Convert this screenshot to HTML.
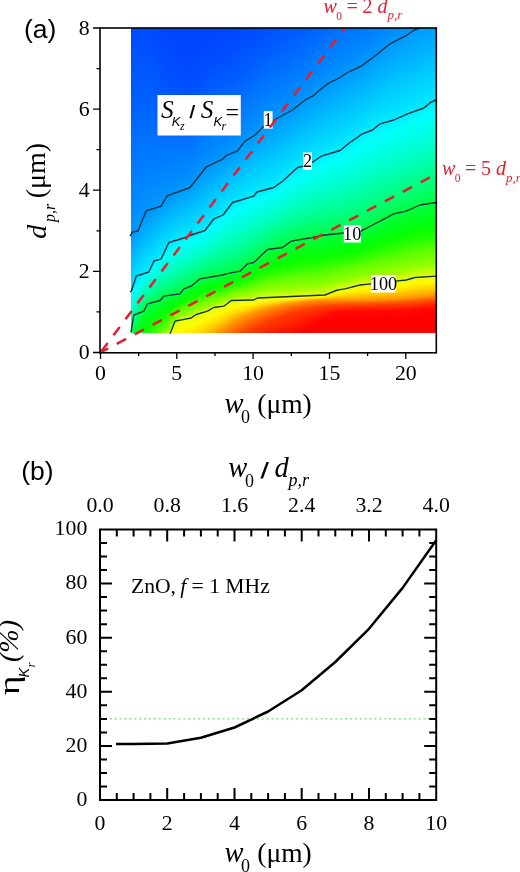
<!DOCTYPE html>
<html lang="en"><head><meta charset="utf-8"><title>Figure</title>
<style>html,body{margin:0;padding:0;background:#fff}svg{display:block}text{font-family:"Liberation Serif","Times New Roman",serif;fill:#000}.ss{font-family:"Liberation Sans",Arial,sans-serif}.it{font-style:italic}.red{fill:#e3202e}</style></head><body>
<svg width="520" height="872" viewBox="0 0 520 872">
<defs><linearGradient id="g0" x1="0" y1="0" x2="0" y2="1"><stop offset="0.000" stop-color="#004aff"/><stop offset="0.016" stop-color="#004bff"/><stop offset="0.251" stop-color="#005fff"/><stop offset="0.407" stop-color="#0073ff"/><stop offset="0.568" stop-color="#0087ff"/><stop offset="0.680" stop-color="#0098ff"/><stop offset="0.861" stop-color="#00ebff"/><stop offset="0.876" stop-color="#00fffa"/><stop offset="0.896" stop-color="#00ffeb"/><stop offset="0.927" stop-color="#00ffc8"/><stop offset="0.963" stop-color="#00ff96"/><stop offset="0.999" stop-color="#00ff5a"/><stop offset="1.000" stop-color="#00ff57"/></linearGradient>
<linearGradient id="g1" x1="0" y1="0" x2="0" y2="1"><stop offset="0.000" stop-color="#004bff"/><stop offset="0.010" stop-color="#004bff"/><stop offset="0.244" stop-color="#005fff"/><stop offset="0.399" stop-color="#0073ff"/><stop offset="0.559" stop-color="#0087ff"/><stop offset="0.669" stop-color="#0098ff"/><stop offset="0.850" stop-color="#00ebff"/><stop offset="0.864" stop-color="#00fffa"/><stop offset="0.882" stop-color="#00ffeb"/><stop offset="0.912" stop-color="#00ffc8"/><stop offset="0.945" stop-color="#00ff96"/><stop offset="0.979" stop-color="#00ff5a"/><stop offset="0.990" stop-color="#00ff41"/><stop offset="1.000" stop-color="#00ff35"/></linearGradient>
<linearGradient id="g2" x1="0" y1="0" x2="0" y2="1"><stop offset="0.000" stop-color="#004bff"/><stop offset="0.005" stop-color="#004bff"/><stop offset="0.237" stop-color="#005fff"/><stop offset="0.391" stop-color="#0073ff"/><stop offset="0.549" stop-color="#0087ff"/><stop offset="0.659" stop-color="#0098ff"/><stop offset="0.840" stop-color="#00ebff"/><stop offset="0.853" stop-color="#00fffa"/><stop offset="0.870" stop-color="#00ffeb"/><stop offset="0.898" stop-color="#00ffc8"/><stop offset="0.929" stop-color="#00ff96"/><stop offset="0.961" stop-color="#00ff5a"/><stop offset="0.972" stop-color="#00ff41"/><stop offset="1.000" stop-color="#00ff21"/></linearGradient>
<linearGradient id="g3" x1="0" y1="0" x2="0" y2="1"><stop offset="0.000" stop-color="#004bff"/><stop offset="0.001" stop-color="#004bff"/><stop offset="0.231" stop-color="#005fff"/><stop offset="0.383" stop-color="#0073ff"/><stop offset="0.541" stop-color="#0087ff"/><stop offset="0.650" stop-color="#0098ff"/><stop offset="0.830" stop-color="#00ebff"/><stop offset="0.843" stop-color="#00fffa"/><stop offset="0.859" stop-color="#00ffeb"/><stop offset="0.885" stop-color="#00ffc8"/><stop offset="0.915" stop-color="#00ff96"/><stop offset="0.945" stop-color="#00ff5a"/><stop offset="0.955" stop-color="#00ff41"/><stop offset="0.993" stop-color="#00ff19"/><stop offset="1.000" stop-color="#02ff13"/></linearGradient>
<linearGradient id="g4" x1="0" y1="0" x2="0" y2="1"><stop offset="0.000" stop-color="#004bff"/><stop offset="0.226" stop-color="#005fff"/><stop offset="0.377" stop-color="#0073ff"/><stop offset="0.533" stop-color="#0087ff"/><stop offset="0.641" stop-color="#0098ff"/><stop offset="0.821" stop-color="#00ebff"/><stop offset="0.833" stop-color="#00fffa"/><stop offset="0.849" stop-color="#00ffeb"/><stop offset="0.874" stop-color="#00ffc8"/><stop offset="0.903" stop-color="#00ff96"/><stop offset="0.932" stop-color="#00ff5a"/><stop offset="0.942" stop-color="#00ff41"/><stop offset="0.981" stop-color="#00ff19"/><stop offset="1.000" stop-color="#06ff0a"/></linearGradient>
<linearGradient id="g5" x1="0" y1="0" x2="0" y2="1"><stop offset="0.000" stop-color="#004cff"/><stop offset="0.221" stop-color="#005fff"/><stop offset="0.371" stop-color="#0073ff"/><stop offset="0.526" stop-color="#0087ff"/><stop offset="0.633" stop-color="#0098ff"/><stop offset="0.811" stop-color="#00ebff"/><stop offset="0.823" stop-color="#00fffa"/><stop offset="0.839" stop-color="#00ffeb"/><stop offset="0.864" stop-color="#00ffc8"/><stop offset="0.893" stop-color="#00ff96"/><stop offset="0.921" stop-color="#00ff5a"/><stop offset="0.931" stop-color="#00ff41"/><stop offset="0.970" stop-color="#00ff19"/><stop offset="1.000" stop-color="#09ff02"/></linearGradient>
<linearGradient id="g6" x1="0" y1="0" x2="0" y2="1"><stop offset="0.000" stop-color="#004cff"/><stop offset="0.217" stop-color="#005fff"/><stop offset="0.366" stop-color="#0073ff"/><stop offset="0.520" stop-color="#0087ff"/><stop offset="0.626" stop-color="#0098ff"/><stop offset="0.803" stop-color="#00ebff"/><stop offset="0.815" stop-color="#00fffa"/><stop offset="0.830" stop-color="#00ffeb"/><stop offset="0.855" stop-color="#00ffc8"/><stop offset="0.884" stop-color="#00ff96"/><stop offset="0.913" stop-color="#00ff5a"/><stop offset="0.922" stop-color="#00ff41"/><stop offset="0.962" stop-color="#00ff19"/><stop offset="0.994" stop-color="#0aff00"/><stop offset="1.000" stop-color="#12ff00"/></linearGradient>
<linearGradient id="g7" x1="0" y1="0" x2="0" y2="1"><stop offset="0.000" stop-color="#004bff"/><stop offset="0.218" stop-color="#005fff"/><stop offset="0.364" stop-color="#0073ff"/><stop offset="0.515" stop-color="#0087ff"/><stop offset="0.619" stop-color="#0098ff"/><stop offset="0.796" stop-color="#00ebff"/><stop offset="0.808" stop-color="#00fffa"/><stop offset="0.824" stop-color="#00ffeb"/><stop offset="0.849" stop-color="#00ffc8"/><stop offset="0.878" stop-color="#00ff96"/><stop offset="0.907" stop-color="#00ff5a"/><stop offset="0.917" stop-color="#00ff41"/><stop offset="0.956" stop-color="#00ff19"/><stop offset="0.987" stop-color="#0aff00"/><stop offset="1.000" stop-color="#1aff00"/></linearGradient>
<linearGradient id="g8" x1="0" y1="0" x2="0" y2="1"><stop offset="0.000" stop-color="#004bff"/><stop offset="0.008" stop-color="#004bff"/><stop offset="0.222" stop-color="#005fff"/><stop offset="0.364" stop-color="#0073ff"/><stop offset="0.511" stop-color="#0087ff"/><stop offset="0.613" stop-color="#0098ff"/><stop offset="0.790" stop-color="#00ebff"/><stop offset="0.802" stop-color="#00fffa"/><stop offset="0.818" stop-color="#00ffeb"/><stop offset="0.844" stop-color="#00ffc8"/><stop offset="0.874" stop-color="#00ff96"/><stop offset="0.903" stop-color="#00ff5a"/><stop offset="0.913" stop-color="#00ff41"/><stop offset="0.951" stop-color="#00ff19"/><stop offset="0.982" stop-color="#0aff00"/><stop offset="1.000" stop-color="#21ff00"/></linearGradient>
<linearGradient id="g9" x1="0" y1="0" x2="0" y2="1"><stop offset="0.000" stop-color="#004aff"/><stop offset="0.019" stop-color="#004bff"/><stop offset="0.227" stop-color="#005fff"/><stop offset="0.365" stop-color="#0073ff"/><stop offset="0.508" stop-color="#0087ff"/><stop offset="0.606" stop-color="#0098ff"/><stop offset="0.785" stop-color="#00ebff"/><stop offset="0.797" stop-color="#00fffa"/><stop offset="0.814" stop-color="#00ffeb"/><stop offset="0.840" stop-color="#00ffc8"/><stop offset="0.869" stop-color="#00ff96"/><stop offset="0.899" stop-color="#00ff5a"/><stop offset="0.909" stop-color="#00ff41"/><stop offset="0.947" stop-color="#00ff19"/><stop offset="0.977" stop-color="#0aff00"/><stop offset="1.000" stop-color="#29ff00"/></linearGradient>
<linearGradient id="g10" x1="0" y1="0" x2="0" y2="1"><stop offset="0.000" stop-color="#004aff"/><stop offset="0.029" stop-color="#004bff"/><stop offset="0.231" stop-color="#005fff"/><stop offset="0.365" stop-color="#0073ff"/><stop offset="0.503" stop-color="#0087ff"/><stop offset="0.599" stop-color="#0098ff"/><stop offset="0.779" stop-color="#00ebff"/><stop offset="0.792" stop-color="#00fffa"/><stop offset="0.808" stop-color="#00ffeb"/><stop offset="0.834" stop-color="#00ffc8"/><stop offset="0.865" stop-color="#00ff96"/><stop offset="0.895" stop-color="#00ff5a"/><stop offset="0.905" stop-color="#00ff41"/><stop offset="0.941" stop-color="#00ff19"/><stop offset="0.971" stop-color="#0aff00"/><stop offset="1.000" stop-color="#31ff00"/></linearGradient>
<linearGradient id="g11" x1="0" y1="0" x2="0" y2="1"><stop offset="0.000" stop-color="#0049ff"/><stop offset="0.039" stop-color="#004bff"/><stop offset="0.236" stop-color="#005fff"/><stop offset="0.365" stop-color="#0073ff"/><stop offset="0.499" stop-color="#0087ff"/><stop offset="0.592" stop-color="#0098ff"/><stop offset="0.773" stop-color="#00ebff"/><stop offset="0.786" stop-color="#00fffa"/><stop offset="0.802" stop-color="#00ffeb"/><stop offset="0.829" stop-color="#00ffc8"/><stop offset="0.859" stop-color="#00ff96"/><stop offset="0.890" stop-color="#00ff5a"/><stop offset="0.900" stop-color="#00ff41"/><stop offset="0.936" stop-color="#00ff19"/><stop offset="0.965" stop-color="#0aff00"/><stop offset="0.994" stop-color="#32ff00"/><stop offset="1.000" stop-color="#3eff00"/></linearGradient>
<linearGradient id="g12" x1="0" y1="0" x2="0" y2="1"><stop offset="0.000" stop-color="#0049ff"/><stop offset="0.051" stop-color="#004bff"/><stop offset="0.240" stop-color="#005fff"/><stop offset="0.366" stop-color="#0073ff"/><stop offset="0.496" stop-color="#0087ff"/><stop offset="0.586" stop-color="#0098ff"/><stop offset="0.765" stop-color="#00ebff"/><stop offset="0.778" stop-color="#00fffa"/><stop offset="0.795" stop-color="#00ffeb"/><stop offset="0.823" stop-color="#00ffc8"/><stop offset="0.854" stop-color="#00ff96"/><stop offset="0.886" stop-color="#00ff5a"/><stop offset="0.896" stop-color="#00ff41"/><stop offset="0.931" stop-color="#00ff19"/><stop offset="0.959" stop-color="#0aff00"/><stop offset="0.988" stop-color="#32ff00"/><stop offset="1.000" stop-color="#4cff00"/></linearGradient>
<linearGradient id="g13" x1="0" y1="0" x2="0" y2="1"><stop offset="0.000" stop-color="#0048ff"/><stop offset="0.063" stop-color="#004bff"/><stop offset="0.246" stop-color="#005fff"/><stop offset="0.368" stop-color="#0073ff"/><stop offset="0.494" stop-color="#0087ff"/><stop offset="0.580" stop-color="#0098ff"/><stop offset="0.757" stop-color="#00ebff"/><stop offset="0.771" stop-color="#00fffa"/><stop offset="0.788" stop-color="#00ffeb"/><stop offset="0.817" stop-color="#00ffc8"/><stop offset="0.849" stop-color="#00ff96"/><stop offset="0.881" stop-color="#00ff5a"/><stop offset="0.892" stop-color="#00ff41"/><stop offset="0.926" stop-color="#00ff19"/><stop offset="0.954" stop-color="#0aff00"/><stop offset="0.981" stop-color="#32ff00"/><stop offset="1.000" stop-color="#5aff00"/></linearGradient>
<linearGradient id="g14" x1="0" y1="0" x2="0" y2="1"><stop offset="0.000" stop-color="#0047ff"/><stop offset="0.076" stop-color="#004bff"/><stop offset="0.253" stop-color="#005fff"/><stop offset="0.371" stop-color="#0073ff"/><stop offset="0.492" stop-color="#0087ff"/><stop offset="0.576" stop-color="#0098ff"/><stop offset="0.749" stop-color="#00ebff"/><stop offset="0.763" stop-color="#00fffa"/><stop offset="0.781" stop-color="#00ffeb"/><stop offset="0.811" stop-color="#00ffc8"/><stop offset="0.844" stop-color="#00ff96"/><stop offset="0.878" stop-color="#00ff5a"/><stop offset="0.889" stop-color="#00ff41"/><stop offset="0.922" stop-color="#00ff19"/><stop offset="0.949" stop-color="#0aff00"/><stop offset="0.975" stop-color="#32ff00"/><stop offset="0.993" stop-color="#5aff00"/><stop offset="1.000" stop-color="#65ff00"/></linearGradient>
<linearGradient id="g15" x1="0" y1="0" x2="0" y2="1"><stop offset="0.000" stop-color="#0047ff"/><stop offset="0.089" stop-color="#004bff"/><stop offset="0.260" stop-color="#005fff"/><stop offset="0.373" stop-color="#0073ff"/><stop offset="0.491" stop-color="#0087ff"/><stop offset="0.572" stop-color="#0098ff"/><stop offset="0.741" stop-color="#00ebff"/><stop offset="0.755" stop-color="#00fffa"/><stop offset="0.774" stop-color="#00ffeb"/><stop offset="0.805" stop-color="#00ffc8"/><stop offset="0.840" stop-color="#00ff96"/><stop offset="0.875" stop-color="#00ff5a"/><stop offset="0.887" stop-color="#00ff41"/><stop offset="0.919" stop-color="#00ff19"/><stop offset="0.944" stop-color="#0aff00"/><stop offset="0.969" stop-color="#32ff00"/><stop offset="0.986" stop-color="#5aff00"/><stop offset="1.000" stop-color="#71ff00"/></linearGradient>
<linearGradient id="g16" x1="0" y1="0" x2="0" y2="1"><stop offset="0.002" stop-color="#0046ff"/><stop offset="0.102" stop-color="#004bff"/><stop offset="0.267" stop-color="#005fff"/><stop offset="0.376" stop-color="#0073ff"/><stop offset="0.489" stop-color="#0087ff"/><stop offset="0.567" stop-color="#0098ff"/><stop offset="0.734" stop-color="#00ebff"/><stop offset="0.749" stop-color="#00fffa"/><stop offset="0.768" stop-color="#00ffeb"/><stop offset="0.800" stop-color="#00ffc8"/><stop offset="0.836" stop-color="#00ff96"/><stop offset="0.873" stop-color="#00ff5a"/><stop offset="0.885" stop-color="#00ff41"/><stop offset="0.915" stop-color="#00ff19"/><stop offset="0.939" stop-color="#0aff00"/><stop offset="0.963" stop-color="#32ff00"/><stop offset="0.979" stop-color="#5aff00"/><stop offset="1.000" stop-color="#80ff00"/></linearGradient>
<linearGradient id="g17" x1="0" y1="0" x2="0" y2="1"><stop offset="0.014" stop-color="#0046ff"/><stop offset="0.111" stop-color="#004bff"/><stop offset="0.271" stop-color="#005fff"/><stop offset="0.377" stop-color="#0073ff"/><stop offset="0.487" stop-color="#0087ff"/><stop offset="0.563" stop-color="#0098ff"/><stop offset="0.727" stop-color="#00ebff"/><stop offset="0.743" stop-color="#00fffa"/><stop offset="0.763" stop-color="#00ffeb"/><stop offset="0.796" stop-color="#00ffc8"/><stop offset="0.833" stop-color="#00ff96"/><stop offset="0.870" stop-color="#00ff5a"/><stop offset="0.883" stop-color="#00ff41"/><stop offset="0.911" stop-color="#00ff19"/><stop offset="0.933" stop-color="#0aff00"/><stop offset="0.956" stop-color="#32ff00"/><stop offset="0.971" stop-color="#5aff00"/><stop offset="1.000" stop-color="#91ff00"/></linearGradient>
<linearGradient id="g18" x1="0" y1="0" x2="0" y2="1"><stop offset="0.021" stop-color="#0046ff"/><stop offset="0.116" stop-color="#004bff"/><stop offset="0.273" stop-color="#005fff"/><stop offset="0.377" stop-color="#0073ff"/><stop offset="0.484" stop-color="#0087ff"/><stop offset="0.558" stop-color="#0098ff"/><stop offset="0.722" stop-color="#00ebff"/><stop offset="0.737" stop-color="#00fffa"/><stop offset="0.758" stop-color="#00ffeb"/><stop offset="0.792" stop-color="#00ffc8"/><stop offset="0.830" stop-color="#00ff96"/><stop offset="0.868" stop-color="#00ff5a"/><stop offset="0.881" stop-color="#00ff41"/><stop offset="0.907" stop-color="#00ff19"/><stop offset="0.928" stop-color="#0aff00"/><stop offset="0.949" stop-color="#32ff00"/><stop offset="0.963" stop-color="#5aff00"/><stop offset="0.992" stop-color="#96ff00"/><stop offset="1.000" stop-color="#b8ff06"/></linearGradient>
<linearGradient id="g19" x1="0" y1="0" x2="0" y2="1"><stop offset="0.027" stop-color="#0046ff"/><stop offset="0.121" stop-color="#004bff"/><stop offset="0.274" stop-color="#005fff"/><stop offset="0.376" stop-color="#0073ff"/><stop offset="0.481" stop-color="#0087ff"/><stop offset="0.554" stop-color="#0098ff"/><stop offset="0.716" stop-color="#00ebff"/><stop offset="0.732" stop-color="#00fffa"/><stop offset="0.753" stop-color="#00ffeb"/><stop offset="0.787" stop-color="#00ffc8"/><stop offset="0.826" stop-color="#00ff96"/><stop offset="0.865" stop-color="#00ff5a"/><stop offset="0.878" stop-color="#00ff41"/><stop offset="0.902" stop-color="#00ff19"/><stop offset="0.922" stop-color="#0aff00"/><stop offset="0.941" stop-color="#32ff00"/><stop offset="0.955" stop-color="#5aff00"/><stop offset="0.981" stop-color="#96ff00"/><stop offset="1.000" stop-color="#e6ff0f"/><stop offset="1.000" stop-color="#e6ff0f"/></linearGradient>
<linearGradient id="g20" x1="0" y1="0" x2="0" y2="1"><stop offset="0.034" stop-color="#0046ff"/><stop offset="0.125" stop-color="#004bff"/><stop offset="0.276" stop-color="#005fff"/><stop offset="0.375" stop-color="#0073ff"/><stop offset="0.478" stop-color="#0087ff"/><stop offset="0.549" stop-color="#0098ff"/><stop offset="0.710" stop-color="#00ebff"/><stop offset="0.727" stop-color="#00fffa"/><stop offset="0.748" stop-color="#00ffeb"/><stop offset="0.783" stop-color="#00ffc8"/><stop offset="0.822" stop-color="#00ff96"/><stop offset="0.862" stop-color="#00ff5a"/><stop offset="0.875" stop-color="#00ff41"/><stop offset="0.898" stop-color="#00ff19"/><stop offset="0.916" stop-color="#0aff00"/><stop offset="0.934" stop-color="#32ff00"/><stop offset="0.947" stop-color="#5aff00"/><stop offset="0.972" stop-color="#96ff00"/><stop offset="0.989" stop-color="#e6ff0f"/><stop offset="1.000" stop-color="#effd0a"/></linearGradient>
<linearGradient id="g21" x1="0" y1="0" x2="0" y2="1"><stop offset="0.041" stop-color="#0046ff"/><stop offset="0.130" stop-color="#004bff"/><stop offset="0.277" stop-color="#005fff"/><stop offset="0.374" stop-color="#0073ff"/><stop offset="0.475" stop-color="#0087ff"/><stop offset="0.545" stop-color="#0098ff"/><stop offset="0.704" stop-color="#00ebff"/><stop offset="0.721" stop-color="#00fffa"/><stop offset="0.743" stop-color="#00ffeb"/><stop offset="0.778" stop-color="#00ffc8"/><stop offset="0.818" stop-color="#00ff96"/><stop offset="0.859" stop-color="#00ff5a"/><stop offset="0.872" stop-color="#00ff41"/><stop offset="0.893" stop-color="#00ff19"/><stop offset="0.911" stop-color="#0aff00"/><stop offset="0.928" stop-color="#32ff00"/><stop offset="0.940" stop-color="#5aff00"/><stop offset="0.963" stop-color="#96ff00"/><stop offset="0.979" stop-color="#e6ff0f"/><stop offset="1.000" stop-color="#f6fc06"/></linearGradient>
<linearGradient id="g22" x1="0" y1="0" x2="0" y2="1"><stop offset="0.048" stop-color="#0046ff"/><stop offset="0.135" stop-color="#004bff"/><stop offset="0.279" stop-color="#005fff"/><stop offset="0.374" stop-color="#0073ff"/><stop offset="0.473" stop-color="#0087ff"/><stop offset="0.541" stop-color="#0098ff"/><stop offset="0.699" stop-color="#00ebff"/><stop offset="0.716" stop-color="#00fffa"/><stop offset="0.738" stop-color="#00ffeb"/><stop offset="0.774" stop-color="#00ffc8"/><stop offset="0.815" stop-color="#00ff96"/><stop offset="0.856" stop-color="#00ff5a"/><stop offset="0.869" stop-color="#00ff41"/><stop offset="0.890" stop-color="#00ff19"/><stop offset="0.906" stop-color="#0aff00"/><stop offset="0.922" stop-color="#32ff00"/><stop offset="0.933" stop-color="#5aff00"/><stop offset="0.956" stop-color="#96ff00"/><stop offset="0.971" stop-color="#e6ff0f"/><stop offset="1.000" stop-color="#fbfb02"/></linearGradient>
<linearGradient id="g23" x1="0" y1="0" x2="0" y2="1"><stop offset="0.055" stop-color="#0046ff"/><stop offset="0.141" stop-color="#004bff"/><stop offset="0.281" stop-color="#005fff"/><stop offset="0.374" stop-color="#0073ff"/><stop offset="0.471" stop-color="#0087ff"/><stop offset="0.537" stop-color="#0098ff"/><stop offset="0.695" stop-color="#00ebff"/><stop offset="0.712" stop-color="#00fffa"/><stop offset="0.735" stop-color="#00ffeb"/><stop offset="0.771" stop-color="#00ffc8"/><stop offset="0.812" stop-color="#00ff96"/><stop offset="0.853" stop-color="#00ff5a"/><stop offset="0.867" stop-color="#00ff41"/><stop offset="0.886" stop-color="#00ff19"/><stop offset="0.902" stop-color="#0aff00"/><stop offset="0.918" stop-color="#32ff00"/><stop offset="0.928" stop-color="#5aff00"/><stop offset="0.950" stop-color="#96ff00"/><stop offset="0.965" stop-color="#e6ff0f"/><stop offset="0.999" stop-color="#fffa00"/><stop offset="1.000" stop-color="#fff900"/></linearGradient>
<linearGradient id="g24" x1="0" y1="0" x2="0" y2="1"><stop offset="0.064" stop-color="#0046ff"/><stop offset="0.147" stop-color="#004bff"/><stop offset="0.284" stop-color="#005fff"/><stop offset="0.375" stop-color="#0073ff"/><stop offset="0.469" stop-color="#0087ff"/><stop offset="0.534" stop-color="#0098ff"/><stop offset="0.692" stop-color="#00ebff"/><stop offset="0.709" stop-color="#00fffa"/><stop offset="0.732" stop-color="#00ffeb"/><stop offset="0.768" stop-color="#00ffc8"/><stop offset="0.809" stop-color="#00ff96"/><stop offset="0.850" stop-color="#00ff5a"/><stop offset="0.864" stop-color="#00ff41"/><stop offset="0.883" stop-color="#00ff19"/><stop offset="0.899" stop-color="#0aff00"/><stop offset="0.914" stop-color="#32ff00"/><stop offset="0.924" stop-color="#5aff00"/><stop offset="0.945" stop-color="#96ff00"/><stop offset="0.960" stop-color="#e6ff0f"/><stop offset="0.994" stop-color="#fffa00"/><stop offset="1.000" stop-color="#fff500"/></linearGradient>
<linearGradient id="g25" x1="0" y1="0" x2="0" y2="1"><stop offset="0.072" stop-color="#0046ff"/><stop offset="0.153" stop-color="#004bff"/><stop offset="0.287" stop-color="#005fff"/><stop offset="0.376" stop-color="#0073ff"/><stop offset="0.468" stop-color="#0087ff"/><stop offset="0.531" stop-color="#0098ff"/><stop offset="0.690" stop-color="#00ebff"/><stop offset="0.707" stop-color="#00fffa"/><stop offset="0.729" stop-color="#00ffeb"/><stop offset="0.765" stop-color="#00ffc8"/><stop offset="0.806" stop-color="#00ff96"/><stop offset="0.848" stop-color="#00ff5a"/><stop offset="0.861" stop-color="#00ff41"/><stop offset="0.880" stop-color="#00ff19"/><stop offset="0.896" stop-color="#0aff00"/><stop offset="0.911" stop-color="#32ff00"/><stop offset="0.922" stop-color="#5aff00"/><stop offset="0.943" stop-color="#96ff00"/><stop offset="0.957" stop-color="#e6ff0f"/><stop offset="0.991" stop-color="#fffa00"/><stop offset="1.000" stop-color="#fff200"/></linearGradient>
<linearGradient id="g26" x1="0" y1="0" x2="0" y2="1"><stop offset="0.079" stop-color="#0046ff"/><stop offset="0.158" stop-color="#004bff"/><stop offset="0.289" stop-color="#005fff"/><stop offset="0.376" stop-color="#0073ff"/><stop offset="0.466" stop-color="#0087ff"/><stop offset="0.528" stop-color="#0098ff"/><stop offset="0.687" stop-color="#00ebff"/><stop offset="0.704" stop-color="#00fffa"/><stop offset="0.727" stop-color="#00ffeb"/><stop offset="0.762" stop-color="#00ffc8"/><stop offset="0.803" stop-color="#00ff96"/><stop offset="0.844" stop-color="#00ff5a"/><stop offset="0.858" stop-color="#00ff41"/><stop offset="0.877" stop-color="#00ff19"/><stop offset="0.893" stop-color="#0aff00"/><stop offset="0.909" stop-color="#32ff00"/><stop offset="0.919" stop-color="#5aff00"/><stop offset="0.941" stop-color="#96ff00"/><stop offset="0.956" stop-color="#e6ff0f"/><stop offset="0.989" stop-color="#fffa00"/><stop offset="1.000" stop-color="#fff000"/></linearGradient>
<linearGradient id="g27" x1="0" y1="0" x2="0" y2="1"><stop offset="0.086" stop-color="#0046ff"/><stop offset="0.163" stop-color="#004bff"/><stop offset="0.291" stop-color="#005fff"/><stop offset="0.376" stop-color="#0073ff"/><stop offset="0.463" stop-color="#0087ff"/><stop offset="0.523" stop-color="#0098ff"/><stop offset="0.685" stop-color="#00ebff"/><stop offset="0.702" stop-color="#00fffa"/><stop offset="0.724" stop-color="#00ffeb"/><stop offset="0.760" stop-color="#00ffc8"/><stop offset="0.800" stop-color="#00ff96"/><stop offset="0.841" stop-color="#00ff5a"/><stop offset="0.854" stop-color="#00ff41"/><stop offset="0.874" stop-color="#00ff19"/><stop offset="0.890" stop-color="#0aff00"/><stop offset="0.906" stop-color="#32ff00"/><stop offset="0.917" stop-color="#5aff00"/><stop offset="0.939" stop-color="#96ff00"/><stop offset="0.954" stop-color="#e6ff0f"/><stop offset="0.986" stop-color="#fffa00"/><stop offset="1.000" stop-color="#ffed00"/></linearGradient>
<linearGradient id="g28" x1="0" y1="0" x2="0" y2="1"><stop offset="0.093" stop-color="#0046ff"/><stop offset="0.168" stop-color="#004bff"/><stop offset="0.292" stop-color="#005fff"/><stop offset="0.375" stop-color="#0073ff"/><stop offset="0.460" stop-color="#0087ff"/><stop offset="0.519" stop-color="#0098ff"/><stop offset="0.683" stop-color="#00ebff"/><stop offset="0.700" stop-color="#00fffa"/><stop offset="0.721" stop-color="#00ffeb"/><stop offset="0.757" stop-color="#00ffc8"/><stop offset="0.797" stop-color="#00ff96"/><stop offset="0.837" stop-color="#00ff5a"/><stop offset="0.850" stop-color="#00ff41"/><stop offset="0.871" stop-color="#00ff19"/><stop offset="0.887" stop-color="#0aff00"/><stop offset="0.903" stop-color="#32ff00"/><stop offset="0.914" stop-color="#5aff00"/><stop offset="0.937" stop-color="#96ff00"/><stop offset="0.952" stop-color="#e6ff0f"/><stop offset="0.984" stop-color="#fffa00"/><stop offset="1.000" stop-color="#ffea00"/></linearGradient>
<linearGradient id="g29" x1="0" y1="0" x2="0" y2="1"><stop offset="0.087" stop-color="#0046ff"/><stop offset="0.163" stop-color="#004bff"/><stop offset="0.287" stop-color="#005fff"/><stop offset="0.370" stop-color="#0073ff"/><stop offset="0.455" stop-color="#0087ff"/><stop offset="0.514" stop-color="#0098ff"/><stop offset="0.681" stop-color="#00ebff"/><stop offset="0.697" stop-color="#00fffa"/><stop offset="0.719" stop-color="#00ffeb"/><stop offset="0.753" stop-color="#00ffc8"/><stop offset="0.793" stop-color="#00ff96"/><stop offset="0.833" stop-color="#00ff5a"/><stop offset="0.846" stop-color="#00ff41"/><stop offset="0.867" stop-color="#00ff19"/><stop offset="0.883" stop-color="#0aff00"/><stop offset="0.900" stop-color="#32ff00"/><stop offset="0.911" stop-color="#5aff00"/><stop offset="0.934" stop-color="#96ff00"/><stop offset="0.950" stop-color="#e6ff0f"/><stop offset="0.981" stop-color="#fffa00"/><stop offset="1.000" stop-color="#ffe700"/></linearGradient>
<linearGradient id="g30" x1="0" y1="0" x2="0" y2="1"><stop offset="0.082" stop-color="#0046ff"/><stop offset="0.157" stop-color="#004bff"/><stop offset="0.282" stop-color="#005fff"/><stop offset="0.364" stop-color="#0073ff"/><stop offset="0.449" stop-color="#0087ff"/><stop offset="0.508" stop-color="#0098ff"/><stop offset="0.678" stop-color="#00ebff"/><stop offset="0.695" stop-color="#00fffa"/><stop offset="0.716" stop-color="#00ffeb"/><stop offset="0.750" stop-color="#00ffc8"/><stop offset="0.790" stop-color="#00ff96"/><stop offset="0.829" stop-color="#00ff5a"/><stop offset="0.842" stop-color="#00ff41"/><stop offset="0.863" stop-color="#00ff19"/><stop offset="0.880" stop-color="#0aff00"/><stop offset="0.897" stop-color="#32ff00"/><stop offset="0.908" stop-color="#5aff00"/><stop offset="0.931" stop-color="#96ff00"/><stop offset="0.947" stop-color="#e6ff0f"/><stop offset="0.978" stop-color="#fffa00"/><stop offset="1.000" stop-color="#ffe400"/></linearGradient>
<linearGradient id="g31" x1="0" y1="0" x2="0" y2="1"><stop offset="0.076" stop-color="#0046ff"/><stop offset="0.151" stop-color="#004bff"/><stop offset="0.276" stop-color="#005fff"/><stop offset="0.358" stop-color="#0073ff"/><stop offset="0.443" stop-color="#0087ff"/><stop offset="0.502" stop-color="#0098ff"/><stop offset="0.676" stop-color="#00ebff"/><stop offset="0.692" stop-color="#00fffa"/><stop offset="0.713" stop-color="#00ffeb"/><stop offset="0.747" stop-color="#00ffc8"/><stop offset="0.786" stop-color="#00ff96"/><stop offset="0.825" stop-color="#00ff5a"/><stop offset="0.838" stop-color="#00ff41"/><stop offset="0.859" stop-color="#00ff19"/><stop offset="0.876" stop-color="#0aff00"/><stop offset="0.893" stop-color="#32ff00"/><stop offset="0.905" stop-color="#5aff00"/><stop offset="0.929" stop-color="#96ff00"/><stop offset="0.945" stop-color="#e6ff0f"/><stop offset="0.975" stop-color="#fffa00"/><stop offset="1.000" stop-color="#ffe000"/></linearGradient>
<linearGradient id="g32" x1="0" y1="0" x2="0" y2="1"><stop offset="0.070" stop-color="#0046ff"/><stop offset="0.145" stop-color="#004bff"/><stop offset="0.270" stop-color="#005fff"/><stop offset="0.352" stop-color="#0073ff"/><stop offset="0.437" stop-color="#0087ff"/><stop offset="0.496" stop-color="#0098ff"/><stop offset="0.673" stop-color="#00ebff"/><stop offset="0.689" stop-color="#00fffa"/><stop offset="0.710" stop-color="#00ffeb"/><stop offset="0.744" stop-color="#00ffc8"/><stop offset="0.783" stop-color="#00ff96"/><stop offset="0.822" stop-color="#00ff5a"/><stop offset="0.835" stop-color="#00ff41"/><stop offset="0.856" stop-color="#00ff19"/><stop offset="0.873" stop-color="#0aff00"/><stop offset="0.890" stop-color="#32ff00"/><stop offset="0.902" stop-color="#5aff00"/><stop offset="0.926" stop-color="#96ff00"/><stop offset="0.942" stop-color="#e6ff0f"/><stop offset="0.972" stop-color="#fffa00"/><stop offset="1.000" stop-color="#ffdc00"/></linearGradient>
<linearGradient id="g33" x1="0" y1="0" x2="0" y2="1"><stop offset="0.063" stop-color="#0046ff"/><stop offset="0.139" stop-color="#004bff"/><stop offset="0.263" stop-color="#005fff"/><stop offset="0.346" stop-color="#0073ff"/><stop offset="0.431" stop-color="#0087ff"/><stop offset="0.490" stop-color="#0098ff"/><stop offset="0.670" stop-color="#00ebff"/><stop offset="0.686" stop-color="#00fffa"/><stop offset="0.707" stop-color="#00ffeb"/><stop offset="0.741" stop-color="#00ffc8"/><stop offset="0.780" stop-color="#00ff96"/><stop offset="0.819" stop-color="#00ff5a"/><stop offset="0.832" stop-color="#00ff41"/><stop offset="0.853" stop-color="#00ff19"/><stop offset="0.870" stop-color="#0aff00"/><stop offset="0.888" stop-color="#32ff00"/><stop offset="0.899" stop-color="#5aff00"/><stop offset="0.923" stop-color="#96ff00"/><stop offset="0.939" stop-color="#e6ff0f"/><stop offset="0.968" stop-color="#fffa00"/><stop offset="0.997" stop-color="#ffdc00"/><stop offset="1.000" stop-color="#ffd700"/></linearGradient>
<linearGradient id="g34" x1="0" y1="0" x2="0" y2="1"><stop offset="0.057" stop-color="#0046ff"/><stop offset="0.132" stop-color="#004bff"/><stop offset="0.257" stop-color="#005fff"/><stop offset="0.339" stop-color="#0073ff"/><stop offset="0.424" stop-color="#0087ff"/><stop offset="0.483" stop-color="#0098ff"/><stop offset="0.666" stop-color="#00ebff"/><stop offset="0.682" stop-color="#00fffa"/><stop offset="0.703" stop-color="#00ffeb"/><stop offset="0.737" stop-color="#00ffc8"/><stop offset="0.777" stop-color="#00ff96"/><stop offset="0.816" stop-color="#00ff5a"/><stop offset="0.829" stop-color="#00ff41"/><stop offset="0.850" stop-color="#00ff19"/><stop offset="0.867" stop-color="#0aff00"/><stop offset="0.885" stop-color="#32ff00"/><stop offset="0.897" stop-color="#5aff00"/><stop offset="0.920" stop-color="#96ff00"/><stop offset="0.936" stop-color="#e6ff0f"/><stop offset="0.965" stop-color="#fffa00"/><stop offset="0.993" stop-color="#ffdc00"/><stop offset="1.000" stop-color="#ffd100"/></linearGradient>
<linearGradient id="g35" x1="0" y1="0" x2="0" y2="1"><stop offset="0.051" stop-color="#0046ff"/><stop offset="0.126" stop-color="#004bff"/><stop offset="0.250" stop-color="#005fff"/><stop offset="0.333" stop-color="#0073ff"/><stop offset="0.418" stop-color="#0087ff"/><stop offset="0.477" stop-color="#0098ff"/><stop offset="0.661" stop-color="#00ebff"/><stop offset="0.678" stop-color="#00fffa"/><stop offset="0.699" stop-color="#00ffeb"/><stop offset="0.734" stop-color="#00ffc8"/><stop offset="0.773" stop-color="#00ff96"/><stop offset="0.813" stop-color="#00ff5a"/><stop offset="0.826" stop-color="#00ff41"/><stop offset="0.848" stop-color="#00ff19"/><stop offset="0.865" stop-color="#0aff00"/><stop offset="0.882" stop-color="#32ff00"/><stop offset="0.894" stop-color="#5aff00"/><stop offset="0.918" stop-color="#96ff00"/><stop offset="0.934" stop-color="#e6ff0f"/><stop offset="0.962" stop-color="#fffa00"/><stop offset="0.989" stop-color="#ffdc00"/><stop offset="1.000" stop-color="#ffcb00"/></linearGradient>
<linearGradient id="g36" x1="0" y1="0" x2="0" y2="1"><stop offset="0.044" stop-color="#0046ff"/><stop offset="0.120" stop-color="#004bff"/><stop offset="0.244" stop-color="#005fff"/><stop offset="0.326" stop-color="#0073ff"/><stop offset="0.412" stop-color="#0087ff"/><stop offset="0.470" stop-color="#0098ff"/><stop offset="0.657" stop-color="#00ebff"/><stop offset="0.673" stop-color="#00fffa"/><stop offset="0.695" stop-color="#00ffeb"/><stop offset="0.730" stop-color="#00ffc8"/><stop offset="0.770" stop-color="#00ff96"/><stop offset="0.810" stop-color="#00ff5a"/><stop offset="0.823" stop-color="#00ff41"/><stop offset="0.845" stop-color="#00ff19"/><stop offset="0.862" stop-color="#0aff00"/><stop offset="0.879" stop-color="#32ff00"/><stop offset="0.891" stop-color="#5aff00"/><stop offset="0.915" stop-color="#96ff00"/><stop offset="0.931" stop-color="#e6ff0f"/><stop offset="0.959" stop-color="#fffa00"/><stop offset="0.986" stop-color="#ffdc00"/><stop offset="1.000" stop-color="#ffc500"/></linearGradient>
<linearGradient id="g37" x1="0" y1="0" x2="0" y2="1"><stop offset="0.038" stop-color="#0046ff"/><stop offset="0.114" stop-color="#004bff"/><stop offset="0.238" stop-color="#005fff"/><stop offset="0.320" stop-color="#0073ff"/><stop offset="0.406" stop-color="#0087ff"/><stop offset="0.464" stop-color="#0098ff"/><stop offset="0.652" stop-color="#00ebff"/><stop offset="0.669" stop-color="#00fffa"/><stop offset="0.691" stop-color="#00ffeb"/><stop offset="0.726" stop-color="#00ffc8"/><stop offset="0.767" stop-color="#00ff96"/><stop offset="0.807" stop-color="#00ff5a"/><stop offset="0.821" stop-color="#00ff41"/><stop offset="0.842" stop-color="#00ff19"/><stop offset="0.860" stop-color="#0aff00"/><stop offset="0.877" stop-color="#32ff00"/><stop offset="0.889" stop-color="#5aff00"/><stop offset="0.913" stop-color="#96ff00"/><stop offset="0.929" stop-color="#e6ff0f"/><stop offset="0.956" stop-color="#fffa00"/><stop offset="0.982" stop-color="#ffdc00"/><stop offset="1.000" stop-color="#ffbf00"/></linearGradient>
<linearGradient id="g38" x1="0" y1="0" x2="0" y2="1"><stop offset="0.033" stop-color="#0046ff"/><stop offset="0.108" stop-color="#004bff"/><stop offset="0.232" stop-color="#005fff"/><stop offset="0.315" stop-color="#0073ff"/><stop offset="0.400" stop-color="#0087ff"/><stop offset="0.459" stop-color="#0098ff"/><stop offset="0.648" stop-color="#00ebff"/><stop offset="0.665" stop-color="#00fffa"/><stop offset="0.687" stop-color="#00ffeb"/><stop offset="0.723" stop-color="#00ffc8"/><stop offset="0.764" stop-color="#00ff96"/><stop offset="0.805" stop-color="#00ff5a"/><stop offset="0.819" stop-color="#00ff41"/><stop offset="0.840" stop-color="#00ff19"/><stop offset="0.857" stop-color="#0aff00"/><stop offset="0.875" stop-color="#32ff00"/><stop offset="0.886" stop-color="#5aff00"/><stop offset="0.910" stop-color="#96ff00"/><stop offset="0.926" stop-color="#e6ff0f"/><stop offset="0.953" stop-color="#fffa00"/><stop offset="0.978" stop-color="#ffdc00"/><stop offset="1.000" stop-color="#ffb800"/></linearGradient>
<linearGradient id="g39" x1="0" y1="0" x2="0" y2="1"><stop offset="0.027" stop-color="#0046ff"/><stop offset="0.103" stop-color="#004bff"/><stop offset="0.227" stop-color="#005fff"/><stop offset="0.309" stop-color="#0073ff"/><stop offset="0.395" stop-color="#0087ff"/><stop offset="0.454" stop-color="#0098ff"/><stop offset="0.643" stop-color="#00ebff"/><stop offset="0.660" stop-color="#00fffa"/><stop offset="0.683" stop-color="#00ffeb"/><stop offset="0.719" stop-color="#00ffc8"/><stop offset="0.761" stop-color="#00ff96"/><stop offset="0.803" stop-color="#00ff5a"/><stop offset="0.817" stop-color="#00ff41"/><stop offset="0.838" stop-color="#00ff19"/><stop offset="0.855" stop-color="#0aff00"/><stop offset="0.872" stop-color="#32ff00"/><stop offset="0.884" stop-color="#5aff00"/><stop offset="0.908" stop-color="#96ff00"/><stop offset="0.924" stop-color="#e6ff0f"/><stop offset="0.950" stop-color="#fffa00"/><stop offset="0.975" stop-color="#ffdc00"/><stop offset="1.000" stop-color="#ffb100"/></linearGradient>
<linearGradient id="g40" x1="0" y1="0" x2="0" y2="1"><stop offset="0.022" stop-color="#0046ff"/><stop offset="0.098" stop-color="#004bff"/><stop offset="0.222" stop-color="#005fff"/><stop offset="0.305" stop-color="#0073ff"/><stop offset="0.390" stop-color="#0087ff"/><stop offset="0.449" stop-color="#0098ff"/><stop offset="0.638" stop-color="#00ebff"/><stop offset="0.656" stop-color="#00fffa"/><stop offset="0.679" stop-color="#00ffeb"/><stop offset="0.716" stop-color="#00ffc8"/><stop offset="0.759" stop-color="#00ff96"/><stop offset="0.801" stop-color="#00ff5a"/><stop offset="0.816" stop-color="#00ff41"/><stop offset="0.837" stop-color="#00ff19"/><stop offset="0.854" stop-color="#0aff00"/><stop offset="0.871" stop-color="#32ff00"/><stop offset="0.882" stop-color="#5aff00"/><stop offset="0.905" stop-color="#96ff00"/><stop offset="0.921" stop-color="#e6ff0f"/><stop offset="0.947" stop-color="#fffa00"/><stop offset="0.971" stop-color="#ffdc00"/><stop offset="1.000" stop-color="#ffaa00"/></linearGradient>
<linearGradient id="g41" x1="0" y1="0" x2="0" y2="1"><stop offset="0.018" stop-color="#0046ff"/><stop offset="0.093" stop-color="#004bff"/><stop offset="0.218" stop-color="#005fff"/><stop offset="0.300" stop-color="#0073ff"/><stop offset="0.385" stop-color="#0087ff"/><stop offset="0.444" stop-color="#0098ff"/><stop offset="0.633" stop-color="#00ebff"/><stop offset="0.651" stop-color="#00fffa"/><stop offset="0.675" stop-color="#00ffeb"/><stop offset="0.713" stop-color="#00ffc8"/><stop offset="0.756" stop-color="#00ff96"/><stop offset="0.800" stop-color="#00ff5a"/><stop offset="0.814" stop-color="#00ff41"/><stop offset="0.835" stop-color="#00ff19"/><stop offset="0.852" stop-color="#0aff00"/><stop offset="0.869" stop-color="#32ff00"/><stop offset="0.880" stop-color="#5aff00"/><stop offset="0.903" stop-color="#96ff00"/><stop offset="0.919" stop-color="#e6ff0f"/><stop offset="0.944" stop-color="#fffa00"/><stop offset="0.968" stop-color="#ffdc00"/><stop offset="1.000" stop-color="#ffa300"/></linearGradient>
<linearGradient id="g42" x1="0" y1="0" x2="0" y2="1"><stop offset="0.013" stop-color="#0046ff"/><stop offset="0.089" stop-color="#004bff"/><stop offset="0.213" stop-color="#005fff"/><stop offset="0.295" stop-color="#0073ff"/><stop offset="0.381" stop-color="#0087ff"/><stop offset="0.440" stop-color="#0098ff"/><stop offset="0.627" stop-color="#00ebff"/><stop offset="0.646" stop-color="#00fffa"/><stop offset="0.670" stop-color="#00ffeb"/><stop offset="0.709" stop-color="#00ffc8"/><stop offset="0.753" stop-color="#00ff96"/><stop offset="0.798" stop-color="#00ff5a"/><stop offset="0.813" stop-color="#00ff41"/><stop offset="0.834" stop-color="#00ff19"/><stop offset="0.850" stop-color="#0aff00"/><stop offset="0.867" stop-color="#32ff00"/><stop offset="0.878" stop-color="#5aff00"/><stop offset="0.901" stop-color="#96ff00"/><stop offset="0.917" stop-color="#e6ff0f"/><stop offset="0.941" stop-color="#fffa00"/><stop offset="0.964" stop-color="#ffdc00"/><stop offset="1.000" stop-color="#ff9b00"/></linearGradient>
<linearGradient id="g43" x1="0" y1="0" x2="0" y2="1"><stop offset="0.009" stop-color="#0046ff"/><stop offset="0.085" stop-color="#004bff"/><stop offset="0.209" stop-color="#005fff"/><stop offset="0.292" stop-color="#0073ff"/><stop offset="0.377" stop-color="#0087ff"/><stop offset="0.436" stop-color="#0098ff"/><stop offset="0.621" stop-color="#00ebff"/><stop offset="0.640" stop-color="#00fffa"/><stop offset="0.665" stop-color="#00ffeb"/><stop offset="0.705" stop-color="#00ffc8"/><stop offset="0.751" stop-color="#00ff96"/><stop offset="0.796" stop-color="#00ff5a"/><stop offset="0.812" stop-color="#00ff41"/><stop offset="0.832" stop-color="#00ff19"/><stop offset="0.849" stop-color="#0aff00"/><stop offset="0.865" stop-color="#32ff00"/><stop offset="0.877" stop-color="#5aff00"/><stop offset="0.900" stop-color="#96ff00"/><stop offset="0.915" stop-color="#e6ff0f"/><stop offset="0.938" stop-color="#fffa00"/><stop offset="0.961" stop-color="#ffdc00"/><stop offset="0.998" stop-color="#ff9600"/><stop offset="1.000" stop-color="#ff9400"/></linearGradient>
<linearGradient id="g44" x1="0" y1="0" x2="0" y2="1"><stop offset="0.006" stop-color="#0046ff"/><stop offset="0.081" stop-color="#004bff"/><stop offset="0.206" stop-color="#005fff"/><stop offset="0.288" stop-color="#0073ff"/><stop offset="0.373" stop-color="#0087ff"/><stop offset="0.432" stop-color="#0098ff"/><stop offset="0.614" stop-color="#00ebff"/><stop offset="0.634" stop-color="#00fffa"/><stop offset="0.659" stop-color="#00ffeb"/><stop offset="0.701" stop-color="#00ffc8"/><stop offset="0.748" stop-color="#00ff96"/><stop offset="0.795" stop-color="#00ff5a"/><stop offset="0.810" stop-color="#00ff41"/><stop offset="0.831" stop-color="#00ff19"/><stop offset="0.847" stop-color="#0aff00"/><stop offset="0.864" stop-color="#32ff00"/><stop offset="0.875" stop-color="#5aff00"/><stop offset="0.898" stop-color="#96ff00"/><stop offset="0.913" stop-color="#e6ff0f"/><stop offset="0.936" stop-color="#fffa00"/><stop offset="0.957" stop-color="#ffdc00"/><stop offset="0.994" stop-color="#ff9600"/><stop offset="1.000" stop-color="#ff8e00"/></linearGradient>
<linearGradient id="g45" x1="0" y1="0" x2="0" y2="1"><stop offset="0.002" stop-color="#0046ff"/><stop offset="0.078" stop-color="#004bff"/><stop offset="0.202" stop-color="#005fff"/><stop offset="0.284" stop-color="#0073ff"/><stop offset="0.370" stop-color="#0087ff"/><stop offset="0.428" stop-color="#0098ff"/><stop offset="0.608" stop-color="#00ebff"/><stop offset="0.628" stop-color="#00fffa"/><stop offset="0.654" stop-color="#00ffeb"/><stop offset="0.696" stop-color="#00ffc8"/><stop offset="0.745" stop-color="#00ff96"/><stop offset="0.793" stop-color="#00ff5a"/><stop offset="0.809" stop-color="#00ff41"/><stop offset="0.830" stop-color="#00ff19"/><stop offset="0.846" stop-color="#0aff00"/><stop offset="0.862" stop-color="#32ff00"/><stop offset="0.873" stop-color="#5aff00"/><stop offset="0.895" stop-color="#96ff00"/><stop offset="0.911" stop-color="#e6ff0f"/><stop offset="0.933" stop-color="#fffa00"/><stop offset="0.954" stop-color="#ffdc00"/><stop offset="0.989" stop-color="#ff9600"/><stop offset="1.000" stop-color="#ff8800"/></linearGradient>
<linearGradient id="g46" x1="0" y1="0" x2="0" y2="1"><stop offset="0.000" stop-color="#0046ff"/><stop offset="0.074" stop-color="#004bff"/><stop offset="0.199" stop-color="#005fff"/><stop offset="0.281" stop-color="#0073ff"/><stop offset="0.366" stop-color="#0087ff"/><stop offset="0.425" stop-color="#0098ff"/><stop offset="0.602" stop-color="#00ebff"/><stop offset="0.623" stop-color="#00fffa"/><stop offset="0.650" stop-color="#00ffeb"/><stop offset="0.693" stop-color="#00ffc8"/><stop offset="0.742" stop-color="#00ff96"/><stop offset="0.791" stop-color="#00ff5a"/><stop offset="0.808" stop-color="#00ff41"/><stop offset="0.828" stop-color="#00ff19"/><stop offset="0.844" stop-color="#0aff00"/><stop offset="0.860" stop-color="#32ff00"/><stop offset="0.871" stop-color="#5aff00"/><stop offset="0.893" stop-color="#96ff00"/><stop offset="0.908" stop-color="#e6ff0f"/><stop offset="0.930" stop-color="#fffa00"/><stop offset="0.950" stop-color="#ffdc00"/><stop offset="0.985" stop-color="#ff9600"/><stop offset="1.000" stop-color="#ff8100"/></linearGradient>
<linearGradient id="g47" x1="0" y1="0" x2="0" y2="1"><stop offset="0.000" stop-color="#0046ff"/><stop offset="0.071" stop-color="#004bff"/><stop offset="0.195" stop-color="#005fff"/><stop offset="0.277" stop-color="#0073ff"/><stop offset="0.363" stop-color="#0087ff"/><stop offset="0.421" stop-color="#0098ff"/><stop offset="0.597" stop-color="#00ebff"/><stop offset="0.618" stop-color="#00fffa"/><stop offset="0.645" stop-color="#00ffeb"/><stop offset="0.689" stop-color="#00ffc8"/><stop offset="0.740" stop-color="#00ff96"/><stop offset="0.790" stop-color="#00ff5a"/><stop offset="0.807" stop-color="#00ff41"/><stop offset="0.826" stop-color="#00ff19"/><stop offset="0.842" stop-color="#0aff00"/><stop offset="0.858" stop-color="#32ff00"/><stop offset="0.869" stop-color="#5aff00"/><stop offset="0.890" stop-color="#96ff00"/><stop offset="0.905" stop-color="#e6ff0f"/><stop offset="0.926" stop-color="#fffa00"/><stop offset="0.947" stop-color="#ffdc00"/><stop offset="0.981" stop-color="#ff9600"/><stop offset="1.000" stop-color="#ff7b00"/></linearGradient>
<linearGradient id="g48" x1="0" y1="0" x2="0" y2="1"><stop offset="0.000" stop-color="#0047ff"/><stop offset="0.067" stop-color="#004bff"/><stop offset="0.191" stop-color="#005fff"/><stop offset="0.274" stop-color="#0073ff"/><stop offset="0.359" stop-color="#0087ff"/><stop offset="0.418" stop-color="#0098ff"/><stop offset="0.592" stop-color="#00ebff"/><stop offset="0.614" stop-color="#00fffa"/><stop offset="0.641" stop-color="#00ffeb"/><stop offset="0.686" stop-color="#00ffc8"/><stop offset="0.737" stop-color="#00ff96"/><stop offset="0.788" stop-color="#00ff5a"/><stop offset="0.805" stop-color="#00ff41"/><stop offset="0.825" stop-color="#00ff19"/><stop offset="0.840" stop-color="#0aff00"/><stop offset="0.856" stop-color="#32ff00"/><stop offset="0.866" stop-color="#5aff00"/><stop offset="0.888" stop-color="#96ff00"/><stop offset="0.902" stop-color="#e6ff0f"/><stop offset="0.923" stop-color="#fffa00"/><stop offset="0.943" stop-color="#ffdc00"/><stop offset="0.976" stop-color="#ff9600"/><stop offset="1.000" stop-color="#ff7400"/></linearGradient>
<linearGradient id="g49" x1="0" y1="0" x2="0" y2="1"><stop offset="0.000" stop-color="#0047ff"/><stop offset="0.063" stop-color="#004bff"/><stop offset="0.187" stop-color="#005fff"/><stop offset="0.269" stop-color="#0073ff"/><stop offset="0.355" stop-color="#0087ff"/><stop offset="0.413" stop-color="#0098ff"/><stop offset="0.588" stop-color="#00ebff"/><stop offset="0.609" stop-color="#00fffa"/><stop offset="0.637" stop-color="#00ffeb"/><stop offset="0.683" stop-color="#00ffc8"/><stop offset="0.735" stop-color="#00ff96"/><stop offset="0.786" stop-color="#00ff5a"/><stop offset="0.804" stop-color="#00ff41"/><stop offset="0.823" stop-color="#00ff19"/><stop offset="0.838" stop-color="#0aff00"/><stop offset="0.854" stop-color="#32ff00"/><stop offset="0.864" stop-color="#5aff00"/><stop offset="0.885" stop-color="#96ff00"/><stop offset="0.900" stop-color="#e6ff0f"/><stop offset="0.920" stop-color="#fffa00"/><stop offset="0.940" stop-color="#ffdc00"/><stop offset="0.972" stop-color="#ff9600"/><stop offset="1.000" stop-color="#ff6d00"/></linearGradient>
<linearGradient id="g50" x1="0" y1="0" x2="0" y2="1"><stop offset="0.000" stop-color="#0047ff"/><stop offset="0.058" stop-color="#004bff"/><stop offset="0.182" stop-color="#005fff"/><stop offset="0.265" stop-color="#0073ff"/><stop offset="0.350" stop-color="#0087ff"/><stop offset="0.409" stop-color="#0098ff"/><stop offset="0.583" stop-color="#00ebff"/><stop offset="0.605" stop-color="#00fffa"/><stop offset="0.633" stop-color="#00ffeb"/><stop offset="0.679" stop-color="#00ffc8"/><stop offset="0.732" stop-color="#00ff96"/><stop offset="0.784" stop-color="#00ff5a"/><stop offset="0.802" stop-color="#00ff41"/><stop offset="0.821" stop-color="#00ff19"/><stop offset="0.836" stop-color="#0aff00"/><stop offset="0.851" stop-color="#32ff00"/><stop offset="0.862" stop-color="#5aff00"/><stop offset="0.883" stop-color="#96ff00"/><stop offset="0.897" stop-color="#e6ff0f"/><stop offset="0.917" stop-color="#fffa00"/><stop offset="0.936" stop-color="#ffdc00"/><stop offset="0.968" stop-color="#ff9600"/><stop offset="1.000" stop-color="#ff6600"/></linearGradient>
<linearGradient id="g51" x1="0" y1="0" x2="0" y2="1"><stop offset="0.000" stop-color="#0047ff"/><stop offset="0.053" stop-color="#004bff"/><stop offset="0.177" stop-color="#005fff"/><stop offset="0.260" stop-color="#0073ff"/><stop offset="0.345" stop-color="#0087ff"/><stop offset="0.404" stop-color="#0098ff"/><stop offset="0.579" stop-color="#00ebff"/><stop offset="0.601" stop-color="#00fffa"/><stop offset="0.629" stop-color="#00ffeb"/><stop offset="0.676" stop-color="#00ffc8"/><stop offset="0.729" stop-color="#00ff96"/><stop offset="0.781" stop-color="#00ff5a"/><stop offset="0.799" stop-color="#00ff41"/><stop offset="0.818" stop-color="#00ff19"/><stop offset="0.834" stop-color="#0aff00"/><stop offset="0.849" stop-color="#32ff00"/><stop offset="0.860" stop-color="#5aff00"/><stop offset="0.881" stop-color="#96ff00"/><stop offset="0.895" stop-color="#e6ff0f"/><stop offset="0.914" stop-color="#fffa00"/><stop offset="0.933" stop-color="#ffdc00"/><stop offset="0.964" stop-color="#ff9600"/><stop offset="1.000" stop-color="#ff5f00"/></linearGradient>
<linearGradient id="g52" x1="0" y1="0" x2="0" y2="1"><stop offset="0.000" stop-color="#0048ff"/><stop offset="0.048" stop-color="#004bff"/><stop offset="0.172" stop-color="#005fff"/><stop offset="0.255" stop-color="#0073ff"/><stop offset="0.340" stop-color="#0087ff"/><stop offset="0.399" stop-color="#0098ff"/><stop offset="0.574" stop-color="#00ebff"/><stop offset="0.596" stop-color="#00fffa"/><stop offset="0.625" stop-color="#00ffeb"/><stop offset="0.672" stop-color="#00ffc8"/><stop offset="0.725" stop-color="#00ff96"/><stop offset="0.778" stop-color="#00ff5a"/><stop offset="0.796" stop-color="#00ff41"/><stop offset="0.816" stop-color="#00ff19"/><stop offset="0.831" stop-color="#0aff00"/><stop offset="0.847" stop-color="#32ff00"/><stop offset="0.858" stop-color="#5aff00"/><stop offset="0.879" stop-color="#96ff00"/><stop offset="0.894" stop-color="#e6ff0f"/><stop offset="0.912" stop-color="#fffa00"/><stop offset="0.930" stop-color="#ffdc00"/><stop offset="0.960" stop-color="#ff9600"/><stop offset="0.998" stop-color="#ff5c00"/><stop offset="1.000" stop-color="#ff5900"/></linearGradient>
<linearGradient id="g53" x1="0" y1="0" x2="0" y2="1"><stop offset="0.000" stop-color="#0048ff"/><stop offset="0.043" stop-color="#004bff"/><stop offset="0.167" stop-color="#005fff"/><stop offset="0.250" stop-color="#0073ff"/><stop offset="0.335" stop-color="#0087ff"/><stop offset="0.394" stop-color="#0098ff"/><stop offset="0.570" stop-color="#00ebff"/><stop offset="0.592" stop-color="#00fffa"/><stop offset="0.621" stop-color="#00ffeb"/><stop offset="0.668" stop-color="#00ffc8"/><stop offset="0.722" stop-color="#00ff96"/><stop offset="0.775" stop-color="#00ff5a"/><stop offset="0.793" stop-color="#00ff41"/><stop offset="0.813" stop-color="#00ff19"/><stop offset="0.829" stop-color="#0aff00"/><stop offset="0.845" stop-color="#32ff00"/><stop offset="0.856" stop-color="#5aff00"/><stop offset="0.878" stop-color="#96ff00"/><stop offset="0.893" stop-color="#e6ff0f"/><stop offset="0.911" stop-color="#fffa00"/><stop offset="0.928" stop-color="#ffdc00"/><stop offset="0.957" stop-color="#ff9600"/><stop offset="0.993" stop-color="#ff5c00"/><stop offset="1.000" stop-color="#ff5500"/></linearGradient>
<linearGradient id="g54" x1="0" y1="0" x2="0" y2="1"><stop offset="0.000" stop-color="#0048ff"/><stop offset="0.038" stop-color="#004bff"/><stop offset="0.163" stop-color="#005fff"/><stop offset="0.245" stop-color="#0073ff"/><stop offset="0.330" stop-color="#0087ff"/><stop offset="0.389" stop-color="#0098ff"/><stop offset="0.567" stop-color="#00ebff"/><stop offset="0.589" stop-color="#00fffa"/><stop offset="0.618" stop-color="#00ffeb"/><stop offset="0.665" stop-color="#00ffc8"/><stop offset="0.719" stop-color="#00ff96"/><stop offset="0.773" stop-color="#00ff5a"/><stop offset="0.790" stop-color="#00ff41"/><stop offset="0.811" stop-color="#00ff19"/><stop offset="0.827" stop-color="#0aff00"/><stop offset="0.844" stop-color="#32ff00"/><stop offset="0.855" stop-color="#5aff00"/><stop offset="0.877" stop-color="#96ff00"/><stop offset="0.893" stop-color="#e6ff0f"/><stop offset="0.910" stop-color="#fffa00"/><stop offset="0.926" stop-color="#ffdc00"/><stop offset="0.953" stop-color="#ff9600"/><stop offset="0.989" stop-color="#ff5c00"/><stop offset="1.000" stop-color="#ff5000"/></linearGradient>
<linearGradient id="g55" x1="0" y1="0" x2="0" y2="1"><stop offset="0.000" stop-color="#0049ff"/><stop offset="0.033" stop-color="#004bff"/><stop offset="0.158" stop-color="#005fff"/><stop offset="0.240" stop-color="#0073ff"/><stop offset="0.325" stop-color="#0087ff"/><stop offset="0.384" stop-color="#0098ff"/><stop offset="0.564" stop-color="#00ebff"/><stop offset="0.586" stop-color="#00fffa"/><stop offset="0.615" stop-color="#00ffeb"/><stop offset="0.662" stop-color="#00ffc8"/><stop offset="0.716" stop-color="#00ff96"/><stop offset="0.770" stop-color="#00ff5a"/><stop offset="0.788" stop-color="#00ff41"/><stop offset="0.809" stop-color="#00ff19"/><stop offset="0.825" stop-color="#0aff00"/><stop offset="0.842" stop-color="#32ff00"/><stop offset="0.854" stop-color="#5aff00"/><stop offset="0.877" stop-color="#96ff00"/><stop offset="0.893" stop-color="#e6ff0f"/><stop offset="0.909" stop-color="#fffa00"/><stop offset="0.924" stop-color="#ffdc00"/><stop offset="0.950" stop-color="#ff9600"/><stop offset="0.985" stop-color="#ff5c00"/><stop offset="1.000" stop-color="#ff4b00"/></linearGradient>
<linearGradient id="g56" x1="0" y1="0" x2="0" y2="1"><stop offset="0.000" stop-color="#0049ff"/><stop offset="0.028" stop-color="#004bff"/><stop offset="0.153" stop-color="#005fff"/><stop offset="0.235" stop-color="#0073ff"/><stop offset="0.320" stop-color="#0087ff"/><stop offset="0.379" stop-color="#0098ff"/><stop offset="0.561" stop-color="#00ebff"/><stop offset="0.583" stop-color="#00fffa"/><stop offset="0.612" stop-color="#00ffeb"/><stop offset="0.659" stop-color="#00ffc8"/><stop offset="0.713" stop-color="#00ff96"/><stop offset="0.767" stop-color="#00ff5a"/><stop offset="0.784" stop-color="#00ff41"/><stop offset="0.806" stop-color="#00ff19"/><stop offset="0.823" stop-color="#0aff00"/><stop offset="0.841" stop-color="#32ff00"/><stop offset="0.853" stop-color="#5aff00"/><stop offset="0.876" stop-color="#96ff00"/><stop offset="0.893" stop-color="#e6ff0f"/><stop offset="0.908" stop-color="#fffa00"/><stop offset="0.922" stop-color="#ffdc00"/><stop offset="0.947" stop-color="#ff9600"/><stop offset="0.981" stop-color="#ff5c00"/><stop offset="1.000" stop-color="#ff4600"/></linearGradient>
<linearGradient id="g57" x1="0" y1="0" x2="0" y2="1"><stop offset="0.000" stop-color="#0049ff"/><stop offset="0.023" stop-color="#004bff"/><stop offset="0.147" stop-color="#005fff"/><stop offset="0.230" stop-color="#0073ff"/><stop offset="0.315" stop-color="#0087ff"/><stop offset="0.374" stop-color="#0098ff"/><stop offset="0.558" stop-color="#00ebff"/><stop offset="0.580" stop-color="#00fffa"/><stop offset="0.609" stop-color="#00ffeb"/><stop offset="0.656" stop-color="#00ffc8"/><stop offset="0.709" stop-color="#00ff96"/><stop offset="0.763" stop-color="#00ff5a"/><stop offset="0.781" stop-color="#00ff41"/><stop offset="0.803" stop-color="#00ff19"/><stop offset="0.821" stop-color="#0aff00"/><stop offset="0.839" stop-color="#32ff00"/><stop offset="0.851" stop-color="#5aff00"/><stop offset="0.876" stop-color="#96ff00"/><stop offset="0.892" stop-color="#e6ff0f"/><stop offset="0.907" stop-color="#fffa00"/><stop offset="0.921" stop-color="#ffdc00"/><stop offset="0.944" stop-color="#ff9600"/><stop offset="0.978" stop-color="#ff5c00"/><stop offset="1.000" stop-color="#ff4100"/></linearGradient>
<linearGradient id="g58" x1="0" y1="0" x2="0" y2="1"><stop offset="0.000" stop-color="#004aff"/><stop offset="0.017" stop-color="#004bff"/><stop offset="0.142" stop-color="#005fff"/><stop offset="0.224" stop-color="#0073ff"/><stop offset="0.309" stop-color="#0087ff"/><stop offset="0.368" stop-color="#0098ff"/><stop offset="0.555" stop-color="#00ebff"/><stop offset="0.577" stop-color="#00fffa"/><stop offset="0.606" stop-color="#00ffeb"/><stop offset="0.653" stop-color="#00ffc8"/><stop offset="0.706" stop-color="#00ff96"/><stop offset="0.759" stop-color="#00ff5a"/><stop offset="0.777" stop-color="#00ff41"/><stop offset="0.800" stop-color="#00ff19"/><stop offset="0.818" stop-color="#0aff00"/><stop offset="0.837" stop-color="#32ff00"/><stop offset="0.849" stop-color="#5aff00"/><stop offset="0.875" stop-color="#96ff00"/><stop offset="0.892" stop-color="#e6ff0f"/><stop offset="0.906" stop-color="#fffa00"/><stop offset="0.919" stop-color="#ffdc00"/><stop offset="0.941" stop-color="#ff9600"/><stop offset="0.974" stop-color="#ff5c00"/><stop offset="1.000" stop-color="#ff3c00"/></linearGradient>
<linearGradient id="g59" x1="0" y1="0" x2="0" y2="1"><stop offset="0.000" stop-color="#004aff"/><stop offset="0.011" stop-color="#004bff"/><stop offset="0.136" stop-color="#005fff"/><stop offset="0.218" stop-color="#0073ff"/><stop offset="0.303" stop-color="#0087ff"/><stop offset="0.362" stop-color="#0098ff"/><stop offset="0.552" stop-color="#00ebff"/><stop offset="0.574" stop-color="#00fffa"/><stop offset="0.603" stop-color="#00ffeb"/><stop offset="0.649" stop-color="#00ffc8"/><stop offset="0.702" stop-color="#00ff96"/><stop offset="0.755" stop-color="#00ff5a"/><stop offset="0.772" stop-color="#00ff41"/><stop offset="0.796" stop-color="#00ff19"/><stop offset="0.815" stop-color="#0aff00"/><stop offset="0.834" stop-color="#32ff00"/><stop offset="0.847" stop-color="#5aff00"/><stop offset="0.873" stop-color="#96ff00"/><stop offset="0.891" stop-color="#e6ff0f"/><stop offset="0.905" stop-color="#fffa00"/><stop offset="0.917" stop-color="#ffdc00"/><stop offset="0.939" stop-color="#ff9600"/><stop offset="0.971" stop-color="#ff5c00"/><stop offset="0.997" stop-color="#ff3a00"/><stop offset="1.000" stop-color="#ff3800"/></linearGradient>
<linearGradient id="g60" x1="0" y1="0" x2="0" y2="1"><stop offset="0.000" stop-color="#004bff"/><stop offset="0.005" stop-color="#004bff"/><stop offset="0.130" stop-color="#005fff"/><stop offset="0.212" stop-color="#0073ff"/><stop offset="0.297" stop-color="#0087ff"/><stop offset="0.356" stop-color="#0098ff"/><stop offset="0.549" stop-color="#00ebff"/><stop offset="0.571" stop-color="#00fffa"/><stop offset="0.600" stop-color="#00ffeb"/><stop offset="0.645" stop-color="#00ffc8"/><stop offset="0.698" stop-color="#00ff96"/><stop offset="0.750" stop-color="#00ff5a"/><stop offset="0.768" stop-color="#00ff41"/><stop offset="0.792" stop-color="#00ff19"/><stop offset="0.812" stop-color="#0aff00"/><stop offset="0.831" stop-color="#32ff00"/><stop offset="0.845" stop-color="#5aff00"/><stop offset="0.872" stop-color="#96ff00"/><stop offset="0.890" stop-color="#e6ff0f"/><stop offset="0.903" stop-color="#fffa00"/><stop offset="0.915" stop-color="#ffdc00"/><stop offset="0.936" stop-color="#ff9600"/><stop offset="0.968" stop-color="#ff5c00"/><stop offset="0.993" stop-color="#ff3a00"/><stop offset="1.000" stop-color="#ff3500"/></linearGradient>
<linearGradient id="g61" x1="0" y1="0" x2="0" y2="1"><stop offset="0.000" stop-color="#004bff"/><stop offset="0.124" stop-color="#005fff"/><stop offset="0.206" stop-color="#0073ff"/><stop offset="0.291" stop-color="#0087ff"/><stop offset="0.350" stop-color="#0098ff"/><stop offset="0.547" stop-color="#00ebff"/><stop offset="0.568" stop-color="#00fffa"/><stop offset="0.596" stop-color="#00ffeb"/><stop offset="0.642" stop-color="#00ffc8"/><stop offset="0.694" stop-color="#00ff96"/><stop offset="0.745" stop-color="#00ff5a"/><stop offset="0.763" stop-color="#00ff41"/><stop offset="0.788" stop-color="#00ff19"/><stop offset="0.808" stop-color="#0aff00"/><stop offset="0.828" stop-color="#32ff00"/><stop offset="0.842" stop-color="#5aff00"/><stop offset="0.870" stop-color="#96ff00"/><stop offset="0.889" stop-color="#e6ff0f"/><stop offset="0.902" stop-color="#fffa00"/><stop offset="0.914" stop-color="#ffdc00"/><stop offset="0.934" stop-color="#ff9600"/><stop offset="0.964" stop-color="#ff5c00"/><stop offset="0.990" stop-color="#ff3a00"/><stop offset="1.000" stop-color="#ff3300"/></linearGradient>
<linearGradient id="g62" x1="0" y1="0" x2="0" y2="1"><stop offset="0.000" stop-color="#004cff"/><stop offset="0.119" stop-color="#005fff"/><stop offset="0.201" stop-color="#0073ff"/><stop offset="0.286" stop-color="#0087ff"/><stop offset="0.345" stop-color="#0098ff"/><stop offset="0.544" stop-color="#00ebff"/><stop offset="0.565" stop-color="#00fffa"/><stop offset="0.593" stop-color="#00ffeb"/><stop offset="0.638" stop-color="#00ffc8"/><stop offset="0.689" stop-color="#00ff96"/><stop offset="0.741" stop-color="#00ff5a"/><stop offset="0.758" stop-color="#00ff41"/><stop offset="0.784" stop-color="#00ff19"/><stop offset="0.805" stop-color="#0aff00"/><stop offset="0.826" stop-color="#32ff00"/><stop offset="0.840" stop-color="#5aff00"/><stop offset="0.869" stop-color="#96ff00"/><stop offset="0.888" stop-color="#e6ff0f"/><stop offset="0.900" stop-color="#fffa00"/><stop offset="0.912" stop-color="#ffdc00"/><stop offset="0.931" stop-color="#ff9600"/><stop offset="0.961" stop-color="#ff5c00"/><stop offset="0.986" stop-color="#ff3a00"/><stop offset="1.000" stop-color="#ff3000"/></linearGradient>
<linearGradient id="g63" x1="0" y1="0" x2="0" y2="1"><stop offset="0.000" stop-color="#004dff"/><stop offset="0.114" stop-color="#005fff"/><stop offset="0.196" stop-color="#0073ff"/><stop offset="0.281" stop-color="#0087ff"/><stop offset="0.340" stop-color="#0098ff"/><stop offset="0.541" stop-color="#00ebff"/><stop offset="0.562" stop-color="#00fffa"/><stop offset="0.590" stop-color="#00ffeb"/><stop offset="0.634" stop-color="#00ffc8"/><stop offset="0.685" stop-color="#00ff96"/><stop offset="0.736" stop-color="#00ff5a"/><stop offset="0.753" stop-color="#00ff41"/><stop offset="0.780" stop-color="#00ff19"/><stop offset="0.801" stop-color="#0aff00"/><stop offset="0.823" stop-color="#32ff00"/><stop offset="0.838" stop-color="#5aff00"/><stop offset="0.867" stop-color="#96ff00"/><stop offset="0.887" stop-color="#e6ff0f"/><stop offset="0.899" stop-color="#fffa00"/><stop offset="0.910" stop-color="#ffdc00"/><stop offset="0.929" stop-color="#ff9600"/><stop offset="0.958" stop-color="#ff5c00"/><stop offset="0.982" stop-color="#ff3a00"/><stop offset="1.000" stop-color="#ff2d00"/></linearGradient>
<linearGradient id="g64" x1="0" y1="0" x2="0" y2="1"><stop offset="0.000" stop-color="#004eff"/><stop offset="0.109" stop-color="#005fff"/><stop offset="0.191" stop-color="#0073ff"/><stop offset="0.276" stop-color="#0087ff"/><stop offset="0.335" stop-color="#0098ff"/><stop offset="0.538" stop-color="#00ebff"/><stop offset="0.560" stop-color="#00fffa"/><stop offset="0.587" stop-color="#00ffeb"/><stop offset="0.631" stop-color="#00ffc8"/><stop offset="0.682" stop-color="#00ff96"/><stop offset="0.732" stop-color="#00ff5a"/><stop offset="0.749" stop-color="#00ff41"/><stop offset="0.776" stop-color="#00ff19"/><stop offset="0.798" stop-color="#0aff00"/><stop offset="0.820" stop-color="#32ff00"/><stop offset="0.835" stop-color="#5aff00"/><stop offset="0.866" stop-color="#96ff00"/><stop offset="0.886" stop-color="#e6ff0f"/><stop offset="0.897" stop-color="#fffa00"/><stop offset="0.908" stop-color="#ffdc00"/><stop offset="0.927" stop-color="#ff9600"/><stop offset="0.955" stop-color="#ff5c00"/><stop offset="0.979" stop-color="#ff3a00"/><stop offset="1.000" stop-color="#ff2a00"/></linearGradient>
<linearGradient id="g65" x1="0" y1="0" x2="0" y2="1"><stop offset="0.000" stop-color="#004eff"/><stop offset="0.104" stop-color="#005fff"/><stop offset="0.186" stop-color="#0073ff"/><stop offset="0.271" stop-color="#0087ff"/><stop offset="0.330" stop-color="#0098ff"/><stop offset="0.536" stop-color="#00ebff"/><stop offset="0.557" stop-color="#00fffa"/><stop offset="0.584" stop-color="#00ffeb"/><stop offset="0.628" stop-color="#00ffc8"/><stop offset="0.678" stop-color="#00ff96"/><stop offset="0.728" stop-color="#00ff5a"/><stop offset="0.745" stop-color="#00ff41"/><stop offset="0.773" stop-color="#00ff19"/><stop offset="0.795" stop-color="#0aff00"/><stop offset="0.818" stop-color="#32ff00"/><stop offset="0.833" stop-color="#5aff00"/><stop offset="0.864" stop-color="#96ff00"/><stop offset="0.885" stop-color="#e6ff0f"/><stop offset="0.896" stop-color="#fffa00"/><stop offset="0.907" stop-color="#ffdc00"/><stop offset="0.925" stop-color="#ff9600"/><stop offset="0.952" stop-color="#ff5c00"/><stop offset="0.975" stop-color="#ff3a00"/><stop offset="1.000" stop-color="#ff2800"/></linearGradient>
<linearGradient id="g66" x1="0" y1="0" x2="0" y2="1"><stop offset="0.000" stop-color="#004fff"/><stop offset="0.099" stop-color="#005fff"/><stop offset="0.181" stop-color="#0073ff"/><stop offset="0.266" stop-color="#0087ff"/><stop offset="0.325" stop-color="#0098ff"/><stop offset="0.533" stop-color="#00ebff"/><stop offset="0.554" stop-color="#00fffa"/><stop offset="0.581" stop-color="#00ffeb"/><stop offset="0.625" stop-color="#00ffc8"/><stop offset="0.675" stop-color="#00ff96"/><stop offset="0.724" stop-color="#00ff5a"/><stop offset="0.741" stop-color="#00ff41"/><stop offset="0.770" stop-color="#00ff19"/><stop offset="0.793" stop-color="#0aff00"/><stop offset="0.816" stop-color="#32ff00"/><stop offset="0.831" stop-color="#5aff00"/><stop offset="0.863" stop-color="#96ff00"/><stop offset="0.884" stop-color="#e6ff0f"/><stop offset="0.895" stop-color="#fffa00"/><stop offset="0.905" stop-color="#ffdc00"/><stop offset="0.923" stop-color="#ff9600"/><stop offset="0.950" stop-color="#ff5c00"/><stop offset="0.972" stop-color="#ff3a00"/><stop offset="1.000" stop-color="#ff2500"/></linearGradient>
<linearGradient id="g67" x1="0" y1="0" x2="0" y2="1"><stop offset="0.000" stop-color="#0050ff"/><stop offset="0.094" stop-color="#005fff"/><stop offset="0.176" stop-color="#0073ff"/><stop offset="0.262" stop-color="#0087ff"/><stop offset="0.320" stop-color="#0098ff"/><stop offset="0.530" stop-color="#00ebff"/><stop offset="0.551" stop-color="#00fffa"/><stop offset="0.578" stop-color="#00ffeb"/><stop offset="0.621" stop-color="#00ffc8"/><stop offset="0.671" stop-color="#00ff96"/><stop offset="0.721" stop-color="#00ff5a"/><stop offset="0.737" stop-color="#00ff41"/><stop offset="0.767" stop-color="#00ff19"/><stop offset="0.790" stop-color="#0aff00"/><stop offset="0.814" stop-color="#32ff00"/><stop offset="0.830" stop-color="#5aff00"/><stop offset="0.862" stop-color="#96ff00"/><stop offset="0.884" stop-color="#e6ff0f"/><stop offset="0.894" stop-color="#fffa00"/><stop offset="0.904" stop-color="#ffdc00"/><stop offset="0.921" stop-color="#ff9600"/><stop offset="0.947" stop-color="#ff5c00"/><stop offset="0.969" stop-color="#ff3a00"/><stop offset="1.000" stop-color="#ff2200"/></linearGradient>
<linearGradient id="g68" x1="0" y1="0" x2="0" y2="1"><stop offset="0.000" stop-color="#0051ff"/><stop offset="0.089" stop-color="#005fff"/><stop offset="0.172" stop-color="#0073ff"/><stop offset="0.257" stop-color="#0087ff"/><stop offset="0.316" stop-color="#0098ff"/><stop offset="0.527" stop-color="#00ebff"/><stop offset="0.547" stop-color="#00fffa"/><stop offset="0.574" stop-color="#00ffeb"/><stop offset="0.618" stop-color="#00ffc8"/><stop offset="0.667" stop-color="#00ff96"/><stop offset="0.717" stop-color="#00ff5a"/><stop offset="0.734" stop-color="#00ff41"/><stop offset="0.764" stop-color="#00ff19"/><stop offset="0.788" stop-color="#0aff00"/><stop offset="0.812" stop-color="#32ff00"/><stop offset="0.828" stop-color="#5aff00"/><stop offset="0.861" stop-color="#96ff00"/><stop offset="0.884" stop-color="#e6ff0f"/><stop offset="0.894" stop-color="#fffa00"/><stop offset="0.903" stop-color="#ffdc00"/><stop offset="0.919" stop-color="#ff9600"/><stop offset="0.944" stop-color="#ff5c00"/><stop offset="0.965" stop-color="#ff3a00"/><stop offset="1.000" stop-color="#ff2000"/></linearGradient>
<linearGradient id="g69" x1="0" y1="0" x2="0" y2="1"><stop offset="0.000" stop-color="#0051ff"/><stop offset="0.085" stop-color="#005fff"/><stop offset="0.167" stop-color="#0073ff"/><stop offset="0.252" stop-color="#0087ff"/><stop offset="0.311" stop-color="#0098ff"/><stop offset="0.524" stop-color="#00ebff"/><stop offset="0.545" stop-color="#00fffa"/><stop offset="0.571" stop-color="#00ffeb"/><stop offset="0.615" stop-color="#00ffc8"/><stop offset="0.664" stop-color="#00ff96"/><stop offset="0.714" stop-color="#00ff5a"/><stop offset="0.730" stop-color="#00ff41"/><stop offset="0.761" stop-color="#00ff19"/><stop offset="0.786" stop-color="#0aff00"/><stop offset="0.810" stop-color="#32ff00"/><stop offset="0.827" stop-color="#5aff00"/><stop offset="0.860" stop-color="#96ff00"/><stop offset="0.883" stop-color="#e6ff0f"/><stop offset="0.893" stop-color="#fffa00"/><stop offset="0.902" stop-color="#ffdc00"/><stop offset="0.917" stop-color="#ff9600"/><stop offset="0.942" stop-color="#ff5c00"/><stop offset="0.962" stop-color="#ff3a00"/><stop offset="1.000" stop-color="#ff1d00"/></linearGradient>
<linearGradient id="g70" x1="0" y1="0" x2="0" y2="1"><stop offset="0.000" stop-color="#0052ff"/><stop offset="0.080" stop-color="#005fff"/><stop offset="0.163" stop-color="#0073ff"/><stop offset="0.248" stop-color="#0087ff"/><stop offset="0.307" stop-color="#0098ff"/><stop offset="0.521" stop-color="#00ebff"/><stop offset="0.542" stop-color="#00fffa"/><stop offset="0.569" stop-color="#00ffeb"/><stop offset="0.612" stop-color="#00ffc8"/><stop offset="0.661" stop-color="#00ff96"/><stop offset="0.711" stop-color="#00ff5a"/><stop offset="0.728" stop-color="#00ff41"/><stop offset="0.759" stop-color="#00ff19"/><stop offset="0.784" stop-color="#0aff00"/><stop offset="0.808" stop-color="#32ff00"/><stop offset="0.826" stop-color="#5aff00"/><stop offset="0.860" stop-color="#96ff00"/><stop offset="0.883" stop-color="#e6ff0f"/><stop offset="0.892" stop-color="#fffa00"/><stop offset="0.901" stop-color="#ffdc00"/><stop offset="0.915" stop-color="#ff9600"/><stop offset="0.940" stop-color="#ff5c00"/><stop offset="0.959" stop-color="#ff3a00"/><stop offset="0.999" stop-color="#ff1c00"/><stop offset="1.000" stop-color="#ff1b00"/></linearGradient>
<linearGradient id="g71" x1="0" y1="0" x2="0" y2="1"><stop offset="0.000" stop-color="#0053ff"/><stop offset="0.076" stop-color="#005fff"/><stop offset="0.159" stop-color="#0073ff"/><stop offset="0.244" stop-color="#0087ff"/><stop offset="0.303" stop-color="#0098ff"/><stop offset="0.518" stop-color="#00ebff"/><stop offset="0.538" stop-color="#00fffa"/><stop offset="0.565" stop-color="#00ffeb"/><stop offset="0.609" stop-color="#00ffc8"/><stop offset="0.658" stop-color="#00ff96"/><stop offset="0.708" stop-color="#00ff5a"/><stop offset="0.725" stop-color="#00ff41"/><stop offset="0.756" stop-color="#00ff19"/><stop offset="0.782" stop-color="#0aff00"/><stop offset="0.807" stop-color="#32ff00"/><stop offset="0.824" stop-color="#5aff00"/><stop offset="0.859" stop-color="#96ff00"/><stop offset="0.883" stop-color="#e6ff0f"/><stop offset="0.891" stop-color="#fffa00"/><stop offset="0.900" stop-color="#ffdc00"/><stop offset="0.914" stop-color="#ff9600"/><stop offset="0.937" stop-color="#ff5c00"/><stop offset="0.957" stop-color="#ff3a00"/><stop offset="0.996" stop-color="#ff1c00"/><stop offset="1.000" stop-color="#ff1900"/></linearGradient>
<linearGradient id="g72" x1="0" y1="0" x2="0" y2="1"><stop offset="0.000" stop-color="#0053ff"/><stop offset="0.072" stop-color="#005fff"/><stop offset="0.155" stop-color="#0073ff"/><stop offset="0.240" stop-color="#0087ff"/><stop offset="0.299" stop-color="#0098ff"/><stop offset="0.514" stop-color="#00ebff"/><stop offset="0.535" stop-color="#00fffa"/><stop offset="0.562" stop-color="#00ffeb"/><stop offset="0.606" stop-color="#00ffc8"/><stop offset="0.655" stop-color="#00ff96"/><stop offset="0.705" stop-color="#00ff5a"/><stop offset="0.722" stop-color="#00ff41"/><stop offset="0.754" stop-color="#00ff19"/><stop offset="0.780" stop-color="#0aff00"/><stop offset="0.805" stop-color="#32ff00"/><stop offset="0.823" stop-color="#5aff00"/><stop offset="0.858" stop-color="#96ff00"/><stop offset="0.883" stop-color="#e6ff0f"/><stop offset="0.891" stop-color="#fffa00"/><stop offset="0.899" stop-color="#ffdc00"/><stop offset="0.912" stop-color="#ff9600"/><stop offset="0.935" stop-color="#ff5c00"/><stop offset="0.954" stop-color="#ff3a00"/><stop offset="0.993" stop-color="#ff1c00"/><stop offset="1.000" stop-color="#ff1800"/></linearGradient>
<linearGradient id="g73" x1="0" y1="0" x2="0" y2="1"><stop offset="0.000" stop-color="#0054ff"/><stop offset="0.069" stop-color="#005fff"/><stop offset="0.151" stop-color="#0073ff"/><stop offset="0.236" stop-color="#0087ff"/><stop offset="0.295" stop-color="#0098ff"/><stop offset="0.510" stop-color="#00ebff"/><stop offset="0.531" stop-color="#00fffa"/><stop offset="0.558" stop-color="#00ffeb"/><stop offset="0.602" stop-color="#00ffc8"/><stop offset="0.652" stop-color="#00ff96"/><stop offset="0.703" stop-color="#00ff5a"/><stop offset="0.719" stop-color="#00ff41"/><stop offset="0.752" stop-color="#00ff19"/><stop offset="0.778" stop-color="#0aff00"/><stop offset="0.804" stop-color="#32ff00"/><stop offset="0.822" stop-color="#5aff00"/><stop offset="0.858" stop-color="#96ff00"/><stop offset="0.882" stop-color="#e6ff0f"/><stop offset="0.890" stop-color="#fffa00"/><stop offset="0.898" stop-color="#ffdc00"/><stop offset="0.911" stop-color="#ff9600"/><stop offset="0.933" stop-color="#ff5c00"/><stop offset="0.951" stop-color="#ff3a00"/><stop offset="0.990" stop-color="#ff1c00"/><stop offset="1.000" stop-color="#ff1600"/></linearGradient>
<linearGradient id="g74" x1="0" y1="0" x2="0" y2="1"><stop offset="0.000" stop-color="#0055ff"/><stop offset="0.065" stop-color="#005fff"/><stop offset="0.147" stop-color="#0073ff"/><stop offset="0.232" stop-color="#0087ff"/><stop offset="0.291" stop-color="#0098ff"/><stop offset="0.506" stop-color="#00ebff"/><stop offset="0.527" stop-color="#00fffa"/><stop offset="0.554" stop-color="#00ffeb"/><stop offset="0.599" stop-color="#00ffc8"/><stop offset="0.649" stop-color="#00ff96"/><stop offset="0.700" stop-color="#00ff5a"/><stop offset="0.717" stop-color="#00ff41"/><stop offset="0.750" stop-color="#00ff19"/><stop offset="0.776" stop-color="#0aff00"/><stop offset="0.803" stop-color="#32ff00"/><stop offset="0.821" stop-color="#5aff00"/><stop offset="0.857" stop-color="#96ff00"/><stop offset="0.882" stop-color="#e6ff0f"/><stop offset="0.890" stop-color="#fffa00"/><stop offset="0.897" stop-color="#ffdc00"/><stop offset="0.909" stop-color="#ff9600"/><stop offset="0.931" stop-color="#ff5c00"/><stop offset="0.948" stop-color="#ff3a00"/><stop offset="0.987" stop-color="#ff1c00"/><stop offset="1.000" stop-color="#ff1400"/></linearGradient>
<linearGradient id="g75" x1="0" y1="0" x2="0" y2="1"><stop offset="0.000" stop-color="#0055ff"/><stop offset="0.061" stop-color="#005fff"/><stop offset="0.144" stop-color="#0073ff"/><stop offset="0.229" stop-color="#0087ff"/><stop offset="0.288" stop-color="#0098ff"/><stop offset="0.501" stop-color="#00ebff"/><stop offset="0.523" stop-color="#00fffa"/><stop offset="0.550" stop-color="#00ffeb"/><stop offset="0.595" stop-color="#00ffc8"/><stop offset="0.646" stop-color="#00ff96"/><stop offset="0.698" stop-color="#00ff5a"/><stop offset="0.715" stop-color="#00ff41"/><stop offset="0.748" stop-color="#00ff19"/><stop offset="0.775" stop-color="#0aff00"/><stop offset="0.802" stop-color="#32ff00"/><stop offset="0.820" stop-color="#5aff00"/><stop offset="0.857" stop-color="#96ff00"/><stop offset="0.882" stop-color="#e6ff0f"/><stop offset="0.889" stop-color="#fffa00"/><stop offset="0.896" stop-color="#ffdc00"/><stop offset="0.908" stop-color="#ff9600"/><stop offset="0.929" stop-color="#ff5c00"/><stop offset="0.946" stop-color="#ff3a00"/><stop offset="0.985" stop-color="#ff1c00"/><stop offset="1.000" stop-color="#ff1200"/></linearGradient>
<linearGradient id="g76" x1="0" y1="0" x2="0" y2="1"><stop offset="0.000" stop-color="#0056ff"/><stop offset="0.057" stop-color="#005fff"/><stop offset="0.140" stop-color="#0073ff"/><stop offset="0.225" stop-color="#0087ff"/><stop offset="0.284" stop-color="#0098ff"/><stop offset="0.496" stop-color="#00ebff"/><stop offset="0.518" stop-color="#00fffa"/><stop offset="0.546" stop-color="#00ffeb"/><stop offset="0.591" stop-color="#00ffc8"/><stop offset="0.643" stop-color="#00ff96"/><stop offset="0.695" stop-color="#00ff5a"/><stop offset="0.713" stop-color="#00ff41"/><stop offset="0.746" stop-color="#00ff19"/><stop offset="0.773" stop-color="#0aff00"/><stop offset="0.800" stop-color="#32ff00"/><stop offset="0.819" stop-color="#5aff00"/><stop offset="0.856" stop-color="#96ff00"/><stop offset="0.881" stop-color="#e6ff0f"/><stop offset="0.888" stop-color="#fffa00"/><stop offset="0.895" stop-color="#ffdc00"/><stop offset="0.906" stop-color="#ff9600"/><stop offset="0.927" stop-color="#ff5c00"/><stop offset="0.943" stop-color="#ff3a00"/><stop offset="0.982" stop-color="#ff1c00"/><stop offset="1.000" stop-color="#ff1100"/></linearGradient>
<linearGradient id="g77" x1="0" y1="0" x2="0" y2="1"><stop offset="0.000" stop-color="#0056ff"/><stop offset="0.053" stop-color="#005fff"/><stop offset="0.136" stop-color="#0073ff"/><stop offset="0.221" stop-color="#0087ff"/><stop offset="0.280" stop-color="#0098ff"/><stop offset="0.491" stop-color="#00ebff"/><stop offset="0.513" stop-color="#00fffa"/><stop offset="0.541" stop-color="#00ffeb"/><stop offset="0.587" stop-color="#00ffc8"/><stop offset="0.640" stop-color="#00ff96"/><stop offset="0.693" stop-color="#00ff5a"/><stop offset="0.710" stop-color="#00ff41"/><stop offset="0.744" stop-color="#00ff19"/><stop offset="0.772" stop-color="#0aff00"/><stop offset="0.799" stop-color="#32ff00"/><stop offset="0.818" stop-color="#5aff00"/><stop offset="0.855" stop-color="#96ff00"/><stop offset="0.881" stop-color="#e6ff0f"/><stop offset="0.888" stop-color="#fffa00"/><stop offset="0.894" stop-color="#ffdc00"/><stop offset="0.905" stop-color="#ff9600"/><stop offset="0.925" stop-color="#ff5c00"/><stop offset="0.941" stop-color="#ff3a00"/><stop offset="0.979" stop-color="#ff1c00"/><stop offset="1.000" stop-color="#ff0f00"/></linearGradient>
<linearGradient id="g78" x1="0" y1="0" x2="0" y2="1"><stop offset="0.000" stop-color="#0057ff"/><stop offset="0.049" stop-color="#005fff"/><stop offset="0.132" stop-color="#0073ff"/><stop offset="0.217" stop-color="#0087ff"/><stop offset="0.276" stop-color="#0098ff"/><stop offset="0.486" stop-color="#00ebff"/><stop offset="0.508" stop-color="#00fffa"/><stop offset="0.537" stop-color="#00ffeb"/><stop offset="0.583" stop-color="#00ffc8"/><stop offset="0.637" stop-color="#00ff96"/><stop offset="0.690" stop-color="#00ff5a"/><stop offset="0.708" stop-color="#00ff41"/><stop offset="0.743" stop-color="#00ff19"/><stop offset="0.770" stop-color="#0aff00"/><stop offset="0.798" stop-color="#32ff00"/><stop offset="0.817" stop-color="#5aff00"/><stop offset="0.855" stop-color="#96ff00"/><stop offset="0.881" stop-color="#e6ff0f"/><stop offset="0.887" stop-color="#fffa00"/><stop offset="0.893" stop-color="#ffdc00"/><stop offset="0.904" stop-color="#ff9600"/><stop offset="0.923" stop-color="#ff5c00"/><stop offset="0.938" stop-color="#ff3a00"/><stop offset="0.977" stop-color="#ff1c00"/><stop offset="1.000" stop-color="#ff0d00"/></linearGradient>
<linearGradient id="g79" x1="0" y1="0" x2="0" y2="1"><stop offset="0.000" stop-color="#0058ff"/><stop offset="0.045" stop-color="#005fff"/><stop offset="0.128" stop-color="#0073ff"/><stop offset="0.213" stop-color="#0087ff"/><stop offset="0.272" stop-color="#0098ff"/><stop offset="0.481" stop-color="#00ebff"/><stop offset="0.503" stop-color="#00fffa"/><stop offset="0.532" stop-color="#00ffeb"/><stop offset="0.580" stop-color="#00ffc8"/><stop offset="0.634" stop-color="#00ff96"/><stop offset="0.688" stop-color="#00ff5a"/><stop offset="0.706" stop-color="#00ff41"/><stop offset="0.741" stop-color="#00ff19"/><stop offset="0.769" stop-color="#0aff00"/><stop offset="0.797" stop-color="#32ff00"/><stop offset="0.816" stop-color="#5aff00"/><stop offset="0.854" stop-color="#96ff00"/><stop offset="0.881" stop-color="#e6ff0f"/><stop offset="0.887" stop-color="#fffa00"/><stop offset="0.893" stop-color="#ffdc00"/><stop offset="0.903" stop-color="#ff9600"/><stop offset="0.921" stop-color="#ff5c00"/><stop offset="0.936" stop-color="#ff3a00"/><stop offset="0.974" stop-color="#ff1c00"/><stop offset="1.000" stop-color="#ff0b00"/></linearGradient>
<linearGradient id="g80" x1="0" y1="0" x2="0" y2="1"><stop offset="0.000" stop-color="#0058ff"/><stop offset="0.041" stop-color="#005fff"/><stop offset="0.123" stop-color="#0073ff"/><stop offset="0.208" stop-color="#0087ff"/><stop offset="0.267" stop-color="#0098ff"/><stop offset="0.476" stop-color="#00ebff"/><stop offset="0.499" stop-color="#00fffa"/><stop offset="0.528" stop-color="#00ffeb"/><stop offset="0.576" stop-color="#00ffc8"/><stop offset="0.631" stop-color="#00ff96"/><stop offset="0.685" stop-color="#00ff5a"/><stop offset="0.703" stop-color="#00ff41"/><stop offset="0.739" stop-color="#00ff19"/><stop offset="0.767" stop-color="#0aff00"/><stop offset="0.795" stop-color="#32ff00"/><stop offset="0.815" stop-color="#5aff00"/><stop offset="0.854" stop-color="#96ff00"/><stop offset="0.880" stop-color="#e6ff0f"/><stop offset="0.886" stop-color="#fffa00"/><stop offset="0.892" stop-color="#ffdc00"/><stop offset="0.902" stop-color="#ff9600"/><stop offset="0.920" stop-color="#ff5c00"/><stop offset="0.934" stop-color="#ff3a00"/><stop offset="0.972" stop-color="#ff1c00"/><stop offset="1.000" stop-color="#ff0900"/></linearGradient>
<linearGradient id="g81" x1="0" y1="0" x2="0" y2="1"><stop offset="0.000" stop-color="#0059ff"/><stop offset="0.037" stop-color="#005fff"/><stop offset="0.119" stop-color="#0073ff"/><stop offset="0.204" stop-color="#0087ff"/><stop offset="0.263" stop-color="#0098ff"/><stop offset="0.472" stop-color="#00ebff"/><stop offset="0.494" stop-color="#00fffa"/><stop offset="0.524" stop-color="#00ffeb"/><stop offset="0.572" stop-color="#00ffc8"/><stop offset="0.628" stop-color="#00ff96"/><stop offset="0.683" stop-color="#00ff5a"/><stop offset="0.701" stop-color="#00ff41"/><stop offset="0.737" stop-color="#00ff19"/><stop offset="0.765" stop-color="#0aff00"/><stop offset="0.794" stop-color="#32ff00"/><stop offset="0.814" stop-color="#5aff00"/><stop offset="0.853" stop-color="#96ff00"/><stop offset="0.880" stop-color="#e6ff0f"/><stop offset="0.886" stop-color="#fffa00"/><stop offset="0.891" stop-color="#ffdc00"/><stop offset="0.901" stop-color="#ff9600"/><stop offset="0.918" stop-color="#ff5c00"/><stop offset="0.933" stop-color="#ff3a00"/><stop offset="0.969" stop-color="#ff1c00"/><stop offset="0.999" stop-color="#ff0800"/><stop offset="1.000" stop-color="#ff0800"/></linearGradient>
<linearGradient id="g82" x1="0" y1="0" x2="0" y2="1"><stop offset="0.000" stop-color="#005aff"/><stop offset="0.032" stop-color="#005fff"/><stop offset="0.114" stop-color="#0073ff"/><stop offset="0.200" stop-color="#0087ff"/><stop offset="0.259" stop-color="#0098ff"/><stop offset="0.467" stop-color="#00ebff"/><stop offset="0.490" stop-color="#00fffa"/><stop offset="0.520" stop-color="#00ffeb"/><stop offset="0.569" stop-color="#00ffc8"/><stop offset="0.625" stop-color="#00ff96"/><stop offset="0.680" stop-color="#00ff5a"/><stop offset="0.699" stop-color="#00ff41"/><stop offset="0.735" stop-color="#00ff19"/><stop offset="0.764" stop-color="#0aff00"/><stop offset="0.793" stop-color="#32ff00"/><stop offset="0.813" stop-color="#5aff00"/><stop offset="0.852" stop-color="#96ff00"/><stop offset="0.880" stop-color="#e6ff0f"/><stop offset="0.885" stop-color="#fffa00"/><stop offset="0.891" stop-color="#ffdc00"/><stop offset="0.900" stop-color="#ff9600"/><stop offset="0.917" stop-color="#ff5c00"/><stop offset="0.931" stop-color="#ff3a00"/><stop offset="0.967" stop-color="#ff1c00"/><stop offset="0.996" stop-color="#ff0800"/><stop offset="1.000" stop-color="#ff0600"/></linearGradient>
<linearGradient id="g83" x1="0" y1="0" x2="0" y2="1"><stop offset="0.000" stop-color="#005bff"/><stop offset="0.028" stop-color="#005fff"/><stop offset="0.110" stop-color="#0073ff"/><stop offset="0.195" stop-color="#0087ff"/><stop offset="0.254" stop-color="#0098ff"/><stop offset="0.463" stop-color="#00ebff"/><stop offset="0.486" stop-color="#00fffa"/><stop offset="0.517" stop-color="#00ffeb"/><stop offset="0.566" stop-color="#00ffc8"/><stop offset="0.622" stop-color="#00ff96"/><stop offset="0.678" stop-color="#00ff5a"/><stop offset="0.696" stop-color="#00ff41"/><stop offset="0.733" stop-color="#00ff19"/><stop offset="0.762" stop-color="#0aff00"/><stop offset="0.792" stop-color="#32ff00"/><stop offset="0.812" stop-color="#5aff00"/><stop offset="0.852" stop-color="#96ff00"/><stop offset="0.879" stop-color="#e6ff0f"/><stop offset="0.885" stop-color="#fffa00"/><stop offset="0.890" stop-color="#ffdc00"/><stop offset="0.899" stop-color="#ff9600"/><stop offset="0.916" stop-color="#ff5c00"/><stop offset="0.929" stop-color="#ff3a00"/><stop offset="0.964" stop-color="#ff1c00"/><stop offset="0.992" stop-color="#ff0800"/><stop offset="1.000" stop-color="#ff0500"/></linearGradient>
<linearGradient id="g84" x1="0" y1="0" x2="0" y2="1"><stop offset="0.000" stop-color="#005bff"/><stop offset="0.024" stop-color="#005fff"/><stop offset="0.106" stop-color="#0073ff"/><stop offset="0.191" stop-color="#0087ff"/><stop offset="0.250" stop-color="#0098ff"/><stop offset="0.459" stop-color="#00ebff"/><stop offset="0.483" stop-color="#00fffa"/><stop offset="0.513" stop-color="#00ffeb"/><stop offset="0.563" stop-color="#00ffc8"/><stop offset="0.619" stop-color="#00ff96"/><stop offset="0.676" stop-color="#00ff5a"/><stop offset="0.695" stop-color="#00ff41"/><stop offset="0.731" stop-color="#00ff19"/><stop offset="0.761" stop-color="#0aff00"/><stop offset="0.791" stop-color="#32ff00"/><stop offset="0.811" stop-color="#5aff00"/><stop offset="0.851" stop-color="#96ff00"/><stop offset="0.879" stop-color="#e6ff0f"/><stop offset="0.884" stop-color="#fffa00"/><stop offset="0.889" stop-color="#ffdc00"/><stop offset="0.898" stop-color="#ff9600"/><stop offset="0.915" stop-color="#ff5c00"/><stop offset="0.928" stop-color="#ff3a00"/><stop offset="0.962" stop-color="#ff1c00"/><stop offset="0.989" stop-color="#ff0800"/><stop offset="1.000" stop-color="#fe0400"/></linearGradient>
<linearGradient id="g85" x1="0" y1="0" x2="0" y2="1"><stop offset="0.000" stop-color="#005cff"/><stop offset="0.019" stop-color="#005fff"/><stop offset="0.101" stop-color="#0073ff"/><stop offset="0.187" stop-color="#0087ff"/><stop offset="0.245" stop-color="#0098ff"/><stop offset="0.455" stop-color="#00ebff"/><stop offset="0.479" stop-color="#00fffa"/><stop offset="0.510" stop-color="#00ffeb"/><stop offset="0.560" stop-color="#00ffc8"/><stop offset="0.617" stop-color="#00ff96"/><stop offset="0.674" stop-color="#00ff5a"/><stop offset="0.693" stop-color="#00ff41"/><stop offset="0.730" stop-color="#00ff19"/><stop offset="0.760" stop-color="#0aff00"/><stop offset="0.790" stop-color="#32ff00"/><stop offset="0.810" stop-color="#5aff00"/><stop offset="0.851" stop-color="#96ff00"/><stop offset="0.879" stop-color="#e6ff0f"/><stop offset="0.884" stop-color="#fffa00"/><stop offset="0.889" stop-color="#ffdc00"/><stop offset="0.897" stop-color="#ff9600"/><stop offset="0.913" stop-color="#ff5c00"/><stop offset="0.927" stop-color="#ff3a00"/><stop offset="0.959" stop-color="#ff1c00"/><stop offset="0.985" stop-color="#ff0800"/><stop offset="1.000" stop-color="#fe0200"/></linearGradient>
<linearGradient id="g86" x1="0" y1="0" x2="0" y2="1"><stop offset="0.000" stop-color="#005dff"/><stop offset="0.015" stop-color="#005fff"/><stop offset="0.097" stop-color="#0073ff"/><stop offset="0.182" stop-color="#0087ff"/><stop offset="0.241" stop-color="#0098ff"/><stop offset="0.452" stop-color="#00ebff"/><stop offset="0.476" stop-color="#00fffa"/><stop offset="0.507" stop-color="#00ffeb"/><stop offset="0.557" stop-color="#00ffc8"/><stop offset="0.615" stop-color="#00ff96"/><stop offset="0.673" stop-color="#00ff5a"/><stop offset="0.692" stop-color="#00ff41"/><stop offset="0.729" stop-color="#00ff19"/><stop offset="0.759" stop-color="#0aff00"/><stop offset="0.789" stop-color="#32ff00"/><stop offset="0.809" stop-color="#5aff00"/><stop offset="0.850" stop-color="#96ff00"/><stop offset="0.878" stop-color="#e6ff0f"/><stop offset="0.883" stop-color="#fffa00"/><stop offset="0.888" stop-color="#ffdc00"/><stop offset="0.896" stop-color="#ff9600"/><stop offset="0.912" stop-color="#ff5c00"/><stop offset="0.926" stop-color="#ff3a00"/><stop offset="0.956" stop-color="#ff1c00"/><stop offset="0.982" stop-color="#ff0800"/><stop offset="1.000" stop-color="#fe0100"/></linearGradient>
<linearGradient id="g87" x1="0" y1="0" x2="0" y2="1"><stop offset="0.000" stop-color="#005dff"/><stop offset="0.010" stop-color="#005fff"/><stop offset="0.092" stop-color="#0073ff"/><stop offset="0.177" stop-color="#0087ff"/><stop offset="0.236" stop-color="#0098ff"/><stop offset="0.448" stop-color="#00ebff"/><stop offset="0.473" stop-color="#00fffa"/><stop offset="0.504" stop-color="#00ffeb"/><stop offset="0.555" stop-color="#00ffc8"/><stop offset="0.613" stop-color="#00ff96"/><stop offset="0.671" stop-color="#00ff5a"/><stop offset="0.691" stop-color="#00ff41"/><stop offset="0.728" stop-color="#00ff19"/><stop offset="0.758" stop-color="#0aff00"/><stop offset="0.788" stop-color="#32ff00"/><stop offset="0.809" stop-color="#5aff00"/><stop offset="0.850" stop-color="#96ff00"/><stop offset="0.878" stop-color="#e6ff0f"/><stop offset="0.883" stop-color="#fffa00"/><stop offset="0.888" stop-color="#ffdc00"/><stop offset="0.896" stop-color="#ff9600"/><stop offset="0.911" stop-color="#ff5c00"/><stop offset="0.924" stop-color="#ff3a00"/><stop offset="0.954" stop-color="#ff1c00"/><stop offset="0.978" stop-color="#ff0800"/><stop offset="0.998" stop-color="#fe0000"/></linearGradient>
<linearGradient id="g88" x1="0" y1="0" x2="0" y2="1"><stop offset="0.000" stop-color="#005eff"/><stop offset="0.005" stop-color="#005fff"/><stop offset="0.087" stop-color="#0073ff"/><stop offset="0.173" stop-color="#0087ff"/><stop offset="0.232" stop-color="#0098ff"/><stop offset="0.445" stop-color="#00ebff"/><stop offset="0.469" stop-color="#00fffa"/><stop offset="0.501" stop-color="#00ffeb"/><stop offset="0.553" stop-color="#00ffc8"/><stop offset="0.611" stop-color="#00ff96"/><stop offset="0.670" stop-color="#00ff5a"/><stop offset="0.689" stop-color="#00ff41"/><stop offset="0.727" stop-color="#00ff19"/><stop offset="0.757" stop-color="#0aff00"/><stop offset="0.787" stop-color="#32ff00"/><stop offset="0.808" stop-color="#5aff00"/><stop offset="0.850" stop-color="#96ff00"/><stop offset="0.878" stop-color="#e6ff0f"/><stop offset="0.883" stop-color="#fffa00"/><stop offset="0.887" stop-color="#ffdc00"/><stop offset="0.895" stop-color="#ff9600"/><stop offset="0.910" stop-color="#ff5c00"/><stop offset="0.923" stop-color="#ff3a00"/><stop offset="0.951" stop-color="#ff1c00"/><stop offset="0.974" stop-color="#ff0800"/><stop offset="0.993" stop-color="#fe0000"/></linearGradient>
<linearGradient id="g89" x1="0" y1="0" x2="0" y2="1"><stop offset="0.000" stop-color="#005fff"/><stop offset="0.000" stop-color="#005fff"/><stop offset="0.083" stop-color="#0073ff"/><stop offset="0.168" stop-color="#0087ff"/><stop offset="0.227" stop-color="#0098ff"/><stop offset="0.442" stop-color="#00ebff"/><stop offset="0.466" stop-color="#00fffa"/><stop offset="0.498" stop-color="#00ffeb"/><stop offset="0.550" stop-color="#00ffc8"/><stop offset="0.609" stop-color="#00ff96"/><stop offset="0.668" stop-color="#00ff5a"/><stop offset="0.688" stop-color="#00ff41"/><stop offset="0.726" stop-color="#00ff19"/><stop offset="0.756" stop-color="#0aff00"/><stop offset="0.787" stop-color="#32ff00"/><stop offset="0.808" stop-color="#5aff00"/><stop offset="0.849" stop-color="#96ff00"/><stop offset="0.878" stop-color="#e6ff0f"/><stop offset="0.882" stop-color="#fffa00"/><stop offset="0.887" stop-color="#ffdc00"/><stop offset="0.894" stop-color="#ff9600"/><stop offset="0.910" stop-color="#ff5c00"/><stop offset="0.922" stop-color="#ff3a00"/><stop offset="0.948" stop-color="#ff1c00"/><stop offset="0.970" stop-color="#ff0800"/><stop offset="0.989" stop-color="#fe0000"/></linearGradient>
<linearGradient id="g90" x1="0" y1="0" x2="0" y2="1"><stop offset="0.000" stop-color="#0060ff"/><stop offset="0.078" stop-color="#0073ff"/><stop offset="0.163" stop-color="#0087ff"/><stop offset="0.222" stop-color="#0098ff"/><stop offset="0.439" stop-color="#00ebff"/><stop offset="0.464" stop-color="#00fffa"/><stop offset="0.496" stop-color="#00ffeb"/><stop offset="0.548" stop-color="#00ffc8"/><stop offset="0.608" stop-color="#00ff96"/><stop offset="0.667" stop-color="#00ff5a"/><stop offset="0.687" stop-color="#00ff41"/><stop offset="0.725" stop-color="#00ff19"/><stop offset="0.755" stop-color="#0aff00"/><stop offset="0.786" stop-color="#32ff00"/><stop offset="0.807" stop-color="#5aff00"/><stop offset="0.849" stop-color="#96ff00"/><stop offset="0.877" stop-color="#e6ff0f"/><stop offset="0.882" stop-color="#fffa00"/><stop offset="0.886" stop-color="#ffdc00"/><stop offset="0.894" stop-color="#ff9600"/><stop offset="0.909" stop-color="#ff5c00"/><stop offset="0.921" stop-color="#ff3a00"/><stop offset="0.946" stop-color="#ff1c00"/><stop offset="0.966" stop-color="#ff0800"/><stop offset="0.986" stop-color="#fe0000"/></linearGradient>
<linearGradient id="g91" x1="0" y1="0" x2="0" y2="1"><stop offset="0.000" stop-color="#0061ff"/><stop offset="0.073" stop-color="#0073ff"/><stop offset="0.158" stop-color="#0087ff"/><stop offset="0.217" stop-color="#0098ff"/><stop offset="0.436" stop-color="#00ebff"/><stop offset="0.461" stop-color="#00fffa"/><stop offset="0.493" stop-color="#00ffeb"/><stop offset="0.546" stop-color="#00ffc8"/><stop offset="0.606" stop-color="#00ff96"/><stop offset="0.666" stop-color="#00ff5a"/><stop offset="0.686" stop-color="#00ff41"/><stop offset="0.724" stop-color="#00ff19"/><stop offset="0.755" stop-color="#0aff00"/><stop offset="0.785" stop-color="#32ff00"/><stop offset="0.806" stop-color="#5aff00"/><stop offset="0.848" stop-color="#96ff00"/><stop offset="0.877" stop-color="#e6ff0f"/><stop offset="0.882" stop-color="#fffa00"/><stop offset="0.886" stop-color="#ffdc00"/><stop offset="0.893" stop-color="#ff9600"/><stop offset="0.908" stop-color="#ff5c00"/><stop offset="0.920" stop-color="#ff3a00"/><stop offset="0.943" stop-color="#ff1c00"/><stop offset="0.962" stop-color="#ff0800"/><stop offset="0.982" stop-color="#fe0000"/></linearGradient>
<linearGradient id="g92" x1="0" y1="0" x2="0" y2="1"><stop offset="0.000" stop-color="#0062ff"/><stop offset="0.068" stop-color="#0073ff"/><stop offset="0.154" stop-color="#0087ff"/><stop offset="0.212" stop-color="#0098ff"/><stop offset="0.432" stop-color="#00ebff"/><stop offset="0.458" stop-color="#00fffa"/><stop offset="0.490" stop-color="#00ffeb"/><stop offset="0.543" stop-color="#00ffc8"/><stop offset="0.604" stop-color="#00ff96"/><stop offset="0.664" stop-color="#00ff5a"/><stop offset="0.685" stop-color="#00ff41"/><stop offset="0.723" stop-color="#00ff19"/><stop offset="0.754" stop-color="#0aff00"/><stop offset="0.784" stop-color="#32ff00"/><stop offset="0.806" stop-color="#5aff00"/><stop offset="0.848" stop-color="#96ff00"/><stop offset="0.877" stop-color="#e6ff0f"/><stop offset="0.881" stop-color="#fffa00"/><stop offset="0.886" stop-color="#ffdc00"/><stop offset="0.893" stop-color="#ff9600"/><stop offset="0.907" stop-color="#ff5c00"/><stop offset="0.919" stop-color="#ff3a00"/><stop offset="0.941" stop-color="#ff1c00"/><stop offset="0.959" stop-color="#ff0800"/><stop offset="0.978" stop-color="#fe0000"/></linearGradient>
<linearGradient id="g93" x1="0" y1="0" x2="0" y2="1"><stop offset="0.000" stop-color="#0063ff"/><stop offset="0.064" stop-color="#0073ff"/><stop offset="0.149" stop-color="#0087ff"/><stop offset="0.208" stop-color="#0098ff"/><stop offset="0.429" stop-color="#00ebff"/><stop offset="0.455" stop-color="#00fffa"/><stop offset="0.488" stop-color="#00ffeb"/><stop offset="0.541" stop-color="#00ffc8"/><stop offset="0.602" stop-color="#00ff96"/><stop offset="0.663" stop-color="#00ff5a"/><stop offset="0.683" stop-color="#00ff41"/><stop offset="0.722" stop-color="#00ff19"/><stop offset="0.753" stop-color="#0aff00"/><stop offset="0.784" stop-color="#32ff00"/><stop offset="0.805" stop-color="#5aff00"/><stop offset="0.847" stop-color="#96ff00"/><stop offset="0.876" stop-color="#e6ff0f"/><stop offset="0.881" stop-color="#fffa00"/><stop offset="0.885" stop-color="#ffdc00"/><stop offset="0.892" stop-color="#ff9600"/><stop offset="0.907" stop-color="#ff5c00"/><stop offset="0.918" stop-color="#ff3a00"/><stop offset="0.939" stop-color="#ff1c00"/><stop offset="0.956" stop-color="#ff0800"/><stop offset="0.975" stop-color="#fe0000"/></linearGradient>
<linearGradient id="g94" x1="0" y1="0" x2="0" y2="1"><stop offset="0.000" stop-color="#0065ff"/><stop offset="0.059" stop-color="#0073ff"/><stop offset="0.144" stop-color="#0087ff"/><stop offset="0.203" stop-color="#0098ff"/><stop offset="0.426" stop-color="#00ebff"/><stop offset="0.452" stop-color="#00fffa"/><stop offset="0.485" stop-color="#00ffeb"/><stop offset="0.539" stop-color="#00ffc8"/><stop offset="0.600" stop-color="#00ff96"/><stop offset="0.662" stop-color="#00ff5a"/><stop offset="0.682" stop-color="#00ff41"/><stop offset="0.721" stop-color="#00ff19"/><stop offset="0.752" stop-color="#0aff00"/><stop offset="0.783" stop-color="#32ff00"/><stop offset="0.804" stop-color="#5aff00"/><stop offset="0.847" stop-color="#96ff00"/><stop offset="0.876" stop-color="#e6ff0f"/><stop offset="0.880" stop-color="#fffa00"/><stop offset="0.885" stop-color="#ffdc00"/><stop offset="0.892" stop-color="#ff9600"/><stop offset="0.906" stop-color="#ff5c00"/><stop offset="0.917" stop-color="#ff3a00"/><stop offset="0.937" stop-color="#ff1c00"/><stop offset="0.953" stop-color="#ff0800"/><stop offset="0.972" stop-color="#fe0000"/></linearGradient>
<linearGradient id="g95" x1="0" y1="0" x2="0" y2="1"><stop offset="0.000" stop-color="#0066ff"/><stop offset="0.055" stop-color="#0073ff"/><stop offset="0.140" stop-color="#0087ff"/><stop offset="0.199" stop-color="#0098ff"/><stop offset="0.423" stop-color="#00ebff"/><stop offset="0.449" stop-color="#00fffa"/><stop offset="0.482" stop-color="#00ffeb"/><stop offset="0.537" stop-color="#00ffc8"/><stop offset="0.599" stop-color="#00ff96"/><stop offset="0.661" stop-color="#00ff5a"/><stop offset="0.681" stop-color="#00ff41"/><stop offset="0.720" stop-color="#00ff19"/><stop offset="0.751" stop-color="#0aff00"/><stop offset="0.782" stop-color="#32ff00"/><stop offset="0.803" stop-color="#5aff00"/><stop offset="0.846" stop-color="#96ff00"/><stop offset="0.875" stop-color="#e6ff0f"/><stop offset="0.880" stop-color="#fffa00"/><stop offset="0.884" stop-color="#ffdc00"/><stop offset="0.892" stop-color="#ff9600"/><stop offset="0.906" stop-color="#ff5c00"/><stop offset="0.917" stop-color="#ff3a00"/><stop offset="0.935" stop-color="#ff1c00"/><stop offset="0.950" stop-color="#ff0800"/><stop offset="0.969" stop-color="#fe0000"/></linearGradient>
<linearGradient id="g96" x1="0" y1="0" x2="0" y2="1"><stop offset="0.000" stop-color="#0067ff"/><stop offset="0.050" stop-color="#0073ff"/><stop offset="0.135" stop-color="#0087ff"/><stop offset="0.194" stop-color="#0098ff"/><stop offset="0.420" stop-color="#00ebff"/><stop offset="0.446" stop-color="#00fffa"/><stop offset="0.480" stop-color="#00ffeb"/><stop offset="0.534" stop-color="#00ffc8"/><stop offset="0.597" stop-color="#00ff96"/><stop offset="0.659" stop-color="#00ff5a"/><stop offset="0.680" stop-color="#00ff41"/><stop offset="0.719" stop-color="#00ff19"/><stop offset="0.750" stop-color="#0aff00"/><stop offset="0.781" stop-color="#32ff00"/><stop offset="0.802" stop-color="#5aff00"/><stop offset="0.845" stop-color="#96ff00"/><stop offset="0.874" stop-color="#e6ff0f"/><stop offset="0.879" stop-color="#fffa00"/><stop offset="0.884" stop-color="#ffdc00"/><stop offset="0.892" stop-color="#ff9600"/><stop offset="0.905" stop-color="#ff5c00"/><stop offset="0.916" stop-color="#ff3a00"/><stop offset="0.933" stop-color="#ff1c00"/><stop offset="0.947" stop-color="#ff0800"/><stop offset="0.967" stop-color="#fe0000"/></linearGradient>
<linearGradient id="g97" x1="0" y1="0" x2="0" y2="1"><stop offset="0.000" stop-color="#0068ff"/><stop offset="0.045" stop-color="#0073ff"/><stop offset="0.131" stop-color="#0087ff"/><stop offset="0.190" stop-color="#0098ff"/><stop offset="0.417" stop-color="#00ebff"/><stop offset="0.443" stop-color="#00fffa"/><stop offset="0.477" stop-color="#00ffeb"/><stop offset="0.532" stop-color="#00ffc8"/><stop offset="0.595" stop-color="#00ff96"/><stop offset="0.658" stop-color="#00ff5a"/><stop offset="0.679" stop-color="#00ff41"/><stop offset="0.718" stop-color="#00ff19"/><stop offset="0.749" stop-color="#0aff00"/><stop offset="0.780" stop-color="#32ff00"/><stop offset="0.801" stop-color="#5aff00"/><stop offset="0.843" stop-color="#96ff00"/><stop offset="0.872" stop-color="#e6ff0f"/><stop offset="0.878" stop-color="#fffa00"/><stop offset="0.883" stop-color="#ffdc00"/><stop offset="0.892" stop-color="#ff9600"/><stop offset="0.905" stop-color="#ff5c00"/><stop offset="0.915" stop-color="#ff3a00"/><stop offset="0.931" stop-color="#ff1c00"/><stop offset="0.944" stop-color="#ff0800"/><stop offset="0.964" stop-color="#fe0000"/></linearGradient>
<linearGradient id="g98" x1="0" y1="0" x2="0" y2="1"><stop offset="0.000" stop-color="#0069ff"/><stop offset="0.041" stop-color="#0073ff"/><stop offset="0.126" stop-color="#0087ff"/><stop offset="0.185" stop-color="#0098ff"/><stop offset="0.415" stop-color="#00ebff"/><stop offset="0.441" stop-color="#00fffa"/><stop offset="0.475" stop-color="#00ffeb"/><stop offset="0.531" stop-color="#00ffc8"/><stop offset="0.594" stop-color="#00ff96"/><stop offset="0.657" stop-color="#00ff5a"/><stop offset="0.678" stop-color="#00ff41"/><stop offset="0.717" stop-color="#00ff19"/><stop offset="0.747" stop-color="#0aff00"/><stop offset="0.778" stop-color="#32ff00"/><stop offset="0.799" stop-color="#5aff00"/><stop offset="0.842" stop-color="#96ff00"/><stop offset="0.871" stop-color="#e6ff0f"/><stop offset="0.877" stop-color="#fffa00"/><stop offset="0.882" stop-color="#ffdc00"/><stop offset="0.892" stop-color="#ff9600"/><stop offset="0.904" stop-color="#ff5c00"/><stop offset="0.915" stop-color="#ff3a00"/><stop offset="0.930" stop-color="#ff1c00"/><stop offset="0.942" stop-color="#ff0800"/><stop offset="0.962" stop-color="#fe0000"/></linearGradient>
<linearGradient id="g99" x1="0" y1="0" x2="0" y2="1"><stop offset="0.000" stop-color="#006aff"/><stop offset="0.037" stop-color="#0073ff"/><stop offset="0.122" stop-color="#0087ff"/><stop offset="0.181" stop-color="#0098ff"/><stop offset="0.412" stop-color="#00ebff"/><stop offset="0.438" stop-color="#00fffa"/><stop offset="0.473" stop-color="#00ffeb"/><stop offset="0.529" stop-color="#00ffc8"/><stop offset="0.592" stop-color="#00ff96"/><stop offset="0.656" stop-color="#00ff5a"/><stop offset="0.677" stop-color="#00ff41"/><stop offset="0.716" stop-color="#00ff19"/><stop offset="0.746" stop-color="#0aff00"/><stop offset="0.777" stop-color="#32ff00"/><stop offset="0.798" stop-color="#5aff00"/><stop offset="0.840" stop-color="#96ff00"/><stop offset="0.869" stop-color="#e6ff0f"/><stop offset="0.875" stop-color="#fffa00"/><stop offset="0.881" stop-color="#ffdc00"/><stop offset="0.892" stop-color="#ff9600"/><stop offset="0.904" stop-color="#ff5c00"/><stop offset="0.914" stop-color="#ff3a00"/><stop offset="0.928" stop-color="#ff1c00"/><stop offset="0.939" stop-color="#ff0800"/><stop offset="0.959" stop-color="#fe0000"/></linearGradient>
<linearGradient id="g100" x1="0" y1="0" x2="0" y2="1"><stop offset="0.000" stop-color="#006bff"/><stop offset="0.033" stop-color="#0073ff"/><stop offset="0.118" stop-color="#0087ff"/><stop offset="0.177" stop-color="#0098ff"/><stop offset="0.409" stop-color="#00ebff"/><stop offset="0.436" stop-color="#00fffa"/><stop offset="0.471" stop-color="#00ffeb"/><stop offset="0.527" stop-color="#00ffc8"/><stop offset="0.591" stop-color="#00ff96"/><stop offset="0.655" stop-color="#00ff5a"/><stop offset="0.676" stop-color="#00ff41"/><stop offset="0.714" stop-color="#00ff19"/><stop offset="0.745" stop-color="#0aff00"/><stop offset="0.775" stop-color="#32ff00"/><stop offset="0.796" stop-color="#5aff00"/><stop offset="0.838" stop-color="#96ff00"/><stop offset="0.866" stop-color="#e6ff0f"/><stop offset="0.873" stop-color="#fffa00"/><stop offset="0.880" stop-color="#ffdc00"/><stop offset="0.892" stop-color="#ff9600"/><stop offset="0.904" stop-color="#ff5c00"/><stop offset="0.914" stop-color="#ff3a00"/><stop offset="0.927" stop-color="#ff1c00"/><stop offset="0.937" stop-color="#ff0800"/><stop offset="0.957" stop-color="#fe0000"/></linearGradient>
<linearGradient id="g101" x1="0" y1="0" x2="0" y2="1"><stop offset="0.000" stop-color="#006cff"/><stop offset="0.028" stop-color="#0073ff"/><stop offset="0.114" stop-color="#0087ff"/><stop offset="0.172" stop-color="#0098ff"/><stop offset="0.406" stop-color="#00ebff"/><stop offset="0.433" stop-color="#00fffa"/><stop offset="0.468" stop-color="#00ffeb"/><stop offset="0.525" stop-color="#00ffc8"/><stop offset="0.589" stop-color="#00ff96"/><stop offset="0.654" stop-color="#00ff5a"/><stop offset="0.676" stop-color="#00ff41"/><stop offset="0.713" stop-color="#00ff19"/><stop offset="0.743" stop-color="#0aff00"/><stop offset="0.774" stop-color="#32ff00"/><stop offset="0.794" stop-color="#5aff00"/><stop offset="0.836" stop-color="#96ff00"/><stop offset="0.864" stop-color="#e6ff0f"/><stop offset="0.872" stop-color="#fffa00"/><stop offset="0.879" stop-color="#ffdc00"/><stop offset="0.892" stop-color="#ff9600"/><stop offset="0.904" stop-color="#ff5c00"/><stop offset="0.913" stop-color="#ff3a00"/><stop offset="0.926" stop-color="#ff1c00"/><stop offset="0.936" stop-color="#ff0800"/><stop offset="0.955" stop-color="#fe0000"/></linearGradient>
<linearGradient id="g102" x1="0" y1="0" x2="0" y2="1"><stop offset="0.000" stop-color="#006dff"/><stop offset="0.024" stop-color="#0073ff"/><stop offset="0.110" stop-color="#0087ff"/><stop offset="0.168" stop-color="#0098ff"/><stop offset="0.403" stop-color="#00ebff"/><stop offset="0.430" stop-color="#00fffa"/><stop offset="0.466" stop-color="#00ffeb"/><stop offset="0.523" stop-color="#00ffc8"/><stop offset="0.588" stop-color="#00ff96"/><stop offset="0.653" stop-color="#00ff5a"/><stop offset="0.675" stop-color="#00ff41"/><stop offset="0.712" stop-color="#00ff19"/><stop offset="0.742" stop-color="#0aff00"/><stop offset="0.772" stop-color="#32ff00"/><stop offset="0.793" stop-color="#5aff00"/><stop offset="0.834" stop-color="#96ff00"/><stop offset="0.862" stop-color="#e6ff0f"/><stop offset="0.870" stop-color="#fffa00"/><stop offset="0.878" stop-color="#ffdc00"/><stop offset="0.892" stop-color="#ff9600"/><stop offset="0.903" stop-color="#ff5c00"/><stop offset="0.913" stop-color="#ff3a00"/><stop offset="0.925" stop-color="#ff1c00"/><stop offset="0.934" stop-color="#ff0800"/><stop offset="0.954" stop-color="#fe0000"/></linearGradient>
<linearGradient id="g103" x1="0" y1="0" x2="0" y2="1"><stop offset="0.000" stop-color="#006eff"/><stop offset="0.021" stop-color="#0073ff"/><stop offset="0.106" stop-color="#0087ff"/><stop offset="0.165" stop-color="#0098ff"/><stop offset="0.400" stop-color="#00ebff"/><stop offset="0.427" stop-color="#00fffa"/><stop offset="0.463" stop-color="#00ffeb"/><stop offset="0.521" stop-color="#00ffc8"/><stop offset="0.586" stop-color="#00ff96"/><stop offset="0.652" stop-color="#00ff5a"/><stop offset="0.674" stop-color="#00ff41"/><stop offset="0.711" stop-color="#00ff19"/><stop offset="0.741" stop-color="#0aff00"/><stop offset="0.771" stop-color="#32ff00"/><stop offset="0.791" stop-color="#5aff00"/><stop offset="0.832" stop-color="#96ff00"/><stop offset="0.860" stop-color="#e6ff0f"/><stop offset="0.869" stop-color="#fffa00"/><stop offset="0.877" stop-color="#ffdc00"/><stop offset="0.892" stop-color="#ff9600"/><stop offset="0.903" stop-color="#ff5c00"/><stop offset="0.912" stop-color="#ff3a00"/><stop offset="0.924" stop-color="#ff1c00"/><stop offset="0.933" stop-color="#ff0800"/><stop offset="0.953" stop-color="#fe0000"/></linearGradient>
<linearGradient id="g104" x1="0" y1="0" x2="0" y2="1"><stop offset="0.000" stop-color="#006fff"/><stop offset="0.017" stop-color="#0073ff"/><stop offset="0.102" stop-color="#0087ff"/><stop offset="0.161" stop-color="#0098ff"/><stop offset="0.397" stop-color="#00ebff"/><stop offset="0.424" stop-color="#00fffa"/><stop offset="0.460" stop-color="#00ffeb"/><stop offset="0.518" stop-color="#00ffc8"/><stop offset="0.585" stop-color="#00ff96"/><stop offset="0.651" stop-color="#00ff5a"/><stop offset="0.673" stop-color="#00ff41"/><stop offset="0.710" stop-color="#00ff19"/><stop offset="0.740" stop-color="#0aff00"/><stop offset="0.770" stop-color="#32ff00"/><stop offset="0.790" stop-color="#5aff00"/><stop offset="0.831" stop-color="#96ff00"/><stop offset="0.858" stop-color="#e6ff0f"/><stop offset="0.868" stop-color="#fffa00"/><stop offset="0.877" stop-color="#ffdc00"/><stop offset="0.892" stop-color="#ff9600"/><stop offset="0.903" stop-color="#ff5c00"/><stop offset="0.912" stop-color="#ff3a00"/><stop offset="0.923" stop-color="#ff1c00"/><stop offset="0.933" stop-color="#ff0800"/><stop offset="0.952" stop-color="#fe0000"/></linearGradient>
<linearGradient id="g105" x1="0" y1="0" x2="0" y2="1"><stop offset="0.000" stop-color="#0070ff"/><stop offset="0.013" stop-color="#0073ff"/><stop offset="0.099" stop-color="#0087ff"/><stop offset="0.157" stop-color="#0098ff"/><stop offset="0.393" stop-color="#00ebff"/><stop offset="0.421" stop-color="#00fffa"/><stop offset="0.457" stop-color="#00ffeb"/><stop offset="0.516" stop-color="#00ffc8"/><stop offset="0.583" stop-color="#00ff96"/><stop offset="0.650" stop-color="#00ff5a"/><stop offset="0.673" stop-color="#00ff41"/><stop offset="0.710" stop-color="#00ff19"/><stop offset="0.739" stop-color="#0aff00"/><stop offset="0.768" stop-color="#32ff00"/><stop offset="0.789" stop-color="#5aff00"/><stop offset="0.829" stop-color="#96ff00"/><stop offset="0.857" stop-color="#e6ff0f"/><stop offset="0.866" stop-color="#fffa00"/><stop offset="0.876" stop-color="#ffdc00"/><stop offset="0.892" stop-color="#ff9600"/><stop offset="0.903" stop-color="#ff5c00"/><stop offset="0.912" stop-color="#ff3a00"/><stop offset="0.923" stop-color="#ff1c00"/><stop offset="0.932" stop-color="#ff0800"/><stop offset="0.952" stop-color="#fe0000"/></linearGradient>
<linearGradient id="g106" x1="0" y1="0" x2="0" y2="1"><stop offset="0.000" stop-color="#0071ff"/><stop offset="0.010" stop-color="#0073ff"/><stop offset="0.095" stop-color="#0087ff"/><stop offset="0.154" stop-color="#0098ff"/><stop offset="0.389" stop-color="#00ebff"/><stop offset="0.417" stop-color="#00fffa"/><stop offset="0.454" stop-color="#00ffeb"/><stop offset="0.514" stop-color="#00ffc8"/><stop offset="0.582" stop-color="#00ff96"/><stop offset="0.649" stop-color="#00ff5a"/><stop offset="0.672" stop-color="#00ff41"/><stop offset="0.709" stop-color="#00ff19"/><stop offset="0.738" stop-color="#0aff00"/><stop offset="0.767" stop-color="#32ff00"/><stop offset="0.787" stop-color="#5aff00"/><stop offset="0.828" stop-color="#96ff00"/><stop offset="0.855" stop-color="#e6ff0f"/><stop offset="0.865" stop-color="#fffa00"/><stop offset="0.875" stop-color="#ffdc00"/><stop offset="0.892" stop-color="#ff9600"/><stop offset="0.903" stop-color="#ff5c00"/><stop offset="0.911" stop-color="#ff3a00"/><stop offset="0.923" stop-color="#ff1c00"/><stop offset="0.932" stop-color="#ff0800"/><stop offset="0.952" stop-color="#fe0000"/></linearGradient>
<linearGradient id="g107" x1="0" y1="0" x2="0" y2="1"><stop offset="0.000" stop-color="#0071ff"/><stop offset="0.006" stop-color="#0073ff"/><stop offset="0.092" stop-color="#0087ff"/><stop offset="0.150" stop-color="#0098ff"/><stop offset="0.385" stop-color="#00ebff"/><stop offset="0.414" stop-color="#00fffa"/><stop offset="0.451" stop-color="#00ffeb"/><stop offset="0.511" stop-color="#00ffc8"/><stop offset="0.580" stop-color="#00ff96"/><stop offset="0.648" stop-color="#00ff5a"/><stop offset="0.671" stop-color="#00ff41"/><stop offset="0.708" stop-color="#00ff19"/><stop offset="0.737" stop-color="#0aff00"/><stop offset="0.766" stop-color="#32ff00"/><stop offset="0.786" stop-color="#5aff00"/><stop offset="0.826" stop-color="#96ff00"/><stop offset="0.854" stop-color="#e6ff0f"/><stop offset="0.864" stop-color="#fffa00"/><stop offset="0.875" stop-color="#ffdc00"/><stop offset="0.892" stop-color="#ff9600"/><stop offset="0.902" stop-color="#ff5c00"/><stop offset="0.911" stop-color="#ff3a00"/><stop offset="0.923" stop-color="#ff1c00"/><stop offset="0.932" stop-color="#ff0800"/><stop offset="0.951" stop-color="#fe0000"/></linearGradient>
<linearGradient id="g108" x1="0" y1="0" x2="0" y2="1"><stop offset="0.000" stop-color="#0072ff"/><stop offset="0.003" stop-color="#0073ff"/><stop offset="0.088" stop-color="#0087ff"/><stop offset="0.147" stop-color="#0098ff"/><stop offset="0.381" stop-color="#00ebff"/><stop offset="0.410" stop-color="#00fffa"/><stop offset="0.447" stop-color="#00ffeb"/><stop offset="0.508" stop-color="#00ffc8"/><stop offset="0.578" stop-color="#00ff96"/><stop offset="0.648" stop-color="#00ff5a"/><stop offset="0.671" stop-color="#00ff41"/><stop offset="0.707" stop-color="#00ff19"/><stop offset="0.736" stop-color="#0aff00"/><stop offset="0.765" stop-color="#32ff00"/><stop offset="0.785" stop-color="#5aff00"/><stop offset="0.825" stop-color="#96ff00"/><stop offset="0.852" stop-color="#e6ff0f"/><stop offset="0.863" stop-color="#fffa00"/><stop offset="0.874" stop-color="#ffdc00"/><stop offset="0.892" stop-color="#ff9600"/><stop offset="0.902" stop-color="#ff5c00"/><stop offset="0.911" stop-color="#ff3a00"/><stop offset="0.922" stop-color="#ff1c00"/><stop offset="0.932" stop-color="#ff0800"/><stop offset="0.951" stop-color="#fe0000"/></linearGradient>
<linearGradient id="g109" x1="0" y1="0" x2="0" y2="1"><stop offset="0.000" stop-color="#0073ff"/><stop offset="0.085" stop-color="#0087ff"/><stop offset="0.143" stop-color="#0098ff"/><stop offset="0.376" stop-color="#00ebff"/><stop offset="0.406" stop-color="#00fffa"/><stop offset="0.444" stop-color="#00ffeb"/><stop offset="0.505" stop-color="#00ffc8"/><stop offset="0.576" stop-color="#00ff96"/><stop offset="0.646" stop-color="#00ff5a"/><stop offset="0.670" stop-color="#00ff41"/><stop offset="0.706" stop-color="#00ff19"/><stop offset="0.735" stop-color="#0aff00"/><stop offset="0.764" stop-color="#32ff00"/><stop offset="0.784" stop-color="#5aff00"/><stop offset="0.824" stop-color="#96ff00"/><stop offset="0.851" stop-color="#e6ff0f"/><stop offset="0.862" stop-color="#fffa00"/><stop offset="0.873" stop-color="#ffdc00"/><stop offset="0.892" stop-color="#ff9600"/><stop offset="0.902" stop-color="#ff5c00"/><stop offset="0.911" stop-color="#ff3a00"/><stop offset="0.922" stop-color="#ff1c00"/><stop offset="0.931" stop-color="#ff0800"/><stop offset="0.951" stop-color="#fe0000"/></linearGradient>
<linearGradient id="g110" x1="0" y1="0" x2="0" y2="1"><stop offset="0.000" stop-color="#0074ff"/><stop offset="0.081" stop-color="#0087ff"/><stop offset="0.140" stop-color="#0098ff"/><stop offset="0.372" stop-color="#00ebff"/><stop offset="0.401" stop-color="#00fffa"/><stop offset="0.440" stop-color="#00ffeb"/><stop offset="0.502" stop-color="#00ffc8"/><stop offset="0.574" stop-color="#00ff96"/><stop offset="0.645" stop-color="#00ff5a"/><stop offset="0.669" stop-color="#00ff41"/><stop offset="0.705" stop-color="#00ff19"/><stop offset="0.734" stop-color="#0aff00"/><stop offset="0.763" stop-color="#32ff00"/><stop offset="0.782" stop-color="#5aff00"/><stop offset="0.822" stop-color="#96ff00"/><stop offset="0.849" stop-color="#e6ff0f"/><stop offset="0.861" stop-color="#fffa00"/><stop offset="0.873" stop-color="#ffdc00"/><stop offset="0.892" stop-color="#ff9600"/><stop offset="0.902" stop-color="#ff5c00"/><stop offset="0.911" stop-color="#ff3a00"/><stop offset="0.922" stop-color="#ff1c00"/><stop offset="0.931" stop-color="#ff0800"/><stop offset="0.951" stop-color="#fe0000"/></linearGradient>
<linearGradient id="g111" x1="0" y1="0" x2="0" y2="1"><stop offset="0.000" stop-color="#0075ff"/><stop offset="0.077" stop-color="#0087ff"/><stop offset="0.136" stop-color="#0098ff"/><stop offset="0.367" stop-color="#00ebff"/><stop offset="0.397" stop-color="#00fffa"/><stop offset="0.436" stop-color="#00ffeb"/><stop offset="0.499" stop-color="#00ffc8"/><stop offset="0.572" stop-color="#00ff96"/><stop offset="0.644" stop-color="#00ff5a"/><stop offset="0.668" stop-color="#00ff41"/><stop offset="0.704" stop-color="#00ff19"/><stop offset="0.732" stop-color="#0aff00"/><stop offset="0.761" stop-color="#32ff00"/><stop offset="0.781" stop-color="#5aff00"/><stop offset="0.821" stop-color="#96ff00"/><stop offset="0.848" stop-color="#e6ff0f"/><stop offset="0.860" stop-color="#fffa00"/><stop offset="0.872" stop-color="#ffdc00"/><stop offset="0.892" stop-color="#ff9600"/><stop offset="0.902" stop-color="#ff5c00"/><stop offset="0.910" stop-color="#ff3a00"/><stop offset="0.922" stop-color="#ff1c00"/><stop offset="0.931" stop-color="#ff0800"/><stop offset="0.951" stop-color="#fe0000"/></linearGradient>
<linearGradient id="g112" x1="0" y1="0" x2="0" y2="1"><stop offset="0.000" stop-color="#0076ff"/><stop offset="0.074" stop-color="#0087ff"/><stop offset="0.132" stop-color="#0098ff"/><stop offset="0.363" stop-color="#00ebff"/><stop offset="0.393" stop-color="#00fffa"/><stop offset="0.433" stop-color="#00ffeb"/><stop offset="0.496" stop-color="#00ffc8"/><stop offset="0.569" stop-color="#00ff96"/><stop offset="0.642" stop-color="#00ff5a"/><stop offset="0.666" stop-color="#00ff41"/><stop offset="0.702" stop-color="#00ff19"/><stop offset="0.731" stop-color="#0aff00"/><stop offset="0.760" stop-color="#32ff00"/><stop offset="0.780" stop-color="#5aff00"/><stop offset="0.819" stop-color="#96ff00"/><stop offset="0.846" stop-color="#e6ff0f"/><stop offset="0.859" stop-color="#fffa00"/><stop offset="0.871" stop-color="#ffdc00"/><stop offset="0.892" stop-color="#ff9600"/><stop offset="0.902" stop-color="#ff5c00"/><stop offset="0.910" stop-color="#ff3a00"/><stop offset="0.922" stop-color="#ff1c00"/><stop offset="0.931" stop-color="#ff0800"/><stop offset="0.951" stop-color="#fe0000"/></linearGradient>
<linearGradient id="g113" x1="0" y1="0" x2="0" y2="1"><stop offset="0.000" stop-color="#0077ff"/><stop offset="0.070" stop-color="#0087ff"/><stop offset="0.129" stop-color="#0098ff"/><stop offset="0.359" stop-color="#00ebff"/><stop offset="0.389" stop-color="#00fffa"/><stop offset="0.429" stop-color="#00ffeb"/><stop offset="0.493" stop-color="#00ffc8"/><stop offset="0.567" stop-color="#00ff96"/><stop offset="0.640" stop-color="#00ff5a"/><stop offset="0.665" stop-color="#00ff41"/><stop offset="0.701" stop-color="#00ff19"/><stop offset="0.729" stop-color="#0aff00"/><stop offset="0.758" stop-color="#32ff00"/><stop offset="0.778" stop-color="#5aff00"/><stop offset="0.818" stop-color="#96ff00"/><stop offset="0.845" stop-color="#e6ff0f"/><stop offset="0.858" stop-color="#fffa00"/><stop offset="0.871" stop-color="#ffdc00"/><stop offset="0.892" stop-color="#ff9600"/><stop offset="0.902" stop-color="#ff5c00"/><stop offset="0.910" stop-color="#ff3a00"/><stop offset="0.921" stop-color="#ff1c00"/><stop offset="0.931" stop-color="#ff0800"/><stop offset="0.950" stop-color="#fe0000"/></linearGradient>
<linearGradient id="g114" x1="0" y1="0" x2="0" y2="1"><stop offset="0.000" stop-color="#0078ff"/><stop offset="0.066" stop-color="#0087ff"/><stop offset="0.125" stop-color="#0098ff"/><stop offset="0.355" stop-color="#00ebff"/><stop offset="0.385" stop-color="#00fffa"/><stop offset="0.426" stop-color="#00ffeb"/><stop offset="0.490" stop-color="#00ffc8"/><stop offset="0.564" stop-color="#00ff96"/><stop offset="0.638" stop-color="#00ff5a"/><stop offset="0.663" stop-color="#00ff41"/><stop offset="0.699" stop-color="#00ff19"/><stop offset="0.728" stop-color="#0aff00"/><stop offset="0.757" stop-color="#32ff00"/><stop offset="0.777" stop-color="#5aff00"/><stop offset="0.816" stop-color="#96ff00"/><stop offset="0.843" stop-color="#e6ff0f"/><stop offset="0.857" stop-color="#fffa00"/><stop offset="0.870" stop-color="#ffdc00"/><stop offset="0.892" stop-color="#ff9600"/><stop offset="0.902" stop-color="#ff5c00"/><stop offset="0.910" stop-color="#ff3a00"/><stop offset="0.921" stop-color="#ff1c00"/><stop offset="0.931" stop-color="#ff0800"/><stop offset="0.950" stop-color="#fe0000"/></linearGradient>
<linearGradient id="g115" x1="0" y1="0" x2="0" y2="1"><stop offset="0.000" stop-color="#0078ff"/><stop offset="0.062" stop-color="#0087ff"/><stop offset="0.121" stop-color="#0098ff"/><stop offset="0.351" stop-color="#00ebff"/><stop offset="0.382" stop-color="#00fffa"/><stop offset="0.422" stop-color="#00ffeb"/><stop offset="0.487" stop-color="#00ffc8"/><stop offset="0.562" stop-color="#00ff96"/><stop offset="0.636" stop-color="#00ff5a"/><stop offset="0.661" stop-color="#00ff41"/><stop offset="0.697" stop-color="#00ff19"/><stop offset="0.726" stop-color="#0aff00"/><stop offset="0.755" stop-color="#32ff00"/><stop offset="0.775" stop-color="#5aff00"/><stop offset="0.815" stop-color="#96ff00"/><stop offset="0.842" stop-color="#e6ff0f"/><stop offset="0.856" stop-color="#fffa00"/><stop offset="0.870" stop-color="#ffdc00"/><stop offset="0.892" stop-color="#ff9600"/><stop offset="0.902" stop-color="#ff5c00"/><stop offset="0.910" stop-color="#ff3a00"/><stop offset="0.921" stop-color="#ff1c00"/><stop offset="0.930" stop-color="#ff0800"/><stop offset="0.950" stop-color="#fe0000"/></linearGradient>
<linearGradient id="g116" x1="0" y1="0" x2="0" y2="1"><stop offset="0.000" stop-color="#0079ff"/><stop offset="0.058" stop-color="#0087ff"/><stop offset="0.117" stop-color="#0098ff"/><stop offset="0.347" stop-color="#00ebff"/><stop offset="0.378" stop-color="#00fffa"/><stop offset="0.419" stop-color="#00ffeb"/><stop offset="0.484" stop-color="#00ffc8"/><stop offset="0.559" stop-color="#00ff96"/><stop offset="0.633" stop-color="#00ff5a"/><stop offset="0.658" stop-color="#00ff41"/><stop offset="0.695" stop-color="#00ff19"/><stop offset="0.724" stop-color="#0aff00"/><stop offset="0.754" stop-color="#32ff00"/><stop offset="0.774" stop-color="#5aff00"/><stop offset="0.814" stop-color="#96ff00"/><stop offset="0.841" stop-color="#e6ff0f"/><stop offset="0.855" stop-color="#fffa00"/><stop offset="0.869" stop-color="#ffdc00"/><stop offset="0.892" stop-color="#ff9600"/><stop offset="0.902" stop-color="#ff5c00"/><stop offset="0.910" stop-color="#ff3a00"/><stop offset="0.921" stop-color="#ff1c00"/><stop offset="0.930" stop-color="#ff0800"/><stop offset="0.950" stop-color="#fe0000"/></linearGradient>
<linearGradient id="g117" x1="0" y1="0" x2="0" y2="1"><stop offset="0.000" stop-color="#007aff"/><stop offset="0.054" stop-color="#0087ff"/><stop offset="0.113" stop-color="#0098ff"/><stop offset="0.343" stop-color="#00ebff"/><stop offset="0.374" stop-color="#00fffa"/><stop offset="0.415" stop-color="#00ffeb"/><stop offset="0.481" stop-color="#00ffc8"/><stop offset="0.556" stop-color="#00ff96"/><stop offset="0.631" stop-color="#00ff5a"/><stop offset="0.656" stop-color="#00ff41"/><stop offset="0.693" stop-color="#00ff19"/><stop offset="0.722" stop-color="#0aff00"/><stop offset="0.752" stop-color="#32ff00"/><stop offset="0.772" stop-color="#5aff00"/><stop offset="0.813" stop-color="#96ff00"/><stop offset="0.840" stop-color="#e6ff0f"/><stop offset="0.855" stop-color="#fffa00"/><stop offset="0.869" stop-color="#ffdc00"/><stop offset="0.892" stop-color="#ff9600"/><stop offset="0.902" stop-color="#ff5c00"/><stop offset="0.910" stop-color="#ff3a00"/><stop offset="0.921" stop-color="#ff1c00"/><stop offset="0.930" stop-color="#ff0800"/><stop offset="0.950" stop-color="#fe0000"/></linearGradient>
<linearGradient id="g118" x1="0" y1="0" x2="0" y2="1"><stop offset="0.000" stop-color="#007bff"/><stop offset="0.049" stop-color="#0087ff"/><stop offset="0.108" stop-color="#0098ff"/><stop offset="0.339" stop-color="#00ebff"/><stop offset="0.370" stop-color="#00fffa"/><stop offset="0.411" stop-color="#00ffeb"/><stop offset="0.477" stop-color="#00ffc8"/><stop offset="0.553" stop-color="#00ff96"/><stop offset="0.628" stop-color="#00ff5a"/><stop offset="0.653" stop-color="#00ff41"/><stop offset="0.690" stop-color="#00ff19"/><stop offset="0.720" stop-color="#0aff00"/><stop offset="0.750" stop-color="#32ff00"/><stop offset="0.771" stop-color="#5aff00"/><stop offset="0.812" stop-color="#96ff00"/><stop offset="0.840" stop-color="#e6ff0f"/><stop offset="0.854" stop-color="#fffa00"/><stop offset="0.868" stop-color="#ffdc00"/><stop offset="0.892" stop-color="#ff9600"/><stop offset="0.901" stop-color="#ff5c00"/><stop offset="0.909" stop-color="#ff3a00"/><stop offset="0.921" stop-color="#ff1c00"/><stop offset="0.930" stop-color="#ff0800"/><stop offset="0.949" stop-color="#fe0000"/></linearGradient>
<linearGradient id="g119" x1="0" y1="0" x2="0" y2="1"><stop offset="0.000" stop-color="#007dff"/><stop offset="0.045" stop-color="#0087ff"/><stop offset="0.103" stop-color="#0098ff"/><stop offset="0.335" stop-color="#00ebff"/><stop offset="0.367" stop-color="#00fffa"/><stop offset="0.408" stop-color="#00ffeb"/><stop offset="0.474" stop-color="#00ffc8"/><stop offset="0.549" stop-color="#00ff96"/><stop offset="0.625" stop-color="#00ff5a"/><stop offset="0.650" stop-color="#00ff41"/><stop offset="0.688" stop-color="#00ff19"/><stop offset="0.718" stop-color="#0aff00"/><stop offset="0.748" stop-color="#32ff00"/><stop offset="0.769" stop-color="#5aff00"/><stop offset="0.811" stop-color="#96ff00"/><stop offset="0.839" stop-color="#e6ff0f"/><stop offset="0.854" stop-color="#fffa00"/><stop offset="0.868" stop-color="#ffdc00"/><stop offset="0.891" stop-color="#ff9600"/><stop offset="0.901" stop-color="#ff5c00"/><stop offset="0.909" stop-color="#ff3a00"/><stop offset="0.920" stop-color="#ff1c00"/><stop offset="0.930" stop-color="#ff0800"/><stop offset="0.949" stop-color="#fe0000"/></linearGradient>
<linearGradient id="g120" x1="0" y1="0" x2="0" y2="1"><stop offset="0.000" stop-color="#007eff"/><stop offset="0.040" stop-color="#0087ff"/><stop offset="0.099" stop-color="#0098ff"/><stop offset="0.332" stop-color="#00ebff"/><stop offset="0.363" stop-color="#00fffa"/><stop offset="0.404" stop-color="#00ffeb"/><stop offset="0.470" stop-color="#00ffc8"/><stop offset="0.546" stop-color="#00ff96"/><stop offset="0.622" stop-color="#00ff5a"/><stop offset="0.647" stop-color="#00ff41"/><stop offset="0.685" stop-color="#00ff19"/><stop offset="0.716" stop-color="#0aff00"/><stop offset="0.746" stop-color="#32ff00"/><stop offset="0.768" stop-color="#5aff00"/><stop offset="0.810" stop-color="#96ff00"/><stop offset="0.838" stop-color="#e6ff0f"/><stop offset="0.853" stop-color="#fffa00"/><stop offset="0.867" stop-color="#ffdc00"/><stop offset="0.891" stop-color="#ff9600"/><stop offset="0.901" stop-color="#ff5c00"/><stop offset="0.909" stop-color="#ff3a00"/><stop offset="0.920" stop-color="#ff1c00"/><stop offset="0.929" stop-color="#ff0800"/><stop offset="0.949" stop-color="#fe0000"/></linearGradient>
<linearGradient id="g121" x1="0" y1="0" x2="0" y2="1"><stop offset="0.000" stop-color="#007fff"/><stop offset="0.035" stop-color="#0087ff"/><stop offset="0.094" stop-color="#0098ff"/><stop offset="0.328" stop-color="#00ebff"/><stop offset="0.360" stop-color="#00fffa"/><stop offset="0.401" stop-color="#00ffeb"/><stop offset="0.467" stop-color="#00ffc8"/><stop offset="0.543" stop-color="#00ff96"/><stop offset="0.618" stop-color="#00ff5a"/><stop offset="0.644" stop-color="#00ff41"/><stop offset="0.682" stop-color="#00ff19"/><stop offset="0.713" stop-color="#0aff00"/><stop offset="0.744" stop-color="#32ff00"/><stop offset="0.766" stop-color="#5aff00"/><stop offset="0.809" stop-color="#96ff00"/><stop offset="0.838" stop-color="#e6ff0f"/><stop offset="0.853" stop-color="#fffa00"/><stop offset="0.867" stop-color="#ffdc00"/><stop offset="0.891" stop-color="#ff9600"/><stop offset="0.901" stop-color="#ff5c00"/><stop offset="0.909" stop-color="#ff3a00"/><stop offset="0.920" stop-color="#ff1c00"/><stop offset="0.929" stop-color="#ff0800"/><stop offset="0.949" stop-color="#fe0000"/></linearGradient>
<linearGradient id="g122" x1="0" y1="0" x2="0" y2="1"><stop offset="0.000" stop-color="#0080ff"/><stop offset="0.030" stop-color="#0087ff"/><stop offset="0.088" stop-color="#0098ff"/><stop offset="0.325" stop-color="#00ebff"/><stop offset="0.357" stop-color="#00fffa"/><stop offset="0.398" stop-color="#00ffeb"/><stop offset="0.464" stop-color="#00ffc8"/><stop offset="0.539" stop-color="#00ff96"/><stop offset="0.615" stop-color="#00ff5a"/><stop offset="0.640" stop-color="#00ff41"/><stop offset="0.679" stop-color="#00ff19"/><stop offset="0.711" stop-color="#0aff00"/><stop offset="0.742" stop-color="#32ff00"/><stop offset="0.764" stop-color="#5aff00"/><stop offset="0.807" stop-color="#96ff00"/><stop offset="0.837" stop-color="#e6ff0f"/><stop offset="0.852" stop-color="#fffa00"/><stop offset="0.867" stop-color="#ffdc00"/><stop offset="0.891" stop-color="#ff9600"/><stop offset="0.901" stop-color="#ff5c00"/><stop offset="0.909" stop-color="#ff3a00"/><stop offset="0.920" stop-color="#ff1c00"/><stop offset="0.929" stop-color="#ff0800"/><stop offset="0.949" stop-color="#fe0000"/></linearGradient>
<linearGradient id="g123" x1="0" y1="0" x2="0" y2="1"><stop offset="0.000" stop-color="#0081ff"/><stop offset="0.024" stop-color="#0087ff"/><stop offset="0.083" stop-color="#0098ff"/><stop offset="0.322" stop-color="#00ebff"/><stop offset="0.353" stop-color="#00fffa"/><stop offset="0.394" stop-color="#00ffeb"/><stop offset="0.460" stop-color="#00ffc8"/><stop offset="0.536" stop-color="#00ff96"/><stop offset="0.611" stop-color="#00ff5a"/><stop offset="0.637" stop-color="#00ff41"/><stop offset="0.677" stop-color="#00ff19"/><stop offset="0.709" stop-color="#0aff00"/><stop offset="0.740" stop-color="#32ff00"/><stop offset="0.762" stop-color="#5aff00"/><stop offset="0.806" stop-color="#96ff00"/><stop offset="0.836" stop-color="#e6ff0f"/><stop offset="0.851" stop-color="#fffa00"/><stop offset="0.866" stop-color="#ffdc00"/><stop offset="0.890" stop-color="#ff9600"/><stop offset="0.900" stop-color="#ff5c00"/><stop offset="0.909" stop-color="#ff3a00"/><stop offset="0.920" stop-color="#ff1c00"/><stop offset="0.929" stop-color="#ff0800"/><stop offset="0.949" stop-color="#fe0000"/></linearGradient>
<linearGradient id="g124" x1="0" y1="0" x2="0" y2="1"><stop offset="0.000" stop-color="#0082ff"/><stop offset="0.019" stop-color="#0087ff"/><stop offset="0.078" stop-color="#0098ff"/><stop offset="0.319" stop-color="#00ebff"/><stop offset="0.350" stop-color="#00fffa"/><stop offset="0.391" stop-color="#00ffeb"/><stop offset="0.457" stop-color="#00ffc8"/><stop offset="0.533" stop-color="#00ff96"/><stop offset="0.608" stop-color="#00ff5a"/><stop offset="0.633" stop-color="#00ff41"/><stop offset="0.674" stop-color="#00ff19"/><stop offset="0.706" stop-color="#0aff00"/><stop offset="0.738" stop-color="#32ff00"/><stop offset="0.761" stop-color="#5aff00"/><stop offset="0.805" stop-color="#96ff00"/><stop offset="0.836" stop-color="#e6ff0f"/><stop offset="0.851" stop-color="#fffa00"/><stop offset="0.866" stop-color="#ffdc00"/><stop offset="0.890" stop-color="#ff9600"/><stop offset="0.900" stop-color="#ff5c00"/><stop offset="0.909" stop-color="#ff3a00"/><stop offset="0.920" stop-color="#ff1c00"/><stop offset="0.929" stop-color="#ff0800"/><stop offset="0.948" stop-color="#fe0000"/></linearGradient>
<linearGradient id="g125" x1="0" y1="0" x2="0" y2="1"><stop offset="0.000" stop-color="#0084ff"/><stop offset="0.014" stop-color="#0087ff"/><stop offset="0.073" stop-color="#0098ff"/><stop offset="0.316" stop-color="#00ebff"/><stop offset="0.347" stop-color="#00fffa"/><stop offset="0.388" stop-color="#00ffeb"/><stop offset="0.454" stop-color="#00ffc8"/><stop offset="0.529" stop-color="#00ff96"/><stop offset="0.605" stop-color="#00ff5a"/><stop offset="0.630" stop-color="#00ff41"/><stop offset="0.671" stop-color="#00ff19"/><stop offset="0.704" stop-color="#0aff00"/><stop offset="0.736" stop-color="#32ff00"/><stop offset="0.759" stop-color="#5aff00"/><stop offset="0.804" stop-color="#96ff00"/><stop offset="0.835" stop-color="#e6ff0f"/><stop offset="0.850" stop-color="#fffa00"/><stop offset="0.865" stop-color="#ffdc00"/><stop offset="0.890" stop-color="#ff9600"/><stop offset="0.900" stop-color="#ff5c00"/><stop offset="0.908" stop-color="#ff3a00"/><stop offset="0.920" stop-color="#ff1c00"/><stop offset="0.929" stop-color="#ff0800"/><stop offset="0.948" stop-color="#fe0000"/></linearGradient>
<linearGradient id="g126" x1="0" y1="0" x2="0" y2="1"><stop offset="0.000" stop-color="#0085ff"/><stop offset="0.010" stop-color="#0087ff"/><stop offset="0.069" stop-color="#0098ff"/><stop offset="0.313" stop-color="#00ebff"/><stop offset="0.344" stop-color="#00fffa"/><stop offset="0.385" stop-color="#00ffeb"/><stop offset="0.451" stop-color="#00ffc8"/><stop offset="0.526" stop-color="#00ff96"/><stop offset="0.601" stop-color="#00ff5a"/><stop offset="0.626" stop-color="#00ff41"/><stop offset="0.668" stop-color="#00ff19"/><stop offset="0.701" stop-color="#0aff00"/><stop offset="0.734" stop-color="#32ff00"/><stop offset="0.757" stop-color="#5aff00"/><stop offset="0.803" stop-color="#96ff00"/><stop offset="0.834" stop-color="#e6ff0f"/><stop offset="0.850" stop-color="#fffa00"/><stop offset="0.865" stop-color="#ffdc00"/><stop offset="0.889" stop-color="#ff9600"/><stop offset="0.900" stop-color="#ff5c00"/><stop offset="0.908" stop-color="#ff3a00"/><stop offset="0.919" stop-color="#ff1c00"/><stop offset="0.928" stop-color="#ff0800"/><stop offset="0.948" stop-color="#fe0000"/></linearGradient>
<linearGradient id="g127" x1="0" y1="0" x2="0" y2="1"><stop offset="0.000" stop-color="#0086ff"/><stop offset="0.005" stop-color="#0087ff"/><stop offset="0.064" stop-color="#0098ff"/><stop offset="0.310" stop-color="#00ebff"/><stop offset="0.341" stop-color="#00fffa"/><stop offset="0.382" stop-color="#00ffeb"/><stop offset="0.448" stop-color="#00ffc8"/><stop offset="0.523" stop-color="#00ff96"/><stop offset="0.598" stop-color="#00ff5a"/><stop offset="0.623" stop-color="#00ff41"/><stop offset="0.665" stop-color="#00ff19"/><stop offset="0.699" stop-color="#0aff00"/><stop offset="0.733" stop-color="#32ff00"/><stop offset="0.756" stop-color="#5aff00"/><stop offset="0.802" stop-color="#96ff00"/><stop offset="0.834" stop-color="#e6ff0f"/><stop offset="0.849" stop-color="#fffa00"/><stop offset="0.864" stop-color="#ffdc00"/><stop offset="0.889" stop-color="#ff9600"/><stop offset="0.900" stop-color="#ff5c00"/><stop offset="0.908" stop-color="#ff3a00"/><stop offset="0.919" stop-color="#ff1c00"/><stop offset="0.928" stop-color="#ff0800"/><stop offset="0.948" stop-color="#fe0000"/></linearGradient>
<linearGradient id="g128" x1="0" y1="0" x2="0" y2="1"><stop offset="0.000" stop-color="#0087ff"/><stop offset="0.000" stop-color="#0087ff"/><stop offset="0.059" stop-color="#0098ff"/><stop offset="0.307" stop-color="#00ebff"/><stop offset="0.338" stop-color="#00fffa"/><stop offset="0.379" stop-color="#00ffeb"/><stop offset="0.445" stop-color="#00ffc8"/><stop offset="0.520" stop-color="#00ff96"/><stop offset="0.595" stop-color="#00ff5a"/><stop offset="0.620" stop-color="#00ff41"/><stop offset="0.663" stop-color="#00ff19"/><stop offset="0.697" stop-color="#0aff00"/><stop offset="0.731" stop-color="#32ff00"/><stop offset="0.754" stop-color="#5aff00"/><stop offset="0.801" stop-color="#96ff00"/><stop offset="0.833" stop-color="#e6ff0f"/><stop offset="0.849" stop-color="#fffa00"/><stop offset="0.864" stop-color="#ffdc00"/><stop offset="0.889" stop-color="#ff9600"/><stop offset="0.899" stop-color="#ff5c00"/><stop offset="0.908" stop-color="#ff3a00"/><stop offset="0.919" stop-color="#ff1c00"/><stop offset="0.928" stop-color="#ff0800"/><stop offset="0.948" stop-color="#fe0000"/></linearGradient>
<linearGradient id="g129" x1="0" y1="0" x2="0" y2="1"><stop offset="0.000" stop-color="#0088ff"/><stop offset="0.055" stop-color="#0098ff"/><stop offset="0.304" stop-color="#00ebff"/><stop offset="0.336" stop-color="#00fffa"/><stop offset="0.376" stop-color="#00ffeb"/><stop offset="0.442" stop-color="#00ffc8"/><stop offset="0.517" stop-color="#00ff96"/><stop offset="0.592" stop-color="#00ff5a"/><stop offset="0.617" stop-color="#00ff41"/><stop offset="0.660" stop-color="#00ff19"/><stop offset="0.695" stop-color="#0aff00"/><stop offset="0.729" stop-color="#32ff00"/><stop offset="0.753" stop-color="#5aff00"/><stop offset="0.800" stop-color="#96ff00"/><stop offset="0.832" stop-color="#e6ff0f"/><stop offset="0.848" stop-color="#fffa00"/><stop offset="0.863" stop-color="#ffdc00"/><stop offset="0.888" stop-color="#ff9600"/><stop offset="0.899" stop-color="#ff5c00"/><stop offset="0.908" stop-color="#ff3a00"/><stop offset="0.919" stop-color="#ff1c00"/><stop offset="0.928" stop-color="#ff0800"/><stop offset="0.948" stop-color="#fe0000"/></linearGradient>
<linearGradient id="g130" x1="0" y1="0" x2="0" y2="1"><stop offset="0.000" stop-color="#0089ff"/><stop offset="0.051" stop-color="#0098ff"/><stop offset="0.302" stop-color="#00ebff"/><stop offset="0.333" stop-color="#00fffa"/><stop offset="0.374" stop-color="#00ffeb"/><stop offset="0.440" stop-color="#00ffc8"/><stop offset="0.515" stop-color="#00ff96"/><stop offset="0.590" stop-color="#00ff5a"/><stop offset="0.615" stop-color="#00ff41"/><stop offset="0.658" stop-color="#00ff19"/><stop offset="0.693" stop-color="#0aff00"/><stop offset="0.727" stop-color="#32ff00"/><stop offset="0.751" stop-color="#5aff00"/><stop offset="0.799" stop-color="#96ff00"/><stop offset="0.832" stop-color="#e6ff0f"/><stop offset="0.847" stop-color="#fffa00"/><stop offset="0.863" stop-color="#ffdc00"/><stop offset="0.888" stop-color="#ff9600"/><stop offset="0.899" stop-color="#ff5c00"/><stop offset="0.908" stop-color="#ff3a00"/><stop offset="0.919" stop-color="#ff1c00"/><stop offset="0.928" stop-color="#ff0800"/><stop offset="0.947" stop-color="#fe0000"/></linearGradient>
<linearGradient id="g131" x1="0" y1="0" x2="0" y2="1"><stop offset="0.000" stop-color="#008bff"/><stop offset="0.047" stop-color="#0098ff"/><stop offset="0.299" stop-color="#00ebff"/><stop offset="0.331" stop-color="#00fffa"/><stop offset="0.371" stop-color="#00ffeb"/><stop offset="0.437" stop-color="#00ffc8"/><stop offset="0.512" stop-color="#00ff96"/><stop offset="0.587" stop-color="#00ff5a"/><stop offset="0.612" stop-color="#00ff41"/><stop offset="0.656" stop-color="#00ff19"/><stop offset="0.691" stop-color="#0aff00"/><stop offset="0.726" stop-color="#32ff00"/><stop offset="0.750" stop-color="#5aff00"/><stop offset="0.798" stop-color="#96ff00"/><stop offset="0.831" stop-color="#e6ff0f"/><stop offset="0.847" stop-color="#fffa00"/><stop offset="0.862" stop-color="#ffdc00"/><stop offset="0.888" stop-color="#ff9600"/><stop offset="0.899" stop-color="#ff5c00"/><stop offset="0.908" stop-color="#ff3a00"/><stop offset="0.919" stop-color="#ff1c00"/><stop offset="0.927" stop-color="#ff0800"/><stop offset="0.947" stop-color="#fe0000"/></linearGradient>
<linearGradient id="g132" x1="0" y1="0" x2="0" y2="1"><stop offset="0.000" stop-color="#008cff"/><stop offset="0.043" stop-color="#0098ff"/><stop offset="0.297" stop-color="#00ebff"/><stop offset="0.328" stop-color="#00fffa"/><stop offset="0.369" stop-color="#00ffeb"/><stop offset="0.435" stop-color="#00ffc8"/><stop offset="0.510" stop-color="#00ff96"/><stop offset="0.585" stop-color="#00ff5a"/><stop offset="0.610" stop-color="#00ff41"/><stop offset="0.654" stop-color="#00ff19"/><stop offset="0.689" stop-color="#0aff00"/><stop offset="0.724" stop-color="#32ff00"/><stop offset="0.749" stop-color="#5aff00"/><stop offset="0.797" stop-color="#96ff00"/><stop offset="0.830" stop-color="#e6ff0f"/><stop offset="0.846" stop-color="#fffa00"/><stop offset="0.862" stop-color="#ffdc00"/><stop offset="0.887" stop-color="#ff9600"/><stop offset="0.898" stop-color="#ff5c00"/><stop offset="0.907" stop-color="#ff3a00"/><stop offset="0.918" stop-color="#ff1c00"/><stop offset="0.927" stop-color="#ff0800"/><stop offset="0.947" stop-color="#fe0000"/></linearGradient>
<linearGradient id="g133" x1="0" y1="0" x2="0" y2="1"><stop offset="0.000" stop-color="#008dff"/><stop offset="0.039" stop-color="#0098ff"/><stop offset="0.295" stop-color="#00ebff"/><stop offset="0.326" stop-color="#00fffa"/><stop offset="0.367" stop-color="#00ffeb"/><stop offset="0.432" stop-color="#00ffc8"/><stop offset="0.507" stop-color="#00ff96"/><stop offset="0.582" stop-color="#00ff5a"/><stop offset="0.607" stop-color="#00ff41"/><stop offset="0.652" stop-color="#00ff19"/><stop offset="0.687" stop-color="#0aff00"/><stop offset="0.723" stop-color="#32ff00"/><stop offset="0.747" stop-color="#5aff00"/><stop offset="0.796" stop-color="#96ff00"/><stop offset="0.829" stop-color="#e6ff0f"/><stop offset="0.846" stop-color="#fffa00"/><stop offset="0.861" stop-color="#ffdc00"/><stop offset="0.887" stop-color="#ff9600"/><stop offset="0.898" stop-color="#ff5c00"/><stop offset="0.907" stop-color="#ff3a00"/><stop offset="0.918" stop-color="#ff1c00"/><stop offset="0.927" stop-color="#ff0800"/><stop offset="0.947" stop-color="#fe0000"/></linearGradient>
<linearGradient id="g134" x1="0" y1="0" x2="0" y2="1"><stop offset="0.000" stop-color="#008eff"/><stop offset="0.035" stop-color="#0098ff"/><stop offset="0.292" stop-color="#00ebff"/><stop offset="0.323" stop-color="#00fffa"/><stop offset="0.364" stop-color="#00ffeb"/><stop offset="0.430" stop-color="#00ffc8"/><stop offset="0.505" stop-color="#00ff96"/><stop offset="0.580" stop-color="#00ff5a"/><stop offset="0.605" stop-color="#00ff41"/><stop offset="0.650" stop-color="#00ff19"/><stop offset="0.686" stop-color="#0aff00"/><stop offset="0.721" stop-color="#32ff00"/><stop offset="0.746" stop-color="#5aff00"/><stop offset="0.795" stop-color="#96ff00"/><stop offset="0.829" stop-color="#e6ff0f"/><stop offset="0.845" stop-color="#fffa00"/><stop offset="0.861" stop-color="#ffdc00"/><stop offset="0.887" stop-color="#ff9600"/><stop offset="0.898" stop-color="#ff5c00"/><stop offset="0.907" stop-color="#ff3a00"/><stop offset="0.918" stop-color="#ff1c00"/><stop offset="0.927" stop-color="#ff0800"/><stop offset="0.947" stop-color="#fe0000"/></linearGradient>
<linearGradient id="g135" x1="0" y1="0" x2="0" y2="1"><stop offset="0.000" stop-color="#008fff"/><stop offset="0.031" stop-color="#0098ff"/><stop offset="0.289" stop-color="#00ebff"/><stop offset="0.321" stop-color="#00fffa"/><stop offset="0.362" stop-color="#00ffeb"/><stop offset="0.427" stop-color="#00ffc8"/><stop offset="0.503" stop-color="#00ff96"/><stop offset="0.578" stop-color="#00ff5a"/><stop offset="0.603" stop-color="#00ff41"/><stop offset="0.648" stop-color="#00ff19"/><stop offset="0.684" stop-color="#0aff00"/><stop offset="0.720" stop-color="#32ff00"/><stop offset="0.745" stop-color="#5aff00"/><stop offset="0.794" stop-color="#96ff00"/><stop offset="0.828" stop-color="#e6ff0f"/><stop offset="0.844" stop-color="#fffa00"/><stop offset="0.860" stop-color="#ffdc00"/><stop offset="0.886" stop-color="#ff9600"/><stop offset="0.898" stop-color="#ff5c00"/><stop offset="0.907" stop-color="#ff3a00"/><stop offset="0.918" stop-color="#ff1c00"/><stop offset="0.927" stop-color="#ff0800"/><stop offset="0.946" stop-color="#fe0000"/></linearGradient>
<linearGradient id="g136" x1="0" y1="0" x2="0" y2="1"><stop offset="0.000" stop-color="#0090ff"/><stop offset="0.027" stop-color="#0098ff"/><stop offset="0.287" stop-color="#00ebff"/><stop offset="0.318" stop-color="#00fffa"/><stop offset="0.359" stop-color="#00ffeb"/><stop offset="0.425" stop-color="#00ffc8"/><stop offset="0.500" stop-color="#00ff96"/><stop offset="0.576" stop-color="#00ff5a"/><stop offset="0.601" stop-color="#00ff41"/><stop offset="0.646" stop-color="#00ff19"/><stop offset="0.682" stop-color="#0aff00"/><stop offset="0.718" stop-color="#32ff00"/><stop offset="0.743" stop-color="#5aff00"/><stop offset="0.793" stop-color="#96ff00"/><stop offset="0.827" stop-color="#e6ff0f"/><stop offset="0.843" stop-color="#fffa00"/><stop offset="0.859" stop-color="#ffdc00"/><stop offset="0.886" stop-color="#ff9600"/><stop offset="0.897" stop-color="#ff5c00"/><stop offset="0.907" stop-color="#ff3a00"/><stop offset="0.918" stop-color="#ff1c00"/><stop offset="0.927" stop-color="#ff0800"/><stop offset="0.946" stop-color="#fe0000"/></linearGradient>
<linearGradient id="g137" x1="0" y1="0" x2="0" y2="1"><stop offset="0.000" stop-color="#0091ff"/><stop offset="0.024" stop-color="#0098ff"/><stop offset="0.284" stop-color="#00ebff"/><stop offset="0.316" stop-color="#00fffa"/><stop offset="0.356" stop-color="#00ffeb"/><stop offset="0.422" stop-color="#00ffc8"/><stop offset="0.498" stop-color="#00ff96"/><stop offset="0.573" stop-color="#00ff5a"/><stop offset="0.598" stop-color="#00ff41"/><stop offset="0.644" stop-color="#00ff19"/><stop offset="0.680" stop-color="#0aff00"/><stop offset="0.716" stop-color="#32ff00"/><stop offset="0.741" stop-color="#5aff00"/><stop offset="0.791" stop-color="#96ff00"/><stop offset="0.825" stop-color="#e6ff0f"/><stop offset="0.842" stop-color="#fffa00"/><stop offset="0.858" stop-color="#ffdc00"/><stop offset="0.885" stop-color="#ff9600"/><stop offset="0.897" stop-color="#ff5c00"/><stop offset="0.906" stop-color="#ff3a00"/><stop offset="0.917" stop-color="#ff1c00"/><stop offset="0.926" stop-color="#ff0800"/><stop offset="0.946" stop-color="#fe0000"/></linearGradient>
<linearGradient id="g138" x1="0" y1="0" x2="0" y2="1"><stop offset="0.000" stop-color="#0092ff"/><stop offset="0.020" stop-color="#0098ff"/><stop offset="0.282" stop-color="#00ebff"/><stop offset="0.313" stop-color="#00fffa"/><stop offset="0.354" stop-color="#00ffeb"/><stop offset="0.420" stop-color="#00ffc8"/><stop offset="0.496" stop-color="#00ff96"/><stop offset="0.571" stop-color="#00ff5a"/><stop offset="0.596" stop-color="#00ff41"/><stop offset="0.642" stop-color="#00ff19"/><stop offset="0.678" stop-color="#0aff00"/><stop offset="0.715" stop-color="#32ff00"/><stop offset="0.740" stop-color="#5aff00"/><stop offset="0.790" stop-color="#96ff00"/><stop offset="0.824" stop-color="#e6ff0f"/><stop offset="0.841" stop-color="#fffa00"/><stop offset="0.857" stop-color="#ffdc00"/><stop offset="0.885" stop-color="#ff9600"/><stop offset="0.896" stop-color="#ff5c00"/><stop offset="0.906" stop-color="#ff3a00"/><stop offset="0.917" stop-color="#ff1c00"/><stop offset="0.926" stop-color="#ff0800"/><stop offset="0.946" stop-color="#fe0000"/></linearGradient>
<linearGradient id="g139" x1="0" y1="0" x2="0" y2="1"><stop offset="0.000" stop-color="#0093ff"/><stop offset="0.017" stop-color="#0098ff"/><stop offset="0.279" stop-color="#00ebff"/><stop offset="0.310" stop-color="#00fffa"/><stop offset="0.351" stop-color="#00ffeb"/><stop offset="0.418" stop-color="#00ffc8"/><stop offset="0.493" stop-color="#00ff96"/><stop offset="0.569" stop-color="#00ff5a"/><stop offset="0.594" stop-color="#00ff41"/><stop offset="0.640" stop-color="#00ff19"/><stop offset="0.676" stop-color="#0aff00"/><stop offset="0.713" stop-color="#32ff00"/><stop offset="0.738" stop-color="#5aff00"/><stop offset="0.788" stop-color="#96ff00"/><stop offset="0.823" stop-color="#e6ff0f"/><stop offset="0.840" stop-color="#fffa00"/><stop offset="0.857" stop-color="#ffdc00"/><stop offset="0.884" stop-color="#ff9600"/><stop offset="0.896" stop-color="#ff5c00"/><stop offset="0.906" stop-color="#ff3a00"/><stop offset="0.917" stop-color="#ff1c00"/><stop offset="0.925" stop-color="#ff0800"/><stop offset="0.945" stop-color="#fe0000"/></linearGradient>
<linearGradient id="g140" x1="0" y1="0" x2="0" y2="1"><stop offset="0.000" stop-color="#0094ff"/><stop offset="0.013" stop-color="#0098ff"/><stop offset="0.276" stop-color="#00ebff"/><stop offset="0.308" stop-color="#00fffa"/><stop offset="0.349" stop-color="#00ffeb"/><stop offset="0.415" stop-color="#00ffc8"/><stop offset="0.491" stop-color="#00ff96"/><stop offset="0.567" stop-color="#00ff5a"/><stop offset="0.592" stop-color="#00ff41"/><stop offset="0.638" stop-color="#00ff19"/><stop offset="0.674" stop-color="#0aff00"/><stop offset="0.711" stop-color="#32ff00"/><stop offset="0.736" stop-color="#5aff00"/><stop offset="0.787" stop-color="#96ff00"/><stop offset="0.821" stop-color="#e6ff0f"/><stop offset="0.839" stop-color="#fffa00"/><stop offset="0.856" stop-color="#ffdc00"/><stop offset="0.884" stop-color="#ff9600"/><stop offset="0.896" stop-color="#ff5c00"/><stop offset="0.905" stop-color="#ff3a00"/><stop offset="0.916" stop-color="#ff1c00"/><stop offset="0.925" stop-color="#ff0800"/><stop offset="0.945" stop-color="#fe0000"/></linearGradient>
<linearGradient id="g141" x1="0" y1="0" x2="0" y2="1"><stop offset="0.000" stop-color="#0095ff"/><stop offset="0.010" stop-color="#0098ff"/><stop offset="0.274" stop-color="#00ebff"/><stop offset="0.305" stop-color="#00fffa"/><stop offset="0.346" stop-color="#00ffeb"/><stop offset="0.413" stop-color="#00ffc8"/><stop offset="0.489" stop-color="#00ff96"/><stop offset="0.564" stop-color="#00ff5a"/><stop offset="0.590" stop-color="#00ff41"/><stop offset="0.636" stop-color="#00ff19"/><stop offset="0.673" stop-color="#0aff00"/><stop offset="0.709" stop-color="#32ff00"/><stop offset="0.735" stop-color="#5aff00"/><stop offset="0.785" stop-color="#96ff00"/><stop offset="0.820" stop-color="#e6ff0f"/><stop offset="0.838" stop-color="#fffa00"/><stop offset="0.855" stop-color="#ffdc00"/><stop offset="0.883" stop-color="#ff9600"/><stop offset="0.895" stop-color="#ff5c00"/><stop offset="0.905" stop-color="#ff3a00"/><stop offset="0.916" stop-color="#ff1c00"/><stop offset="0.924" stop-color="#ff0800"/><stop offset="0.944" stop-color="#fe0000"/></linearGradient>
<linearGradient id="g142" x1="0" y1="0" x2="0" y2="1"><stop offset="0.000" stop-color="#0096ff"/><stop offset="0.006" stop-color="#0098ff"/><stop offset="0.271" stop-color="#00ebff"/><stop offset="0.302" stop-color="#00fffa"/><stop offset="0.344" stop-color="#00ffeb"/><stop offset="0.410" stop-color="#00ffc8"/><stop offset="0.486" stop-color="#00ff96"/><stop offset="0.562" stop-color="#00ff5a"/><stop offset="0.588" stop-color="#00ff41"/><stop offset="0.634" stop-color="#00ff19"/><stop offset="0.671" stop-color="#0aff00"/><stop offset="0.708" stop-color="#32ff00"/><stop offset="0.733" stop-color="#5aff00"/><stop offset="0.784" stop-color="#96ff00"/><stop offset="0.819" stop-color="#e6ff0f"/><stop offset="0.837" stop-color="#fffa00"/><stop offset="0.854" stop-color="#ffdc00"/><stop offset="0.882" stop-color="#ff9600"/><stop offset="0.894" stop-color="#ff5c00"/><stop offset="0.904" stop-color="#ff3a00"/><stop offset="0.915" stop-color="#ff1c00"/><stop offset="0.924" stop-color="#ff0800"/><stop offset="0.944" stop-color="#fe0000"/></linearGradient>
<linearGradient id="g143" x1="0" y1="0" x2="0" y2="1"><stop offset="0.000" stop-color="#0097ff"/><stop offset="0.002" stop-color="#0098ff"/><stop offset="0.268" stop-color="#00ebff"/><stop offset="0.299" stop-color="#00fffa"/><stop offset="0.341" stop-color="#00ffeb"/><stop offset="0.407" stop-color="#00ffc8"/><stop offset="0.484" stop-color="#00ff96"/><stop offset="0.560" stop-color="#00ff5a"/><stop offset="0.585" stop-color="#00ff41"/><stop offset="0.632" stop-color="#00ff19"/><stop offset="0.669" stop-color="#0aff00"/><stop offset="0.706" stop-color="#32ff00"/><stop offset="0.732" stop-color="#5aff00"/><stop offset="0.783" stop-color="#96ff00"/><stop offset="0.818" stop-color="#e6ff0f"/><stop offset="0.836" stop-color="#fffa00"/><stop offset="0.853" stop-color="#ffdc00"/><stop offset="0.882" stop-color="#ff9600"/><stop offset="0.894" stop-color="#ff5c00"/><stop offset="0.904" stop-color="#ff3a00"/><stop offset="0.915" stop-color="#ff1c00"/><stop offset="0.923" stop-color="#ff0800"/><stop offset="0.943" stop-color="#fe0000"/></linearGradient>
<linearGradient id="g144" x1="0" y1="0" x2="0" y2="1"><stop offset="0.000" stop-color="#0098ff"/><stop offset="0.264" stop-color="#00ebff"/><stop offset="0.296" stop-color="#00fffa"/><stop offset="0.338" stop-color="#00ffeb"/><stop offset="0.405" stop-color="#00ffc8"/><stop offset="0.481" stop-color="#00ff96"/><stop offset="0.558" stop-color="#00ff5a"/><stop offset="0.583" stop-color="#00ff41"/><stop offset="0.630" stop-color="#00ff19"/><stop offset="0.668" stop-color="#0aff00"/><stop offset="0.705" stop-color="#32ff00"/><stop offset="0.731" stop-color="#5aff00"/><stop offset="0.782" stop-color="#96ff00"/><stop offset="0.817" stop-color="#e6ff0f"/><stop offset="0.835" stop-color="#fffa00"/><stop offset="0.852" stop-color="#ffdc00"/><stop offset="0.881" stop-color="#ff9600"/><stop offset="0.893" stop-color="#ff5c00"/><stop offset="0.903" stop-color="#ff3a00"/><stop offset="0.914" stop-color="#ff1c00"/><stop offset="0.923" stop-color="#ff0800"/><stop offset="0.942" stop-color="#fe0000"/></linearGradient>
<linearGradient id="g145" x1="0" y1="0" x2="0" y2="1"><stop offset="0.000" stop-color="#0099ff"/><stop offset="0.261" stop-color="#00ebff"/><stop offset="0.293" stop-color="#00fffa"/><stop offset="0.335" stop-color="#00ffeb"/><stop offset="0.402" stop-color="#00ffc8"/><stop offset="0.479" stop-color="#00ff96"/><stop offset="0.556" stop-color="#00ff5a"/><stop offset="0.581" stop-color="#00ff41"/><stop offset="0.629" stop-color="#00ff19"/><stop offset="0.666" stop-color="#0aff00"/><stop offset="0.704" stop-color="#32ff00"/><stop offset="0.730" stop-color="#5aff00"/><stop offset="0.781" stop-color="#96ff00"/><stop offset="0.817" stop-color="#e6ff0f"/><stop offset="0.835" stop-color="#fffa00"/><stop offset="0.852" stop-color="#ffdc00"/><stop offset="0.880" stop-color="#ff9600"/><stop offset="0.893" stop-color="#ff5c00"/><stop offset="0.903" stop-color="#ff3a00"/><stop offset="0.913" stop-color="#ff1c00"/><stop offset="0.922" stop-color="#ff0800"/><stop offset="0.942" stop-color="#fe0000"/></linearGradient>
<linearGradient id="g146" x1="0" y1="0" x2="0" y2="1"><stop offset="0.000" stop-color="#009bff"/><stop offset="0.258" stop-color="#00ebff"/><stop offset="0.290" stop-color="#00fffa"/><stop offset="0.332" stop-color="#00ffeb"/><stop offset="0.400" stop-color="#00ffc8"/><stop offset="0.477" stop-color="#00ff96"/><stop offset="0.554" stop-color="#00ff5a"/><stop offset="0.580" stop-color="#00ff41"/><stop offset="0.627" stop-color="#00ff19"/><stop offset="0.665" stop-color="#0aff00"/><stop offset="0.703" stop-color="#32ff00"/><stop offset="0.729" stop-color="#5aff00"/><stop offset="0.781" stop-color="#96ff00"/><stop offset="0.816" stop-color="#e6ff0f"/><stop offset="0.834" stop-color="#fffa00"/><stop offset="0.851" stop-color="#ffdc00"/><stop offset="0.880" stop-color="#ff9600"/><stop offset="0.892" stop-color="#ff5c00"/><stop offset="0.902" stop-color="#ff3a00"/><stop offset="0.913" stop-color="#ff1c00"/><stop offset="0.922" stop-color="#ff0800"/><stop offset="0.941" stop-color="#fe0000"/></linearGradient>
<linearGradient id="g147" x1="0" y1="0" x2="0" y2="1"><stop offset="0.000" stop-color="#009cff"/><stop offset="0.255" stop-color="#00ebff"/><stop offset="0.287" stop-color="#00fffa"/><stop offset="0.329" stop-color="#00ffeb"/><stop offset="0.397" stop-color="#00ffc8"/><stop offset="0.475" stop-color="#00ff96"/><stop offset="0.552" stop-color="#00ff5a"/><stop offset="0.578" stop-color="#00ff41"/><stop offset="0.626" stop-color="#00ff19"/><stop offset="0.664" stop-color="#0aff00"/><stop offset="0.702" stop-color="#32ff00"/><stop offset="0.728" stop-color="#5aff00"/><stop offset="0.780" stop-color="#96ff00"/><stop offset="0.816" stop-color="#e6ff0f"/><stop offset="0.834" stop-color="#fffa00"/><stop offset="0.851" stop-color="#ffdc00"/><stop offset="0.879" stop-color="#ff9600"/><stop offset="0.891" stop-color="#ff5c00"/><stop offset="0.901" stop-color="#ff3a00"/><stop offset="0.912" stop-color="#ff1c00"/><stop offset="0.921" stop-color="#ff0800"/><stop offset="0.941" stop-color="#fe0000"/></linearGradient>
<linearGradient id="g148" x1="0" y1="0" x2="0" y2="1"><stop offset="0.000" stop-color="#009dff"/><stop offset="0.251" stop-color="#00ebff"/><stop offset="0.284" stop-color="#00fffa"/><stop offset="0.326" stop-color="#00ffeb"/><stop offset="0.395" stop-color="#00ffc8"/><stop offset="0.473" stop-color="#00ff96"/><stop offset="0.551" stop-color="#00ff5a"/><stop offset="0.577" stop-color="#00ff41"/><stop offset="0.624" stop-color="#00ff19"/><stop offset="0.663" stop-color="#0aff00"/><stop offset="0.701" stop-color="#32ff00"/><stop offset="0.727" stop-color="#5aff00"/><stop offset="0.780" stop-color="#96ff00"/><stop offset="0.816" stop-color="#e6ff0f"/><stop offset="0.833" stop-color="#fffa00"/><stop offset="0.850" stop-color="#ffdc00"/><stop offset="0.878" stop-color="#ff9600"/><stop offset="0.891" stop-color="#ff5c00"/><stop offset="0.901" stop-color="#ff3a00"/><stop offset="0.912" stop-color="#ff1c00"/><stop offset="0.920" stop-color="#ff0800"/><stop offset="0.940" stop-color="#fe0000"/></linearGradient>
<linearGradient id="g149" x1="0" y1="0" x2="0" y2="1"><stop offset="0.000" stop-color="#009eff"/><stop offset="0.248" stop-color="#00ebff"/><stop offset="0.281" stop-color="#00fffa"/><stop offset="0.323" stop-color="#00ffeb"/><stop offset="0.392" stop-color="#00ffc8"/><stop offset="0.471" stop-color="#00ff96"/><stop offset="0.549" stop-color="#00ff5a"/><stop offset="0.575" stop-color="#00ff41"/><stop offset="0.623" stop-color="#00ff19"/><stop offset="0.662" stop-color="#0aff00"/><stop offset="0.700" stop-color="#32ff00"/><stop offset="0.726" stop-color="#5aff00"/><stop offset="0.779" stop-color="#96ff00"/><stop offset="0.815" stop-color="#e6ff0f"/><stop offset="0.833" stop-color="#fffa00"/><stop offset="0.850" stop-color="#ffdc00"/><stop offset="0.878" stop-color="#ff9600"/><stop offset="0.890" stop-color="#ff5c00"/><stop offset="0.900" stop-color="#ff3a00"/><stop offset="0.911" stop-color="#ff1c00"/><stop offset="0.920" stop-color="#ff0800"/><stop offset="0.940" stop-color="#fe0000"/></linearGradient>
<linearGradient id="g150" x1="0" y1="0" x2="0" y2="1"><stop offset="0.000" stop-color="#009fff"/><stop offset="0.245" stop-color="#00ebff"/><stop offset="0.278" stop-color="#00fffa"/><stop offset="0.321" stop-color="#00ffeb"/><stop offset="0.390" stop-color="#00ffc8"/><stop offset="0.469" stop-color="#00ff96"/><stop offset="0.548" stop-color="#00ff5a"/><stop offset="0.574" stop-color="#00ff41"/><stop offset="0.622" stop-color="#00ff19"/><stop offset="0.661" stop-color="#0aff00"/><stop offset="0.699" stop-color="#32ff00"/><stop offset="0.726" stop-color="#5aff00"/><stop offset="0.779" stop-color="#96ff00"/><stop offset="0.815" stop-color="#e6ff0f"/><stop offset="0.832" stop-color="#fffa00"/><stop offset="0.849" stop-color="#ffdc00"/><stop offset="0.877" stop-color="#ff9600"/><stop offset="0.889" stop-color="#ff5c00"/><stop offset="0.900" stop-color="#ff3a00"/><stop offset="0.910" stop-color="#ff1c00"/><stop offset="0.919" stop-color="#ff0800"/><stop offset="0.939" stop-color="#fe0000"/></linearGradient>
<linearGradient id="g151" x1="0" y1="0" x2="0" y2="1"><stop offset="0.000" stop-color="#00a0ff"/><stop offset="0.241" stop-color="#00ebff"/><stop offset="0.275" stop-color="#00fffa"/><stop offset="0.318" stop-color="#00ffeb"/><stop offset="0.387" stop-color="#00ffc8"/><stop offset="0.467" stop-color="#00ff96"/><stop offset="0.547" stop-color="#00ff5a"/><stop offset="0.573" stop-color="#00ff41"/><stop offset="0.621" stop-color="#00ff19"/><stop offset="0.660" stop-color="#0aff00"/><stop offset="0.699" stop-color="#32ff00"/><stop offset="0.725" stop-color="#5aff00"/><stop offset="0.778" stop-color="#96ff00"/><stop offset="0.814" stop-color="#e6ff0f"/><stop offset="0.832" stop-color="#fffa00"/><stop offset="0.848" stop-color="#ffdc00"/><stop offset="0.876" stop-color="#ff9600"/><stop offset="0.889" stop-color="#ff5c00"/><stop offset="0.899" stop-color="#ff3a00"/><stop offset="0.910" stop-color="#ff1c00"/><stop offset="0.919" stop-color="#ff0800"/><stop offset="0.938" stop-color="#fe0000"/></linearGradient>
<linearGradient id="g152" x1="0" y1="0" x2="0" y2="1"><stop offset="0.000" stop-color="#00a0ff"/><stop offset="0.240" stop-color="#00ebff"/><stop offset="0.273" stop-color="#00fffa"/><stop offset="0.316" stop-color="#00ffeb"/><stop offset="0.386" stop-color="#00ffc8"/><stop offset="0.466" stop-color="#00ff96"/><stop offset="0.546" stop-color="#00ff5a"/><stop offset="0.573" stop-color="#00ff41"/><stop offset="0.621" stop-color="#00ff19"/><stop offset="0.660" stop-color="#0aff00"/><stop offset="0.698" stop-color="#32ff00"/><stop offset="0.725" stop-color="#5aff00"/><stop offset="0.778" stop-color="#96ff00"/><stop offset="0.814" stop-color="#e6ff0f"/><stop offset="0.831" stop-color="#fffa00"/><stop offset="0.848" stop-color="#ffdc00"/><stop offset="0.876" stop-color="#ff9600"/><stop offset="0.889" stop-color="#ff5c00"/><stop offset="0.899" stop-color="#ff3a00"/><stop offset="0.910" stop-color="#ff1c00"/><stop offset="0.918" stop-color="#ff0800"/><stop offset="0.938" stop-color="#fe0000"/></linearGradient></defs>
<rect x="0" y="0" width="520" height="872" fill="#fff"/>
<g shape-rendering="crispEdges"><rect x="131" y="28" width="3" height="305" fill="url(#g0)"/>
<rect x="133" y="28" width="3" height="305" fill="url(#g1)"/>
<rect x="135" y="28" width="3" height="305" fill="url(#g2)"/>
<rect x="137" y="28" width="3" height="305" fill="url(#g3)"/>
<rect x="139" y="28" width="3" height="305" fill="url(#g4)"/>
<rect x="141" y="28" width="3" height="305" fill="url(#g5)"/>
<rect x="143" y="28" width="3" height="305" fill="url(#g6)"/>
<rect x="145" y="28" width="3" height="305" fill="url(#g7)"/>
<rect x="147" y="28" width="3" height="305" fill="url(#g8)"/>
<rect x="149" y="28" width="3" height="305" fill="url(#g9)"/>
<rect x="151" y="28" width="3" height="305" fill="url(#g10)"/>
<rect x="153" y="28" width="3" height="305" fill="url(#g11)"/>
<rect x="155" y="28" width="3" height="305" fill="url(#g12)"/>
<rect x="157" y="28" width="3" height="305" fill="url(#g13)"/>
<rect x="159" y="28" width="3" height="305" fill="url(#g14)"/>
<rect x="161" y="28" width="3" height="305" fill="url(#g15)"/>
<rect x="163" y="28" width="3" height="305" fill="url(#g16)"/>
<rect x="165" y="28" width="3" height="305" fill="url(#g17)"/>
<rect x="167" y="28" width="3" height="305" fill="url(#g18)"/>
<rect x="169" y="28" width="3" height="305" fill="url(#g19)"/>
<rect x="171" y="28" width="3" height="305" fill="url(#g20)"/>
<rect x="173" y="28" width="3" height="305" fill="url(#g21)"/>
<rect x="175" y="28" width="3" height="305" fill="url(#g22)"/>
<rect x="177" y="28" width="3" height="305" fill="url(#g23)"/>
<rect x="179" y="28" width="3" height="305" fill="url(#g24)"/>
<rect x="181" y="28" width="3" height="305" fill="url(#g25)"/>
<rect x="183" y="28" width="3" height="305" fill="url(#g26)"/>
<rect x="185" y="28" width="3" height="305" fill="url(#g27)"/>
<rect x="187" y="28" width="3" height="305" fill="url(#g28)"/>
<rect x="189" y="28" width="3" height="305" fill="url(#g29)"/>
<rect x="191" y="28" width="3" height="305" fill="url(#g30)"/>
<rect x="193" y="28" width="3" height="305" fill="url(#g31)"/>
<rect x="195" y="28" width="3" height="305" fill="url(#g32)"/>
<rect x="197" y="28" width="3" height="305" fill="url(#g33)"/>
<rect x="199" y="28" width="3" height="305" fill="url(#g34)"/>
<rect x="201" y="28" width="3" height="305" fill="url(#g35)"/>
<rect x="203" y="28" width="3" height="305" fill="url(#g36)"/>
<rect x="205" y="28" width="3" height="305" fill="url(#g37)"/>
<rect x="207" y="28" width="3" height="305" fill="url(#g38)"/>
<rect x="209" y="28" width="3" height="305" fill="url(#g39)"/>
<rect x="211" y="28" width="3" height="305" fill="url(#g40)"/>
<rect x="213" y="28" width="3" height="305" fill="url(#g41)"/>
<rect x="215" y="28" width="3" height="305" fill="url(#g42)"/>
<rect x="217" y="28" width="3" height="305" fill="url(#g43)"/>
<rect x="219" y="28" width="3" height="305" fill="url(#g44)"/>
<rect x="221" y="28" width="3" height="305" fill="url(#g45)"/>
<rect x="223" y="28" width="3" height="305" fill="url(#g46)"/>
<rect x="225" y="28" width="3" height="305" fill="url(#g47)"/>
<rect x="227" y="28" width="3" height="305" fill="url(#g48)"/>
<rect x="229" y="28" width="3" height="305" fill="url(#g49)"/>
<rect x="231" y="28" width="3" height="305" fill="url(#g50)"/>
<rect x="233" y="28" width="3" height="305" fill="url(#g51)"/>
<rect x="235" y="28" width="3" height="305" fill="url(#g52)"/>
<rect x="237" y="28" width="3" height="305" fill="url(#g53)"/>
<rect x="239" y="28" width="3" height="305" fill="url(#g54)"/>
<rect x="241" y="28" width="3" height="305" fill="url(#g55)"/>
<rect x="243" y="28" width="3" height="305" fill="url(#g56)"/>
<rect x="245" y="28" width="3" height="305" fill="url(#g57)"/>
<rect x="247" y="28" width="3" height="305" fill="url(#g58)"/>
<rect x="249" y="28" width="3" height="305" fill="url(#g59)"/>
<rect x="251" y="28" width="3" height="305" fill="url(#g60)"/>
<rect x="253" y="28" width="3" height="305" fill="url(#g61)"/>
<rect x="255" y="28" width="3" height="305" fill="url(#g62)"/>
<rect x="257" y="28" width="3" height="305" fill="url(#g63)"/>
<rect x="259" y="28" width="3" height="305" fill="url(#g64)"/>
<rect x="261" y="28" width="3" height="305" fill="url(#g65)"/>
<rect x="263" y="28" width="3" height="305" fill="url(#g66)"/>
<rect x="265" y="28" width="3" height="305" fill="url(#g67)"/>
<rect x="267" y="28" width="3" height="305" fill="url(#g68)"/>
<rect x="269" y="28" width="3" height="305" fill="url(#g69)"/>
<rect x="271" y="28" width="3" height="305" fill="url(#g70)"/>
<rect x="273" y="28" width="3" height="305" fill="url(#g71)"/>
<rect x="275" y="28" width="3" height="305" fill="url(#g72)"/>
<rect x="277" y="28" width="3" height="305" fill="url(#g73)"/>
<rect x="279" y="28" width="3" height="305" fill="url(#g74)"/>
<rect x="281" y="28" width="3" height="305" fill="url(#g75)"/>
<rect x="283" y="28" width="3" height="305" fill="url(#g76)"/>
<rect x="285" y="28" width="3" height="305" fill="url(#g77)"/>
<rect x="287" y="28" width="3" height="305" fill="url(#g78)"/>
<rect x="289" y="28" width="3" height="305" fill="url(#g79)"/>
<rect x="291" y="28" width="3" height="305" fill="url(#g80)"/>
<rect x="293" y="28" width="3" height="305" fill="url(#g81)"/>
<rect x="295" y="28" width="3" height="305" fill="url(#g82)"/>
<rect x="297" y="28" width="3" height="305" fill="url(#g83)"/>
<rect x="299" y="28" width="3" height="305" fill="url(#g84)"/>
<rect x="301" y="28" width="3" height="305" fill="url(#g85)"/>
<rect x="303" y="28" width="3" height="305" fill="url(#g86)"/>
<rect x="305" y="28" width="3" height="305" fill="url(#g87)"/>
<rect x="307" y="28" width="3" height="305" fill="url(#g88)"/>
<rect x="309" y="28" width="3" height="305" fill="url(#g89)"/>
<rect x="311" y="28" width="3" height="305" fill="url(#g90)"/>
<rect x="313" y="28" width="3" height="305" fill="url(#g91)"/>
<rect x="315" y="28" width="3" height="305" fill="url(#g92)"/>
<rect x="317" y="28" width="3" height="305" fill="url(#g93)"/>
<rect x="319" y="28" width="3" height="305" fill="url(#g94)"/>
<rect x="321" y="28" width="3" height="305" fill="url(#g95)"/>
<rect x="323" y="28" width="3" height="305" fill="url(#g96)"/>
<rect x="325" y="28" width="3" height="305" fill="url(#g97)"/>
<rect x="327" y="28" width="3" height="305" fill="url(#g98)"/>
<rect x="329" y="28" width="3" height="305" fill="url(#g99)"/>
<rect x="331" y="28" width="3" height="305" fill="url(#g100)"/>
<rect x="333" y="28" width="3" height="305" fill="url(#g101)"/>
<rect x="335" y="28" width="3" height="305" fill="url(#g102)"/>
<rect x="337" y="28" width="3" height="305" fill="url(#g103)"/>
<rect x="339" y="28" width="3" height="305" fill="url(#g104)"/>
<rect x="341" y="28" width="3" height="305" fill="url(#g105)"/>
<rect x="343" y="28" width="3" height="305" fill="url(#g106)"/>
<rect x="345" y="28" width="3" height="305" fill="url(#g107)"/>
<rect x="347" y="28" width="3" height="305" fill="url(#g108)"/>
<rect x="349" y="28" width="3" height="305" fill="url(#g109)"/>
<rect x="351" y="28" width="3" height="305" fill="url(#g110)"/>
<rect x="353" y="28" width="3" height="305" fill="url(#g111)"/>
<rect x="355" y="28" width="3" height="305" fill="url(#g112)"/>
<rect x="357" y="28" width="3" height="305" fill="url(#g113)"/>
<rect x="359" y="28" width="3" height="305" fill="url(#g114)"/>
<rect x="361" y="28" width="3" height="305" fill="url(#g115)"/>
<rect x="363" y="28" width="3" height="305" fill="url(#g116)"/>
<rect x="365" y="28" width="3" height="305" fill="url(#g117)"/>
<rect x="367" y="28" width="3" height="305" fill="url(#g118)"/>
<rect x="369" y="28" width="3" height="305" fill="url(#g119)"/>
<rect x="371" y="28" width="3" height="305" fill="url(#g120)"/>
<rect x="373" y="28" width="3" height="305" fill="url(#g121)"/>
<rect x="375" y="28" width="3" height="305" fill="url(#g122)"/>
<rect x="377" y="28" width="3" height="305" fill="url(#g123)"/>
<rect x="379" y="28" width="3" height="305" fill="url(#g124)"/>
<rect x="381" y="28" width="3" height="305" fill="url(#g125)"/>
<rect x="383" y="28" width="3" height="305" fill="url(#g126)"/>
<rect x="385" y="28" width="3" height="305" fill="url(#g127)"/>
<rect x="387" y="28" width="3" height="305" fill="url(#g128)"/>
<rect x="389" y="28" width="3" height="305" fill="url(#g129)"/>
<rect x="391" y="28" width="3" height="305" fill="url(#g130)"/>
<rect x="393" y="28" width="3" height="305" fill="url(#g131)"/>
<rect x="395" y="28" width="3" height="305" fill="url(#g132)"/>
<rect x="397" y="28" width="3" height="305" fill="url(#g133)"/>
<rect x="399" y="28" width="3" height="305" fill="url(#g134)"/>
<rect x="401" y="28" width="3" height="305" fill="url(#g135)"/>
<rect x="403" y="28" width="3" height="305" fill="url(#g136)"/>
<rect x="405" y="28" width="3" height="305" fill="url(#g137)"/>
<rect x="407" y="28" width="3" height="305" fill="url(#g138)"/>
<rect x="409" y="28" width="3" height="305" fill="url(#g139)"/>
<rect x="411" y="28" width="3" height="305" fill="url(#g140)"/>
<rect x="413" y="28" width="3" height="305" fill="url(#g141)"/>
<rect x="415" y="28" width="3" height="305" fill="url(#g142)"/>
<rect x="417" y="28" width="3" height="305" fill="url(#g143)"/>
<rect x="419" y="28" width="3" height="305" fill="url(#g144)"/>
<rect x="421" y="28" width="3" height="305" fill="url(#g145)"/>
<rect x="423" y="28" width="3" height="305" fill="url(#g146)"/>
<rect x="425" y="28" width="3" height="305" fill="url(#g147)"/>
<rect x="427" y="28" width="3" height="305" fill="url(#g148)"/>
<rect x="429" y="28" width="3" height="305" fill="url(#g149)"/>
<rect x="431" y="28" width="3" height="305" fill="url(#g150)"/>
<rect x="433" y="28" width="3" height="305" fill="url(#g151)"/>
<rect x="435" y="28" width="1" height="305" fill="url(#g152)"/></g>
<polyline points="130,236.2 132.5,232 138,231 146.2,210.8 161.2,206.2 167,195.8 190,187.5 206.2,167 223,158.8 226.2,155.5 237.5,150.8 240,147.5 245,141.2 255,135 263.8,126.2 275,119.5 292.5,110 305,100 312.5,96.2 327.5,83.8 340,77.5 347.5,72.5 361.2,66.2 376.2,55 390,43.8 405,36.2 415,29.5 420,28" fill="none" stroke="#15303a" stroke-width="1.35" stroke-linejoin="round"/>
<polyline points="130,292 131.2,291.2 136.2,276.2 148.8,272 153.8,261.2 161.2,258.8 168.8,242.5 183.8,238 191.2,235 205,230.5 213.8,218.8 223,215 232.5,202.5 253.8,196.2 256.8,192 273.8,187.5 282.5,181.2 297.5,167.5 303.8,166.2 312,162.5 321.2,156.2 340,150.5 350,142.5 362.5,133.8 372.5,130 380,123.8 393.8,120 407.5,113.8 423.8,108 431.2,102 436.2,100" fill="none" stroke="#15303a" stroke-width="1.35" stroke-linejoin="round"/>
<polyline points="130.5,332 131.2,331.2 133.8,315 143.8,311.2 147.5,303.8 160,300.5 163.8,296.2 180,293.8 183.8,288.8 191.2,286.2 200,278.8 222.5,275 226.2,273.8 240,271.2 247.5,263.8 253.8,262.5 267.5,249.5 282.5,247.5 291.2,241.2 312.5,237.5 325,235 343.8,233 360.8,231.2 372.5,225 380,221.2 393.8,213.8 406.2,211.2 420,205 436.2,202.5" fill="none" stroke="#15303a" stroke-width="1.35" stroke-linejoin="round"/>
<polyline points="170,333.8 175,321.2 191.2,318 196.2,314.5 207.5,311.2 213.8,307.5 223.8,306.2 231.2,300.5 253.8,300 257.5,298 325,295 337.5,290 345,288.8 360,285 371.2,283.8 395.8,281.2 406.2,280 415,277.5 436.2,276.2" fill="none" stroke="#15303a" stroke-width="1.35" stroke-linejoin="round"/>
<rect x="263.8" y="111.2" width="8.8" height="17.5" fill="#fff"/>
<text x="268.1" y="125.8" font-size="18.2" text-anchor="middle">1</text>
<rect x="303.2" y="152.5" width="8.8" height="17.5" fill="#fff"/>
<text x="307.6" y="167" font-size="18.2" text-anchor="middle">2</text>
<rect x="343.8" y="225" width="17" height="17.5" fill="#fff"/>
<text x="352.2" y="239.5" font-size="18.2" text-anchor="middle">10</text>
<rect x="371.2" y="275" width="24.5" height="17.5" fill="#fff"/>
<text x="383.5" y="289.5" font-size="18.2" text-anchor="middle">100</text>
<line x1="100.5" y1="352.5" x2="344.7" y2="28" stroke="#e3202e" stroke-width="2.5" stroke-dasharray="10.5 9.5" stroke-dashoffset="18.5"/>
<line x1="100.5" y1="352.5" x2="430.2" y2="177.3" stroke="#e3202e" stroke-width="2.5" stroke-dasharray="10.5 9.74" stroke-dashoffset="1.8"/>
<rect x="157.5" y="95" width="83.3" height="40.5" fill="#fff"/>
<text font-size="25.3" class="it"><tspan x="161" y="117.5">S</tspan><tspan class="ss it" font-size="13" x="171.8" y="126">K</tspan><tspan font-size="12" x="180" y="130.3">z</tspan><tspan x="200.8" y="117.5">S</tspan><tspan class="ss it" font-size="13" x="213.5" y="126">K</tspan><tspan font-size="12" x="221.5" y="130.3">r</tspan><tspan font-size="24" font-style="normal" x="225.5" y="119.8">=</tspan></text>
<text class="ss" font-size="18" font-weight="bold" transform="translate(189.2 118) skewX(-5)">/</text>
<rect x="100" y="28" width="336.3" height="324.8" fill="none" stroke="#000" stroke-width="1.6"/>
<path d="M100.5 352.5v6.5M176.8 352.5v6.5M253.1 352.5v6.5M329.5 352.5v6.5M405.8 352.5v6.5M138.7 352.5v3.5M215 352.5v3.5M291.3 352.5v3.5M367.6 352.5v3.5M100.5 352.5h-7.5M100.5 311.9h-4M100.5 271.4h-7.5M100.5 230.8h-4M100.5 190.2h-7.5M100.5 149.7h-4M100.5 109.1h-7.5M100.5 68.6h-4M100.5 28h-7.5" stroke="#000" stroke-width="1.3" fill="none"/>
<text x="100.5" y="380" font-size="21.8" text-anchor="middle">0</text>
<text x="176.8" y="380" font-size="21.8" text-anchor="middle">5</text>
<text x="253.1" y="380" font-size="21.8" text-anchor="middle">10</text>
<text x="329.5" y="380" font-size="21.8" text-anchor="middle">15</text>
<text x="405.8" y="380" font-size="21.8" text-anchor="middle">20</text>
<text x="89.6" y="359.1" font-size="21.8" text-anchor="end">0</text>
<text x="89.6" y="278" font-size="21.8" text-anchor="end">2</text>
<text x="89.6" y="196.8" font-size="21.8" text-anchor="end">4</text>
<text x="89.6" y="115.7" font-size="21.8" text-anchor="end">6</text>
<text x="89.6" y="34.6" font-size="21.8" text-anchor="end">8</text>
<text y="413" font-size="27.5"><tspan class="it" font-size="28.5" x="224.5">w</tspan><tspan font-size="18" x="241" dy="9.5">0</tspan><tspan x="257.3" dy="-9.5">(μm)</tspan></text>
<text transform="translate(46 238.8) rotate(-90)" font-size="28"><tspan class="it" x="0" y="0">d</tspan><tspan class="it" font-size="16" x="16.7" y="8.6">p,r</tspan><tspan x="40.5" y="-1">(μm)</tspan></text>
<text class="ss" x="24" y="38.4" font-size="26.5">(a)</text>
<text class="red" x="323.5" y="12.5" font-size="20"><tspan class="it">w</tspan><tspan font-size="11.5" dx="-0.5" dy="7.2">0</tspan><tspan dx="4.5" dy="-7.2">=</tspan><tspan dx="4.5">2</tspan><tspan class="it" dx="5">d</tspan><tspan class="it" font-size="13" dx="0" dy="6.8">p,r</tspan></text>
<text class="red" x="442" y="174.8" font-size="20"><tspan class="it">w</tspan><tspan font-size="11.5" dx="-0.5" dy="7.2">0</tspan><tspan dx="4.5" dy="-7.2">=</tspan><tspan dx="4.5">5</tspan><tspan class="it" dx="5">d</tspan><tspan class="it" font-size="13" dx="0" dy="6.8">p,r</tspan></text>
<line x1="100" y1="718.9" x2="436.2" y2="718.9" stroke="#4ed94e" stroke-width="1" stroke-dasharray="2 2.9"/>
<polyline points="116.1,744 133.6,743.9 167.2,743.5 200.9,737.8 234.5,727.5 268.1,711.5 301.7,690.2 335.3,662 369,628.8 402.6,587.9 436.2,540.3" fill="none" stroke="#000" stroke-width="2.5" stroke-linejoin="round"/>
<rect x="100" y="529.5" width="336.2" height="270.5" fill="none" stroke="#000" stroke-width="2"/>
<path d="M116.8 800v-7M133.6 800v-7M150.4 800v-7M167.2 800v-12M184.1 800v-7M200.9 800v-7M217.7 800v-7M234.5 800v-12M251.3 800v-7M268.1 800v-7M284.9 800v-7M301.7 800v-12M318.5 800v-7M335.3 800v-7M352.1 800v-7M369 800v-12M385.8 800v-7M402.6 800v-7M419.4 800v-7M116.8 529.5v7M133.6 529.5v7M150.4 529.5v7M167.2 529.5v12M184.1 529.5v7M200.9 529.5v7M217.7 529.5v7M234.5 529.5v12M251.3 529.5v7M268.1 529.5v7M284.9 529.5v7M301.7 529.5v12M318.5 529.5v7M335.3 529.5v7M352.1 529.5v7M369 529.5v12M385.8 529.5v7M402.6 529.5v7M419.4 529.5v7M100 786.5h7M436.2 786.5h-7M100 773h7M436.2 773h-7M100 759.4h7M436.2 759.4h-7M100 745.9h12M436.2 745.9h-12M100 732.4h7M436.2 732.4h-7M100 718.9h7M436.2 718.9h-7M100 705.3h7M436.2 705.3h-7M100 691.8h12M436.2 691.8h-12M100 678.3h7M436.2 678.3h-7M100 664.8h7M436.2 664.8h-7M100 651.2h7M436.2 651.2h-7M100 637.7h12M436.2 637.7h-12M100 624.2h7M436.2 624.2h-7M100 610.6h7M436.2 610.6h-7M100 597.1h7M436.2 597.1h-7M100 583.6h12M436.2 583.6h-12M100 570.1h7M436.2 570.1h-7M100 556.5h7M436.2 556.5h-7M100 543h7M436.2 543h-7" stroke="#000" stroke-width="2" fill="none"/>
<text x="100" y="830.3" font-size="21.8" text-anchor="middle">0</text>
<text x="167.2" y="830.3" font-size="21.8" text-anchor="middle">2</text>
<text x="234.5" y="830.3" font-size="21.8" text-anchor="middle">4</text>
<text x="301.7" y="830.3" font-size="21.8" text-anchor="middle">6</text>
<text x="369" y="830.3" font-size="21.8" text-anchor="middle">8</text>
<text x="436.2" y="830.3" font-size="21.8" text-anchor="middle">10</text>
<text x="100" y="511.5" font-size="21.8" text-anchor="middle">0.0</text>
<text x="167.2" y="511.5" font-size="21.8" text-anchor="middle">0.8</text>
<text x="234.5" y="511.5" font-size="21.8" text-anchor="middle">1.6</text>
<text x="301.7" y="511.5" font-size="21.8" text-anchor="middle">2.4</text>
<text x="369" y="511.5" font-size="21.8" text-anchor="middle">3.2</text>
<text x="436.2" y="511.5" font-size="21.8" text-anchor="middle">4.0</text>
<text x="87.3" y="805.8" font-size="21.8" text-anchor="end">0</text>
<text x="87.3" y="751.7" font-size="21.8" text-anchor="end">20</text>
<text x="87.3" y="697.6" font-size="21.8" text-anchor="end">40</text>
<text x="87.3" y="643.5" font-size="21.8" text-anchor="end">60</text>
<text x="87.3" y="589.4" font-size="21.8" text-anchor="end">80</text>
<text x="87.3" y="535.3" font-size="21.8" text-anchor="end">100</text>
<text y="862.3" font-size="27.5"><tspan class="it" font-size="28.5" x="224.5">w</tspan><tspan font-size="18" x="241" dy="9.5">0</tspan><tspan x="257.3" dy="-9.5">(μm)</tspan></text>
<text y="477" font-size="28.5"><tspan class="it" x="228.3">w</tspan><tspan font-size="18" x="245" dy="9.5">0</tspan><tspan class="it" x="274.5" dy="-9.5">d</tspan><tspan class="it" font-size="18" x="288.5" dy="9">p,r</tspan></text>
<text class="ss" font-size="22" font-weight="bold" transform="translate(260.3 477.5) skewX(-10)">/</text>
<text transform="translate(18.5 695) rotate(-90) scale(1.28 1)" font-size="29">η</text>
<text transform="translate(18.5 694) rotate(-90)" font-size="29"><tspan class="ss it" font-size="14.5" x="16.5" y="10.5">K</tspan><tspan class="it" font-size="12" x="26.8" y="16">r</tspan><tspan class="it" font-size="28" x="32" y="-0.8">(%)</tspan></text>
<text x="131" y="593" font-size="21.6">ZnO, <tspan class="it" dx="-1.2">f</tspan> = 1 MHz</text>
<text class="ss" x="21.2" y="479.5" font-size="26.5">(b)</text>
</svg></body></html>
